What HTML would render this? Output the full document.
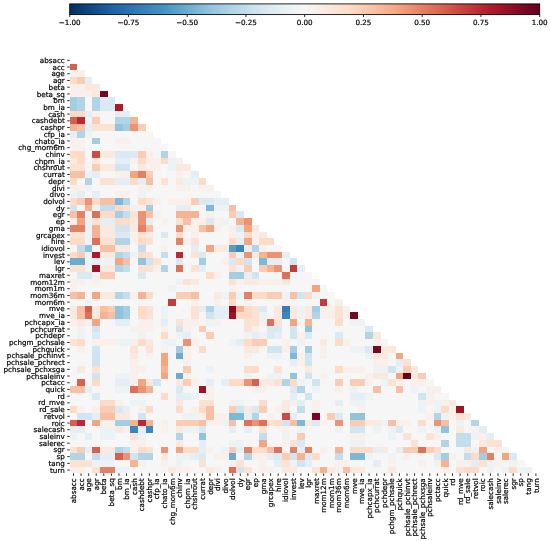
<!DOCTYPE html>
<html><head><meta charset="utf-8"><style>
html,body{margin:0;padding:0;background:#fff;}
body{width:550px;height:541px;overflow:hidden;}
svg{display:block;}
text{font-family:"DejaVu Sans","Liberation Sans",sans-serif;font-size:7.2px;fill:#000;stroke:#000;stroke-width:0.2px;}
</style></head><body>
<svg width="550" height="541" viewBox="0 0 550 541">
<defs><linearGradient id="cb" x1="0" x2="1" y1="0" y2="0"><stop offset="0.0000" stop-color="#053061"/><stop offset="0.0156" stop-color="#09386d"/><stop offset="0.0312" stop-color="#0e4179"/><stop offset="0.0469" stop-color="#124984"/><stop offset="0.0625" stop-color="#175290"/><stop offset="0.0781" stop-color="#1b5a9c"/><stop offset="0.0938" stop-color="#1f63a8"/><stop offset="0.1094" stop-color="#246aae"/><stop offset="0.1250" stop-color="#2a71b2"/><stop offset="0.1406" stop-color="#2f79b5"/><stop offset="0.1562" stop-color="#3480b9"/><stop offset="0.1719" stop-color="#3a87bd"/><stop offset="0.1875" stop-color="#3f8ec0"/><stop offset="0.2031" stop-color="#4695c4"/><stop offset="0.2188" stop-color="#529dc8"/><stop offset="0.2344" stop-color="#5fa5cd"/><stop offset="0.2500" stop-color="#6bacd1"/><stop offset="0.2656" stop-color="#78b4d5"/><stop offset="0.2812" stop-color="#84bcd9"/><stop offset="0.2969" stop-color="#90c4dd"/><stop offset="0.3125" stop-color="#9bc9e0"/><stop offset="0.3281" stop-color="#a5cee3"/><stop offset="0.3438" stop-color="#aed3e6"/><stop offset="0.3594" stop-color="#b8d8e9"/><stop offset="0.3750" stop-color="#c2ddec"/><stop offset="0.3906" stop-color="#cce2ef"/><stop offset="0.4062" stop-color="#d4e6f1"/><stop offset="0.4219" stop-color="#dae9f2"/><stop offset="0.4375" stop-color="#e0ecf3"/><stop offset="0.4531" stop-color="#e6eff4"/><stop offset="0.4688" stop-color="#ecf2f5"/><stop offset="0.4844" stop-color="#f2f5f6"/><stop offset="0.5000" stop-color="#f7f6f6"/><stop offset="0.5156" stop-color="#f8f2ef"/><stop offset="0.5312" stop-color="#f9eee7"/><stop offset="0.5469" stop-color="#fae9df"/><stop offset="0.5625" stop-color="#fbe5d8"/><stop offset="0.5781" stop-color="#fce0d0"/><stop offset="0.5938" stop-color="#fddcc9"/><stop offset="0.6094" stop-color="#fcd5bf"/><stop offset="0.6250" stop-color="#fbccb4"/><stop offset="0.6406" stop-color="#f9c4a9"/><stop offset="0.6562" stop-color="#f8bb9e"/><stop offset="0.6719" stop-color="#f6b394"/><stop offset="0.6875" stop-color="#f5aa89"/><stop offset="0.7031" stop-color="#f2a17f"/><stop offset="0.7188" stop-color="#ee9677"/><stop offset="0.7344" stop-color="#e98b6e"/><stop offset="0.7500" stop-color="#e48066"/><stop offset="0.7656" stop-color="#df765e"/><stop offset="0.7812" stop-color="#db6b55"/><stop offset="0.7969" stop-color="#d6604d"/><stop offset="0.8125" stop-color="#d05548"/><stop offset="0.8281" stop-color="#cb4942"/><stop offset="0.8438" stop-color="#c53e3d"/><stop offset="0.8594" stop-color="#bf3338"/><stop offset="0.8750" stop-color="#ba2832"/><stop offset="0.8906" stop-color="#b41c2d"/><stop offset="0.9062" stop-color="#ab162a"/><stop offset="0.9219" stop-color="#9f1228"/><stop offset="0.9375" stop-color="#930e26"/><stop offset="0.9531" stop-color="#870a24"/><stop offset="0.9688" stop-color="#7c0722"/><stop offset="0.9844" stop-color="#700320"/><stop offset="1.0000" stop-color="#67001f"/></linearGradient></defs>
<g>
<rect x="69.7" y="3.9" width="470.00" height="10.70" fill="url(#cb)"/>
<rect x="69.7" y="3.9" width="470.00" height="10.70" fill="none" stroke="#000" stroke-width="0.85"/>
<line x1="69.70" x2="69.70" y1="14.6" y2="17.05" stroke="#000" stroke-width="0.85"/>
<text x="69.70" y="24.97" text-anchor="middle">−1.00</text>
<line x1="128.45" x2="128.45" y1="14.6" y2="17.05" stroke="#000" stroke-width="0.85"/>
<text x="128.45" y="24.97" text-anchor="middle">−0.75</text>
<line x1="187.20" x2="187.20" y1="14.6" y2="17.05" stroke="#000" stroke-width="0.85"/>
<text x="187.20" y="24.97" text-anchor="middle">−0.50</text>
<line x1="245.95" x2="245.95" y1="14.6" y2="17.05" stroke="#000" stroke-width="0.85"/>
<text x="245.95" y="24.97" text-anchor="middle">−0.25</text>
<line x1="304.70" x2="304.70" y1="14.6" y2="17.05" stroke="#000" stroke-width="0.85"/>
<text x="304.70" y="24.97" text-anchor="middle">0.00</text>
<line x1="363.45" x2="363.45" y1="14.6" y2="17.05" stroke="#000" stroke-width="0.85"/>
<text x="363.45" y="24.97" text-anchor="middle">0.25</text>
<line x1="422.20" x2="422.20" y1="14.6" y2="17.05" stroke="#000" stroke-width="0.85"/>
<text x="422.20" y="24.97" text-anchor="middle">0.50</text>
<line x1="480.95" x2="480.95" y1="14.6" y2="17.05" stroke="#000" stroke-width="0.85"/>
<text x="480.95" y="24.97" text-anchor="middle">0.75</text>
<line x1="539.70" x2="539.70" y1="14.6" y2="17.05" stroke="#000" stroke-width="0.85"/>
<text x="539.70" y="24.97" text-anchor="middle">1.00</text>
<g shape-rendering="crispEdges"><rect x="69.70" y="63.72" width="7.58" height="6.72" fill="#d6604d"/><rect x="69.70" y="70.43" width="7.58" height="6.72" fill="#edf2f5"/><rect x="77.28" y="70.43" width="7.58" height="6.72" fill="#f9f0eb"/><rect x="69.70" y="77.15" width="7.58" height="6.72" fill="#fddbc7"/><rect x="77.28" y="77.15" width="7.58" height="6.72" fill="#fbccb4"/><rect x="84.86" y="77.15" width="7.58" height="6.72" fill="#e4eef4"/><rect x="69.70" y="83.86" width="7.58" height="6.72" fill="#f9f0eb"/><rect x="77.28" y="83.86" width="7.58" height="6.72" fill="#f9f0eb"/><rect x="84.86" y="83.86" width="7.58" height="6.72" fill="#fae9df"/><rect x="92.44" y="83.86" width="7.58" height="6.72" fill="#fae9df"/><rect x="69.70" y="90.58" width="7.58" height="6.72" fill="#f9f0eb"/><rect x="77.28" y="90.58" width="7.58" height="6.72" fill="#f9f0eb"/><rect x="84.86" y="90.58" width="7.58" height="6.72" fill="#f9f0eb"/><rect x="92.44" y="90.58" width="7.58" height="6.72" fill="#fae9df"/><rect x="100.02" y="90.58" width="7.58" height="6.72" fill="#790622"/><rect x="69.70" y="97.30" width="7.58" height="6.72" fill="#a2cde3"/><rect x="77.28" y="97.30" width="7.58" height="6.72" fill="#b1d5e7"/><rect x="84.86" y="97.30" width="7.58" height="6.72" fill="#f7f6f6"/><rect x="92.44" y="97.30" width="7.58" height="6.72" fill="#b1d5e7"/><rect x="100.02" y="97.30" width="7.58" height="6.72" fill="#dae9f2"/><rect x="107.60" y="97.30" width="7.58" height="6.72" fill="#dae9f2"/><rect x="69.70" y="104.01" width="7.58" height="6.72" fill="#a2cde3"/><rect x="77.28" y="104.01" width="7.58" height="6.72" fill="#b1d5e7"/><rect x="84.86" y="104.01" width="7.58" height="6.72" fill="#f7f6f6"/><rect x="92.44" y="104.01" width="7.58" height="6.72" fill="#b1d5e7"/><rect x="100.02" y="104.01" width="7.58" height="6.72" fill="#dae9f2"/><rect x="107.60" y="104.01" width="7.58" height="6.72" fill="#dae9f2"/><rect x="115.18" y="104.01" width="7.58" height="6.72" fill="#b1182b"/><rect x="69.70" y="110.73" width="7.58" height="6.72" fill="#fddbc7"/><rect x="77.28" y="110.73" width="7.58" height="6.72" fill="#fddbc7"/><rect x="84.86" y="110.73" width="7.58" height="6.72" fill="#e4eef4"/><rect x="92.44" y="110.73" width="7.58" height="6.72" fill="#f9f0eb"/><rect x="100.02" y="110.73" width="7.58" height="6.72" fill="#f7f6f6"/><rect x="107.60" y="110.73" width="7.58" height="6.72" fill="#f7f6f6"/><rect x="115.18" y="110.73" width="7.58" height="6.72" fill="#e4eef4"/><rect x="122.76" y="110.73" width="7.58" height="6.72" fill="#e4eef4"/><rect x="69.70" y="117.45" width="7.58" height="6.72" fill="#d6604d"/><rect x="77.28" y="117.45" width="7.58" height="6.72" fill="#ba2832"/><rect x="84.86" y="117.45" width="7.58" height="6.72" fill="#edf2f5"/><rect x="92.44" y="117.45" width="7.58" height="6.72" fill="#fbccb4"/><rect x="100.02" y="117.45" width="7.58" height="6.72" fill="#f7f6f6"/><rect x="107.60" y="117.45" width="7.58" height="6.72" fill="#f7f6f6"/><rect x="115.18" y="117.45" width="7.58" height="6.72" fill="#b1d5e7"/><rect x="122.76" y="117.45" width="7.58" height="6.72" fill="#b1d5e7"/><rect x="130.35" y="117.45" width="7.58" height="6.72" fill="#f6b394"/><rect x="69.70" y="124.16" width="7.58" height="6.72" fill="#f6b394"/><rect x="77.28" y="124.16" width="7.58" height="6.72" fill="#f8bfa4"/><rect x="84.86" y="124.16" width="7.58" height="6.72" fill="#e4eef4"/><rect x="92.44" y="124.16" width="7.58" height="6.72" fill="#fce2d2"/><rect x="100.02" y="124.16" width="7.58" height="6.72" fill="#fce2d2"/><rect x="107.60" y="124.16" width="7.58" height="6.72" fill="#fce2d2"/><rect x="115.18" y="124.16" width="7.58" height="6.72" fill="#90c4dd"/><rect x="122.76" y="124.16" width="7.58" height="6.72" fill="#a2cde3"/><rect x="130.35" y="124.16" width="7.58" height="6.72" fill="#ec9374"/><rect x="137.93" y="124.16" width="7.58" height="6.72" fill="#fbccb4"/><rect x="69.70" y="130.88" width="7.58" height="6.72" fill="#e4eef4"/><rect x="77.28" y="130.88" width="7.58" height="6.72" fill="#b1d5e7"/><rect x="84.86" y="130.88" width="7.58" height="6.72" fill="#edf2f5"/><rect x="92.44" y="130.88" width="7.58" height="6.72" fill="#f7f6f6"/><rect x="100.02" y="130.88" width="7.58" height="6.72" fill="#f7f6f6"/><rect x="107.60" y="130.88" width="7.58" height="6.72" fill="#f7f6f6"/><rect x="115.18" y="130.88" width="7.58" height="6.72" fill="#f7f6f6"/><rect x="122.76" y="130.88" width="7.58" height="6.72" fill="#f7f6f6"/><rect x="130.35" y="130.88" width="7.58" height="6.72" fill="#f7f6f6"/><rect x="137.93" y="130.88" width="7.58" height="6.72" fill="#f7f6f6"/><rect x="145.51" y="130.88" width="7.58" height="6.72" fill="#f7f6f6"/><rect x="69.70" y="137.59" width="7.58" height="6.72" fill="#f9f0eb"/><rect x="77.28" y="137.59" width="7.58" height="6.72" fill="#f9f0eb"/><rect x="84.86" y="137.59" width="7.58" height="6.72" fill="#f7f6f6"/><rect x="92.44" y="137.59" width="7.58" height="6.72" fill="#a2cde3"/><rect x="100.02" y="137.59" width="7.58" height="6.72" fill="#f7f6f6"/><rect x="107.60" y="137.59" width="7.58" height="6.72" fill="#f7f6f6"/><rect x="115.18" y="137.59" width="7.58" height="6.72" fill="#f9f0eb"/><rect x="122.76" y="137.59" width="7.58" height="6.72" fill="#f9f0eb"/><rect x="130.35" y="137.59" width="7.58" height="6.72" fill="#f7f6f6"/><rect x="137.93" y="137.59" width="7.58" height="6.72" fill="#f7f6f6"/><rect x="145.51" y="137.59" width="7.58" height="6.72" fill="#f7f6f6"/><rect x="153.09" y="137.59" width="7.58" height="6.72" fill="#f7f6f6"/><rect x="69.70" y="144.31" width="7.58" height="6.72" fill="#f9f0eb"/><rect x="77.28" y="144.31" width="7.58" height="6.72" fill="#f9f0eb"/><rect x="84.86" y="144.31" width="7.58" height="6.72" fill="#f7f6f6"/><rect x="92.44" y="144.31" width="7.58" height="6.72" fill="#f7f6f6"/><rect x="100.02" y="144.31" width="7.58" height="6.72" fill="#f7f6f6"/><rect x="107.60" y="144.31" width="7.58" height="6.72" fill="#f7f6f6"/><rect x="115.18" y="144.31" width="7.58" height="6.72" fill="#f7f6f6"/><rect x="122.76" y="144.31" width="7.58" height="6.72" fill="#f7f6f6"/><rect x="130.35" y="144.31" width="7.58" height="6.72" fill="#f7f6f6"/><rect x="137.93" y="144.31" width="7.58" height="6.72" fill="#f7f6f6"/><rect x="145.51" y="144.31" width="7.58" height="6.72" fill="#f7f6f6"/><rect x="153.09" y="144.31" width="7.58" height="6.72" fill="#f7f6f6"/><rect x="160.67" y="144.31" width="7.58" height="6.72" fill="#f7f6f6"/><rect x="69.70" y="151.03" width="7.58" height="6.72" fill="#fddbc7"/><rect x="77.28" y="151.03" width="7.58" height="6.72" fill="#fddbc7"/><rect x="84.86" y="151.03" width="7.58" height="6.72" fill="#f7f6f6"/><rect x="92.44" y="151.03" width="7.58" height="6.72" fill="#cc4c44"/><rect x="100.02" y="151.03" width="7.58" height="6.72" fill="#fae9df"/><rect x="107.60" y="151.03" width="7.58" height="6.72" fill="#fae9df"/><rect x="115.18" y="151.03" width="7.58" height="6.72" fill="#dae9f2"/><rect x="122.76" y="151.03" width="7.58" height="6.72" fill="#dae9f2"/><rect x="130.35" y="151.03" width="7.58" height="6.72" fill="#dae9f2"/><rect x="137.93" y="151.03" width="7.58" height="6.72" fill="#fbccb4"/><rect x="145.51" y="151.03" width="7.58" height="6.72" fill="#f9f0eb"/><rect x="153.09" y="151.03" width="7.58" height="6.72" fill="#f7f6f6"/><rect x="160.67" y="151.03" width="7.58" height="6.72" fill="#b1d5e7"/><rect x="168.25" y="151.03" width="7.58" height="6.72" fill="#f7f6f6"/><rect x="69.70" y="157.74" width="7.58" height="6.72" fill="#fae9df"/><rect x="77.28" y="157.74" width="7.58" height="6.72" fill="#fddbc7"/><rect x="84.86" y="157.74" width="7.58" height="6.72" fill="#f7f6f6"/><rect x="92.44" y="157.74" width="7.58" height="6.72" fill="#fae9df"/><rect x="100.02" y="157.74" width="7.58" height="6.72" fill="#f7f6f6"/><rect x="107.60" y="157.74" width="7.58" height="6.72" fill="#f7f6f6"/><rect x="115.18" y="157.74" width="7.58" height="6.72" fill="#e4eef4"/><rect x="122.76" y="157.74" width="7.58" height="6.72" fill="#e4eef4"/><rect x="130.35" y="157.74" width="7.58" height="6.72" fill="#f9f0eb"/><rect x="137.93" y="157.74" width="7.58" height="6.72" fill="#fddbc7"/><rect x="145.51" y="157.74" width="7.58" height="6.72" fill="#f9f0eb"/><rect x="153.09" y="157.74" width="7.58" height="6.72" fill="#f9f0eb"/><rect x="160.67" y="157.74" width="7.58" height="6.72" fill="#fddbc7"/><rect x="168.25" y="157.74" width="7.58" height="6.72" fill="#edf2f5"/><rect x="175.83" y="157.74" width="7.58" height="6.72" fill="#f9f0eb"/><rect x="69.70" y="164.46" width="7.58" height="6.72" fill="#fce2d2"/><rect x="77.28" y="164.46" width="7.58" height="6.72" fill="#fce2d2"/><rect x="84.86" y="164.46" width="7.58" height="6.72" fill="#f7f6f6"/><rect x="92.44" y="164.46" width="7.58" height="6.72" fill="#fbccb4"/><rect x="100.02" y="164.46" width="7.58" height="6.72" fill="#fae9df"/><rect x="107.60" y="164.46" width="7.58" height="6.72" fill="#fae9df"/><rect x="115.18" y="164.46" width="7.58" height="6.72" fill="#d1e5f0"/><rect x="122.76" y="164.46" width="7.58" height="6.72" fill="#d1e5f0"/><rect x="130.35" y="164.46" width="7.58" height="6.72" fill="#f7f6f6"/><rect x="137.93" y="164.46" width="7.58" height="6.72" fill="#fae9df"/><rect x="145.51" y="164.46" width="7.58" height="6.72" fill="#f9f0eb"/><rect x="153.09" y="164.46" width="7.58" height="6.72" fill="#f9f0eb"/><rect x="160.67" y="164.46" width="7.58" height="6.72" fill="#f7f6f6"/><rect x="168.25" y="164.46" width="7.58" height="6.72" fill="#edf2f5"/><rect x="175.83" y="164.46" width="7.58" height="6.72" fill="#fae9df"/><rect x="183.41" y="164.46" width="7.58" height="6.72" fill="#fae9df"/><rect x="69.70" y="171.17" width="7.58" height="6.72" fill="#f8bfa4"/><rect x="77.28" y="171.17" width="7.58" height="6.72" fill="#f8bfa4"/><rect x="84.86" y="171.17" width="7.58" height="6.72" fill="#edf2f5"/><rect x="92.44" y="171.17" width="7.58" height="6.72" fill="#e4eef4"/><rect x="100.02" y="171.17" width="7.58" height="6.72" fill="#f7f6f6"/><rect x="107.60" y="171.17" width="7.58" height="6.72" fill="#f7f6f6"/><rect x="115.18" y="171.17" width="7.58" height="6.72" fill="#f9f0eb"/><rect x="122.76" y="171.17" width="7.58" height="6.72" fill="#f9f0eb"/><rect x="130.35" y="171.17" width="7.58" height="6.72" fill="#f3a481"/><rect x="137.93" y="171.17" width="7.58" height="6.72" fill="#e48066"/><rect x="145.51" y="171.17" width="7.58" height="6.72" fill="#fbccb4"/><rect x="153.09" y="171.17" width="7.58" height="6.72" fill="#f7f6f6"/><rect x="160.67" y="171.17" width="7.58" height="6.72" fill="#f7f6f6"/><rect x="168.25" y="171.17" width="7.58" height="6.72" fill="#f7f6f6"/><rect x="175.83" y="171.17" width="7.58" height="6.72" fill="#f9f0eb"/><rect x="183.41" y="171.17" width="7.58" height="6.72" fill="#f7f6f6"/><rect x="190.99" y="171.17" width="7.58" height="6.72" fill="#e4eef4"/><rect x="69.70" y="177.89" width="7.58" height="6.72" fill="#fddbc7"/><rect x="77.28" y="177.89" width="7.58" height="6.72" fill="#f7f6f6"/><rect x="84.86" y="177.89" width="7.58" height="6.72" fill="#b1d5e7"/><rect x="92.44" y="177.89" width="7.58" height="6.72" fill="#f7f6f6"/><rect x="100.02" y="177.89" width="7.58" height="6.72" fill="#fce2d2"/><rect x="107.60" y="177.89" width="7.58" height="6.72" fill="#fce2d2"/><rect x="115.18" y="177.89" width="7.58" height="6.72" fill="#e4eef4"/><rect x="122.76" y="177.89" width="7.58" height="6.72" fill="#e4eef4"/><rect x="130.35" y="177.89" width="7.58" height="6.72" fill="#fddbc7"/><rect x="137.93" y="177.89" width="7.58" height="6.72" fill="#e4eef4"/><rect x="145.51" y="177.89" width="7.58" height="6.72" fill="#f8bfa4"/><rect x="153.09" y="177.89" width="7.58" height="6.72" fill="#f7f6f6"/><rect x="160.67" y="177.89" width="7.58" height="6.72" fill="#fce2d2"/><rect x="168.25" y="177.89" width="7.58" height="6.72" fill="#f7f6f6"/><rect x="175.83" y="177.89" width="7.58" height="6.72" fill="#fae9df"/><rect x="183.41" y="177.89" width="7.58" height="6.72" fill="#edf2f5"/><rect x="190.99" y="177.89" width="7.58" height="6.72" fill="#edf2f5"/><rect x="198.57" y="177.89" width="7.58" height="6.72" fill="#fddbc7"/><rect x="69.70" y="184.61" width="7.58" height="6.72" fill="#f9f0eb"/><rect x="77.28" y="184.61" width="7.58" height="6.72" fill="#f9f0eb"/><rect x="84.86" y="184.61" width="7.58" height="6.72" fill="#edf2f5"/><rect x="92.44" y="184.61" width="7.58" height="6.72" fill="#f7f6f6"/><rect x="100.02" y="184.61" width="7.58" height="6.72" fill="#f7f6f6"/><rect x="107.60" y="184.61" width="7.58" height="6.72" fill="#f7f6f6"/><rect x="115.18" y="184.61" width="7.58" height="6.72" fill="#f7f6f6"/><rect x="122.76" y="184.61" width="7.58" height="6.72" fill="#f7f6f6"/><rect x="130.35" y="184.61" width="7.58" height="6.72" fill="#f7f6f6"/><rect x="137.93" y="184.61" width="7.58" height="6.72" fill="#f9f0eb"/><rect x="145.51" y="184.61" width="7.58" height="6.72" fill="#f9f0eb"/><rect x="153.09" y="184.61" width="7.58" height="6.72" fill="#f7f6f6"/><rect x="160.67" y="184.61" width="7.58" height="6.72" fill="#f7f6f6"/><rect x="168.25" y="184.61" width="7.58" height="6.72" fill="#f7f6f6"/><rect x="175.83" y="184.61" width="7.58" height="6.72" fill="#f9f0eb"/><rect x="183.41" y="184.61" width="7.58" height="6.72" fill="#f9f0eb"/><rect x="190.99" y="184.61" width="7.58" height="6.72" fill="#f7f6f6"/><rect x="198.57" y="184.61" width="7.58" height="6.72" fill="#f9f0eb"/><rect x="206.15" y="184.61" width="7.58" height="6.72" fill="#f9f0eb"/><rect x="69.70" y="191.32" width="7.58" height="6.72" fill="#edf2f5"/><rect x="77.28" y="191.32" width="7.58" height="6.72" fill="#e4eef4"/><rect x="84.86" y="191.32" width="7.58" height="6.72" fill="#f7f6f6"/><rect x="92.44" y="191.32" width="7.58" height="6.72" fill="#e4eef4"/><rect x="100.02" y="191.32" width="7.58" height="6.72" fill="#f7f6f6"/><rect x="107.60" y="191.32" width="7.58" height="6.72" fill="#f7f6f6"/><rect x="115.18" y="191.32" width="7.58" height="6.72" fill="#f9f0eb"/><rect x="122.76" y="191.32" width="7.58" height="6.72" fill="#f9f0eb"/><rect x="130.35" y="191.32" width="7.58" height="6.72" fill="#f7f6f6"/><rect x="137.93" y="191.32" width="7.58" height="6.72" fill="#edf2f5"/><rect x="145.51" y="191.32" width="7.58" height="6.72" fill="#f7f6f6"/><rect x="153.09" y="191.32" width="7.58" height="6.72" fill="#f7f6f6"/><rect x="160.67" y="191.32" width="7.58" height="6.72" fill="#f7f6f6"/><rect x="168.25" y="191.32" width="7.58" height="6.72" fill="#f7f6f6"/><rect x="175.83" y="191.32" width="7.58" height="6.72" fill="#f7f6f6"/><rect x="183.41" y="191.32" width="7.58" height="6.72" fill="#f7f6f6"/><rect x="190.99" y="191.32" width="7.58" height="6.72" fill="#f7f6f6"/><rect x="198.57" y="191.32" width="7.58" height="6.72" fill="#f7f6f6"/><rect x="206.15" y="191.32" width="7.58" height="6.72" fill="#f7f6f6"/><rect x="213.73" y="191.32" width="7.58" height="6.72" fill="#f7f6f6"/><rect x="69.70" y="198.04" width="7.58" height="6.72" fill="#fddbc7"/><rect x="77.28" y="198.04" width="7.58" height="6.72" fill="#fbccb4"/><rect x="84.86" y="198.04" width="7.58" height="6.72" fill="#ec9374"/><rect x="92.44" y="198.04" width="7.58" height="6.72" fill="#fddbc7"/><rect x="100.02" y="198.04" width="7.58" height="6.72" fill="#f8bfa4"/><rect x="107.60" y="198.04" width="7.58" height="6.72" fill="#f8bfa4"/><rect x="115.18" y="198.04" width="7.58" height="6.72" fill="#7eb8d7"/><rect x="122.76" y="198.04" width="7.58" height="6.72" fill="#b1d5e7"/><rect x="130.35" y="198.04" width="7.58" height="6.72" fill="#f7f6f6"/><rect x="137.93" y="198.04" width="7.58" height="6.72" fill="#fddbc7"/><rect x="145.51" y="198.04" width="7.58" height="6.72" fill="#fce2d2"/><rect x="153.09" y="198.04" width="7.58" height="6.72" fill="#f9f0eb"/><rect x="160.67" y="198.04" width="7.58" height="6.72" fill="#f7f6f6"/><rect x="168.25" y="198.04" width="7.58" height="6.72" fill="#f9f0eb"/><rect x="175.83" y="198.04" width="7.58" height="6.72" fill="#f9f0eb"/><rect x="183.41" y="198.04" width="7.58" height="6.72" fill="#f9f0eb"/><rect x="190.99" y="198.04" width="7.58" height="6.72" fill="#fbccb4"/><rect x="198.57" y="198.04" width="7.58" height="6.72" fill="#dae9f2"/><rect x="206.15" y="198.04" width="7.58" height="6.72" fill="#dae9f2"/><rect x="213.73" y="198.04" width="7.58" height="6.72" fill="#e4eef4"/><rect x="221.31" y="198.04" width="7.58" height="6.72" fill="#e4eef4"/><rect x="69.70" y="204.75" width="7.58" height="6.72" fill="#d1e5f0"/><rect x="77.28" y="204.75" width="7.58" height="6.72" fill="#f7f6f6"/><rect x="84.86" y="204.75" width="7.58" height="6.72" fill="#f6b394"/><rect x="92.44" y="204.75" width="7.58" height="6.72" fill="#edf2f5"/><rect x="100.02" y="204.75" width="7.58" height="6.72" fill="#c2ddec"/><rect x="107.60" y="204.75" width="7.58" height="6.72" fill="#c2ddec"/><rect x="115.18" y="204.75" width="7.58" height="6.72" fill="#fddbc7"/><rect x="122.76" y="204.75" width="7.58" height="6.72" fill="#fce2d2"/><rect x="130.35" y="204.75" width="7.58" height="6.72" fill="#edf2f5"/><rect x="137.93" y="204.75" width="7.58" height="6.72" fill="#f9f0eb"/><rect x="145.51" y="204.75" width="7.58" height="6.72" fill="#a2cde3"/><rect x="153.09" y="204.75" width="7.58" height="6.72" fill="#f7f6f6"/><rect x="160.67" y="204.75" width="7.58" height="6.72" fill="#f7f6f6"/><rect x="168.25" y="204.75" width="7.58" height="6.72" fill="#f7f6f6"/><rect x="175.83" y="204.75" width="7.58" height="6.72" fill="#e4eef4"/><rect x="183.41" y="204.75" width="7.58" height="6.72" fill="#e4eef4"/><rect x="190.99" y="204.75" width="7.58" height="6.72" fill="#f7f6f6"/><rect x="198.57" y="204.75" width="7.58" height="6.72" fill="#f7f6f6"/><rect x="206.15" y="204.75" width="7.58" height="6.72" fill="#7eb8d7"/><rect x="213.73" y="204.75" width="7.58" height="6.72" fill="#edf2f5"/><rect x="221.31" y="204.75" width="7.58" height="6.72" fill="#edf2f5"/><rect x="228.89" y="204.75" width="7.58" height="6.72" fill="#f8bfa4"/><rect x="69.70" y="211.47" width="7.58" height="6.72" fill="#f8bfa4"/><rect x="77.28" y="211.47" width="7.58" height="6.72" fill="#e48066"/><rect x="84.86" y="211.47" width="7.58" height="6.72" fill="#edf2f5"/><rect x="92.44" y="211.47" width="7.58" height="6.72" fill="#dd7059"/><rect x="100.02" y="211.47" width="7.58" height="6.72" fill="#fddbc7"/><rect x="107.60" y="211.47" width="7.58" height="6.72" fill="#fddbc7"/><rect x="115.18" y="211.47" width="7.58" height="6.72" fill="#a2cde3"/><rect x="122.76" y="211.47" width="7.58" height="6.72" fill="#c2ddec"/><rect x="130.35" y="211.47" width="7.58" height="6.72" fill="#fce2d2"/><rect x="137.93" y="211.47" width="7.58" height="6.72" fill="#ec9374"/><rect x="145.51" y="211.47" width="7.58" height="6.72" fill="#f8bfa4"/><rect x="153.09" y="211.47" width="7.58" height="6.72" fill="#f9f0eb"/><rect x="160.67" y="211.47" width="7.58" height="6.72" fill="#f7f6f6"/><rect x="168.25" y="211.47" width="7.58" height="6.72" fill="#f7f6f6"/><rect x="175.83" y="211.47" width="7.58" height="6.72" fill="#f6b394"/><rect x="183.41" y="211.47" width="7.58" height="6.72" fill="#f6b394"/><rect x="190.99" y="211.47" width="7.58" height="6.72" fill="#f6b394"/><rect x="198.57" y="211.47" width="7.58" height="6.72" fill="#f7f6f6"/><rect x="206.15" y="211.47" width="7.58" height="6.72" fill="#f9f0eb"/><rect x="213.73" y="211.47" width="7.58" height="6.72" fill="#f7f6f6"/><rect x="221.31" y="211.47" width="7.58" height="6.72" fill="#f7f6f6"/><rect x="228.89" y="211.47" width="7.58" height="6.72" fill="#fbccb4"/><rect x="236.47" y="211.47" width="7.58" height="6.72" fill="#dae9f2"/><rect x="69.70" y="218.19" width="7.58" height="6.72" fill="#f9f0eb"/><rect x="77.28" y="218.19" width="7.58" height="6.72" fill="#f3a481"/><rect x="84.86" y="218.19" width="7.58" height="6.72" fill="#edf2f5"/><rect x="92.44" y="218.19" width="7.58" height="6.72" fill="#fce2d2"/><rect x="100.02" y="218.19" width="7.58" height="6.72" fill="#e4eef4"/><rect x="107.60" y="218.19" width="7.58" height="6.72" fill="#e4eef4"/><rect x="115.18" y="218.19" width="7.58" height="6.72" fill="#fddbc7"/><rect x="122.76" y="218.19" width="7.58" height="6.72" fill="#fddbc7"/><rect x="130.35" y="218.19" width="7.58" height="6.72" fill="#fae9df"/><rect x="137.93" y="218.19" width="7.58" height="6.72" fill="#ec9374"/><rect x="145.51" y="218.19" width="7.58" height="6.72" fill="#e4eef4"/><rect x="153.09" y="218.19" width="7.58" height="6.72" fill="#f7f6f6"/><rect x="160.67" y="218.19" width="7.58" height="6.72" fill="#f9f0eb"/><rect x="168.25" y="218.19" width="7.58" height="6.72" fill="#f7f6f6"/><rect x="175.83" y="218.19" width="7.58" height="6.72" fill="#fce2d2"/><rect x="183.41" y="218.19" width="7.58" height="6.72" fill="#f8bfa4"/><rect x="190.99" y="218.19" width="7.58" height="6.72" fill="#f9f0eb"/><rect x="198.57" y="218.19" width="7.58" height="6.72" fill="#f9f0eb"/><rect x="206.15" y="218.19" width="7.58" height="6.72" fill="#dae9f2"/><rect x="213.73" y="218.19" width="7.58" height="6.72" fill="#f9f0eb"/><rect x="221.31" y="218.19" width="7.58" height="6.72" fill="#edf2f5"/><rect x="228.89" y="218.19" width="7.58" height="6.72" fill="#f7f6f6"/><rect x="236.47" y="218.19" width="7.58" height="6.72" fill="#f6b394"/><rect x="244.05" y="218.19" width="7.58" height="6.72" fill="#ec9374"/><rect x="69.70" y="224.90" width="7.58" height="6.72" fill="#e48066"/><rect x="77.28" y="224.90" width="7.58" height="6.72" fill="#e48066"/><rect x="84.86" y="224.90" width="7.58" height="6.72" fill="#edf2f5"/><rect x="92.44" y="224.90" width="7.58" height="6.72" fill="#f6b394"/><rect x="100.02" y="224.90" width="7.58" height="6.72" fill="#fae9df"/><rect x="107.60" y="224.90" width="7.58" height="6.72" fill="#fae9df"/><rect x="115.18" y="224.90" width="7.58" height="6.72" fill="#d1e5f0"/><rect x="122.76" y="224.90" width="7.58" height="6.72" fill="#d1e5f0"/><rect x="130.35" y="224.90" width="7.58" height="6.72" fill="#fae9df"/><rect x="137.93" y="224.90" width="7.58" height="6.72" fill="#e48066"/><rect x="145.51" y="224.90" width="7.58" height="6.72" fill="#f8bfa4"/><rect x="153.09" y="224.90" width="7.58" height="6.72" fill="#f7f6f6"/><rect x="160.67" y="224.90" width="7.58" height="6.72" fill="#f7f6f6"/><rect x="168.25" y="224.90" width="7.58" height="6.72" fill="#f7f6f6"/><rect x="175.83" y="224.90" width="7.58" height="6.72" fill="#ec9374"/><rect x="183.41" y="224.90" width="7.58" height="6.72" fill="#f9f0eb"/><rect x="190.99" y="224.90" width="7.58" height="6.72" fill="#f9f0eb"/><rect x="198.57" y="224.90" width="7.58" height="6.72" fill="#f8bfa4"/><rect x="206.15" y="224.90" width="7.58" height="6.72" fill="#f3a481"/><rect x="213.73" y="224.90" width="7.58" height="6.72" fill="#f9f0eb"/><rect x="221.31" y="224.90" width="7.58" height="6.72" fill="#f7f6f6"/><rect x="228.89" y="224.90" width="7.58" height="6.72" fill="#f9f0eb"/><rect x="236.47" y="224.90" width="7.58" height="6.72" fill="#dae9f2"/><rect x="244.05" y="224.90" width="7.58" height="6.72" fill="#f3a481"/><rect x="251.64" y="224.90" width="7.58" height="6.72" fill="#fae9df"/><rect x="69.70" y="231.62" width="7.58" height="6.72" fill="#fce2d2"/><rect x="77.28" y="231.62" width="7.58" height="6.72" fill="#fce2d2"/><rect x="84.86" y="231.62" width="7.58" height="6.72" fill="#edf2f5"/><rect x="92.44" y="231.62" width="7.58" height="6.72" fill="#f6b394"/><rect x="100.02" y="231.62" width="7.58" height="6.72" fill="#fae9df"/><rect x="107.60" y="231.62" width="7.58" height="6.72" fill="#fae9df"/><rect x="115.18" y="231.62" width="7.58" height="6.72" fill="#dae9f2"/><rect x="122.76" y="231.62" width="7.58" height="6.72" fill="#dae9f2"/><rect x="130.35" y="231.62" width="7.58" height="6.72" fill="#f9f0eb"/><rect x="137.93" y="231.62" width="7.58" height="6.72" fill="#fce2d2"/><rect x="145.51" y="231.62" width="7.58" height="6.72" fill="#fae9df"/><rect x="153.09" y="231.62" width="7.58" height="6.72" fill="#f7f6f6"/><rect x="160.67" y="231.62" width="7.58" height="6.72" fill="#dae9f2"/><rect x="168.25" y="231.62" width="7.58" height="6.72" fill="#f7f6f6"/><rect x="175.83" y="231.62" width="7.58" height="6.72" fill="#fddbc7"/><rect x="183.41" y="231.62" width="7.58" height="6.72" fill="#f7f6f6"/><rect x="190.99" y="231.62" width="7.58" height="6.72" fill="#f9f0eb"/><rect x="198.57" y="231.62" width="7.58" height="6.72" fill="#f7f6f6"/><rect x="206.15" y="231.62" width="7.58" height="6.72" fill="#f7f6f6"/><rect x="213.73" y="231.62" width="7.58" height="6.72" fill="#f7f6f6"/><rect x="221.31" y="231.62" width="7.58" height="6.72" fill="#f7f6f6"/><rect x="228.89" y="231.62" width="7.58" height="6.72" fill="#f9f0eb"/><rect x="236.47" y="231.62" width="7.58" height="6.72" fill="#edf2f5"/><rect x="244.05" y="231.62" width="7.58" height="6.72" fill="#fddbc7"/><rect x="251.64" y="231.62" width="7.58" height="6.72" fill="#f9f0eb"/><rect x="259.22" y="231.62" width="7.58" height="6.72" fill="#fae9df"/><rect x="69.70" y="238.34" width="7.58" height="6.72" fill="#fddbc7"/><rect x="77.28" y="238.34" width="7.58" height="6.72" fill="#fddbc7"/><rect x="84.86" y="238.34" width="7.58" height="6.72" fill="#edf2f5"/><rect x="92.44" y="238.34" width="7.58" height="6.72" fill="#dd7059"/><rect x="100.02" y="238.34" width="7.58" height="6.72" fill="#fce2d2"/><rect x="107.60" y="238.34" width="7.58" height="6.72" fill="#fce2d2"/><rect x="115.18" y="238.34" width="7.58" height="6.72" fill="#b1d5e7"/><rect x="122.76" y="238.34" width="7.58" height="6.72" fill="#b1d5e7"/><rect x="130.35" y="238.34" width="7.58" height="6.72" fill="#f9f0eb"/><rect x="137.93" y="238.34" width="7.58" height="6.72" fill="#fddbc7"/><rect x="145.51" y="238.34" width="7.58" height="6.72" fill="#fce2d2"/><rect x="153.09" y="238.34" width="7.58" height="6.72" fill="#f7f6f6"/><rect x="160.67" y="238.34" width="7.58" height="6.72" fill="#f7f6f6"/><rect x="168.25" y="238.34" width="7.58" height="6.72" fill="#f7f6f6"/><rect x="175.83" y="238.34" width="7.58" height="6.72" fill="#e48066"/><rect x="183.41" y="238.34" width="7.58" height="6.72" fill="#f9f0eb"/><rect x="190.99" y="238.34" width="7.58" height="6.72" fill="#fce2d2"/><rect x="198.57" y="238.34" width="7.58" height="6.72" fill="#f7f6f6"/><rect x="206.15" y="238.34" width="7.58" height="6.72" fill="#f7f6f6"/><rect x="213.73" y="238.34" width="7.58" height="6.72" fill="#f7f6f6"/><rect x="221.31" y="238.34" width="7.58" height="6.72" fill="#f7f6f6"/><rect x="228.89" y="238.34" width="7.58" height="6.72" fill="#fddbc7"/><rect x="236.47" y="238.34" width="7.58" height="6.72" fill="#e4eef4"/><rect x="244.05" y="238.34" width="7.58" height="6.72" fill="#f3a481"/><rect x="251.64" y="238.34" width="7.58" height="6.72" fill="#f9f0eb"/><rect x="259.22" y="238.34" width="7.58" height="6.72" fill="#fddbc7"/><rect x="266.80" y="238.34" width="7.58" height="6.72" fill="#fddbc7"/><rect x="69.70" y="245.05" width="7.58" height="6.72" fill="#f7f6f6"/><rect x="77.28" y="245.05" width="7.58" height="6.72" fill="#c2ddec"/><rect x="84.86" y="245.05" width="7.58" height="6.72" fill="#90c4dd"/><rect x="92.44" y="245.05" width="7.58" height="6.72" fill="#f7f6f6"/><rect x="100.02" y="245.05" width="7.58" height="6.72" fill="#f8bfa4"/><rect x="107.60" y="245.05" width="7.58" height="6.72" fill="#f8bfa4"/><rect x="115.18" y="245.05" width="7.58" height="6.72" fill="#fae9df"/><rect x="122.76" y="245.05" width="7.58" height="6.72" fill="#fae9df"/><rect x="130.35" y="245.05" width="7.58" height="6.72" fill="#f7f6f6"/><rect x="137.93" y="245.05" width="7.58" height="6.72" fill="#c2ddec"/><rect x="145.51" y="245.05" width="7.58" height="6.72" fill="#f7f6f6"/><rect x="153.09" y="245.05" width="7.58" height="6.72" fill="#f7f6f6"/><rect x="160.67" y="245.05" width="7.58" height="6.72" fill="#f9f0eb"/><rect x="168.25" y="245.05" width="7.58" height="6.72" fill="#f7f6f6"/><rect x="175.83" y="245.05" width="7.58" height="6.72" fill="#f7f6f6"/><rect x="183.41" y="245.05" width="7.58" height="6.72" fill="#f7f6f6"/><rect x="190.99" y="245.05" width="7.58" height="6.72" fill="#e4eef4"/><rect x="198.57" y="245.05" width="7.58" height="6.72" fill="#f7f6f6"/><rect x="206.15" y="245.05" width="7.58" height="6.72" fill="#f3a481"/><rect x="213.73" y="245.05" width="7.58" height="6.72" fill="#fae9df"/><rect x="221.31" y="245.05" width="7.58" height="6.72" fill="#fae9df"/><rect x="228.89" y="245.05" width="7.58" height="6.72" fill="#569fc9"/><rect x="236.47" y="245.05" width="7.58" height="6.72" fill="#3a87bd"/><rect x="244.05" y="245.05" width="7.58" height="6.72" fill="#e4eef4"/><rect x="251.64" y="245.05" width="7.58" height="6.72" fill="#b1d5e7"/><rect x="259.22" y="245.05" width="7.58" height="6.72" fill="#f9f0eb"/><rect x="266.80" y="245.05" width="7.58" height="6.72" fill="#f7f6f6"/><rect x="274.38" y="245.05" width="7.58" height="6.72" fill="#f7f6f6"/><rect x="69.70" y="251.77" width="7.58" height="6.72" fill="#fddbc7"/><rect x="77.28" y="251.77" width="7.58" height="6.72" fill="#fbccb4"/><rect x="84.86" y="251.77" width="7.58" height="6.72" fill="#edf2f5"/><rect x="92.44" y="251.77" width="7.58" height="6.72" fill="#b1182b"/><rect x="100.02" y="251.77" width="7.58" height="6.72" fill="#fae9df"/><rect x="107.60" y="251.77" width="7.58" height="6.72" fill="#fae9df"/><rect x="115.18" y="251.77" width="7.58" height="6.72" fill="#b1d5e7"/><rect x="122.76" y="251.77" width="7.58" height="6.72" fill="#c2ddec"/><rect x="130.35" y="251.77" width="7.58" height="6.72" fill="#edf2f5"/><rect x="137.93" y="251.77" width="7.58" height="6.72" fill="#fddbc7"/><rect x="145.51" y="251.77" width="7.58" height="6.72" fill="#fce2d2"/><rect x="153.09" y="251.77" width="7.58" height="6.72" fill="#f7f6f6"/><rect x="160.67" y="251.77" width="7.58" height="6.72" fill="#c2ddec"/><rect x="168.25" y="251.77" width="7.58" height="6.72" fill="#f7f6f6"/><rect x="175.83" y="251.77" width="7.58" height="6.72" fill="#ba2832"/><rect x="183.41" y="251.77" width="7.58" height="6.72" fill="#f7f6f6"/><rect x="190.99" y="251.77" width="7.58" height="6.72" fill="#fce2d2"/><rect x="198.57" y="251.77" width="7.58" height="6.72" fill="#dae9f2"/><rect x="206.15" y="251.77" width="7.58" height="6.72" fill="#f7f6f6"/><rect x="213.73" y="251.77" width="7.58" height="6.72" fill="#f7f6f6"/><rect x="221.31" y="251.77" width="7.58" height="6.72" fill="#f7f6f6"/><rect x="228.89" y="251.77" width="7.58" height="6.72" fill="#fbccb4"/><rect x="236.47" y="251.77" width="7.58" height="6.72" fill="#edf2f5"/><rect x="244.05" y="251.77" width="7.58" height="6.72" fill="#ec9374"/><rect x="251.64" y="251.77" width="7.58" height="6.72" fill="#fae9df"/><rect x="259.22" y="251.77" width="7.58" height="6.72" fill="#f6b394"/><rect x="266.80" y="251.77" width="7.58" height="6.72" fill="#ec9374"/><rect x="274.38" y="251.77" width="7.58" height="6.72" fill="#ec9374"/><rect x="281.96" y="251.77" width="7.58" height="6.72" fill="#e4eef4"/><rect x="69.70" y="258.48" width="7.58" height="6.72" fill="#6bacd1"/><rect x="77.28" y="258.48" width="7.58" height="6.72" fill="#6bacd1"/><rect x="84.86" y="258.48" width="7.58" height="6.72" fill="#edf2f5"/><rect x="92.44" y="258.48" width="7.58" height="6.72" fill="#e4eef4"/><rect x="100.02" y="258.48" width="7.58" height="6.72" fill="#edf2f5"/><rect x="107.60" y="258.48" width="7.58" height="6.72" fill="#edf2f5"/><rect x="115.18" y="258.48" width="7.58" height="6.72" fill="#f3a481"/><rect x="122.76" y="258.48" width="7.58" height="6.72" fill="#f8bfa4"/><rect x="130.35" y="258.48" width="7.58" height="6.72" fill="#f7f6f6"/><rect x="137.93" y="258.48" width="7.58" height="6.72" fill="#90c4dd"/><rect x="145.51" y="258.48" width="7.58" height="6.72" fill="#d1e5f0"/><rect x="153.09" y="258.48" width="7.58" height="6.72" fill="#fce2d2"/><rect x="160.67" y="258.48" width="7.58" height="6.72" fill="#f7f6f6"/><rect x="168.25" y="258.48" width="7.58" height="6.72" fill="#f7f6f6"/><rect x="175.83" y="258.48" width="7.58" height="6.72" fill="#dae9f2"/><rect x="183.41" y="258.48" width="7.58" height="6.72" fill="#f7f6f6"/><rect x="190.99" y="258.48" width="7.58" height="6.72" fill="#f7f6f6"/><rect x="198.57" y="258.48" width="7.58" height="6.72" fill="#a2cde3"/><rect x="206.15" y="258.48" width="7.58" height="6.72" fill="#f7f6f6"/><rect x="213.73" y="258.48" width="7.58" height="6.72" fill="#f7f6f6"/><rect x="221.31" y="258.48" width="7.58" height="6.72" fill="#f9f0eb"/><rect x="228.89" y="258.48" width="7.58" height="6.72" fill="#dae9f2"/><rect x="236.47" y="258.48" width="7.58" height="6.72" fill="#fddbc7"/><rect x="244.05" y="258.48" width="7.58" height="6.72" fill="#d1e5f0"/><rect x="251.64" y="258.48" width="7.58" height="6.72" fill="#f7f6f6"/><rect x="259.22" y="258.48" width="7.58" height="6.72" fill="#7eb8d7"/><rect x="266.80" y="258.48" width="7.58" height="6.72" fill="#e4eef4"/><rect x="274.38" y="258.48" width="7.58" height="6.72" fill="#e4eef4"/><rect x="281.96" y="258.48" width="7.58" height="6.72" fill="#f7f6f6"/><rect x="289.54" y="258.48" width="7.58" height="6.72" fill="#d1e5f0"/><rect x="69.70" y="265.20" width="7.58" height="6.72" fill="#fce2d2"/><rect x="77.28" y="265.20" width="7.58" height="6.72" fill="#fce2d2"/><rect x="84.86" y="265.20" width="7.58" height="6.72" fill="#edf2f5"/><rect x="92.44" y="265.20" width="7.58" height="6.72" fill="#9f1228"/><rect x="100.02" y="265.20" width="7.58" height="6.72" fill="#fae9df"/><rect x="107.60" y="265.20" width="7.58" height="6.72" fill="#fae9df"/><rect x="115.18" y="265.20" width="7.58" height="6.72" fill="#b1d5e7"/><rect x="122.76" y="265.20" width="7.58" height="6.72" fill="#c2ddec"/><rect x="130.35" y="265.20" width="7.58" height="6.72" fill="#f7f6f6"/><rect x="137.93" y="265.20" width="7.58" height="6.72" fill="#fce2d2"/><rect x="145.51" y="265.20" width="7.58" height="6.72" fill="#fce2d2"/><rect x="153.09" y="265.20" width="7.58" height="6.72" fill="#f9f0eb"/><rect x="160.67" y="265.20" width="7.58" height="6.72" fill="#b1d5e7"/><rect x="168.25" y="265.20" width="7.58" height="6.72" fill="#f7f6f6"/><rect x="175.83" y="265.20" width="7.58" height="6.72" fill="#dd7059"/><rect x="183.41" y="265.20" width="7.58" height="6.72" fill="#f7f6f6"/><rect x="190.99" y="265.20" width="7.58" height="6.72" fill="#fce2d2"/><rect x="198.57" y="265.20" width="7.58" height="6.72" fill="#e4eef4"/><rect x="206.15" y="265.20" width="7.58" height="6.72" fill="#f7f6f6"/><rect x="213.73" y="265.20" width="7.58" height="6.72" fill="#f7f6f6"/><rect x="221.31" y="265.20" width="7.58" height="6.72" fill="#f7f6f6"/><rect x="228.89" y="265.20" width="7.58" height="6.72" fill="#fce2d2"/><rect x="236.47" y="265.20" width="7.58" height="6.72" fill="#edf2f5"/><rect x="244.05" y="265.20" width="7.58" height="6.72" fill="#fbccb4"/><rect x="251.64" y="265.20" width="7.58" height="6.72" fill="#f7f6f6"/><rect x="259.22" y="265.20" width="7.58" height="6.72" fill="#fbccb4"/><rect x="266.80" y="265.20" width="7.58" height="6.72" fill="#f6b394"/><rect x="274.38" y="265.20" width="7.58" height="6.72" fill="#ec9374"/><rect x="281.96" y="265.20" width="7.58" height="6.72" fill="#f7f6f6"/><rect x="289.54" y="265.20" width="7.58" height="6.72" fill="#c43b3c"/><rect x="297.12" y="265.20" width="7.58" height="6.72" fill="#e4eef4"/><rect x="69.70" y="271.92" width="7.58" height="6.72" fill="#f7f6f6"/><rect x="77.28" y="271.92" width="7.58" height="6.72" fill="#dae9f2"/><rect x="84.86" y="271.92" width="7.58" height="6.72" fill="#dae9f2"/><rect x="92.44" y="271.92" width="7.58" height="6.72" fill="#edf2f5"/><rect x="100.02" y="271.92" width="7.58" height="6.72" fill="#fbccb4"/><rect x="107.60" y="271.92" width="7.58" height="6.72" fill="#fbccb4"/><rect x="115.18" y="271.92" width="7.58" height="6.72" fill="#f7f6f6"/><rect x="122.76" y="271.92" width="7.58" height="6.72" fill="#f7f6f6"/><rect x="130.35" y="271.92" width="7.58" height="6.72" fill="#f7f6f6"/><rect x="137.93" y="271.92" width="7.58" height="6.72" fill="#dae9f2"/><rect x="145.51" y="271.92" width="7.58" height="6.72" fill="#f7f6f6"/><rect x="153.09" y="271.92" width="7.58" height="6.72" fill="#f7f6f6"/><rect x="160.67" y="271.92" width="7.58" height="6.72" fill="#f7f6f6"/><rect x="168.25" y="271.92" width="7.58" height="6.72" fill="#f7f6f6"/><rect x="175.83" y="271.92" width="7.58" height="6.72" fill="#f7f6f6"/><rect x="183.41" y="271.92" width="7.58" height="6.72" fill="#f7f6f6"/><rect x="190.99" y="271.92" width="7.58" height="6.72" fill="#f7f6f6"/><rect x="198.57" y="271.92" width="7.58" height="6.72" fill="#f7f6f6"/><rect x="206.15" y="271.92" width="7.58" height="6.72" fill="#fddbc7"/><rect x="213.73" y="271.92" width="7.58" height="6.72" fill="#f9f0eb"/><rect x="221.31" y="271.92" width="7.58" height="6.72" fill="#f7f6f6"/><rect x="228.89" y="271.92" width="7.58" height="6.72" fill="#a2cde3"/><rect x="236.47" y="271.92" width="7.58" height="6.72" fill="#a2cde3"/><rect x="244.05" y="271.92" width="7.58" height="6.72" fill="#e4eef4"/><rect x="251.64" y="271.92" width="7.58" height="6.72" fill="#d1e5f0"/><rect x="259.22" y="271.92" width="7.58" height="6.72" fill="#f7f6f6"/><rect x="266.80" y="271.92" width="7.58" height="6.72" fill="#f7f6f6"/><rect x="274.38" y="271.92" width="7.58" height="6.72" fill="#f7f6f6"/><rect x="281.96" y="271.92" width="7.58" height="6.72" fill="#dd7059"/><rect x="289.54" y="271.92" width="7.58" height="6.72" fill="#edf2f5"/><rect x="297.12" y="271.92" width="7.58" height="6.72" fill="#f7f6f6"/><rect x="304.70" y="271.92" width="7.58" height="6.72" fill="#f7f6f6"/><rect x="69.70" y="278.63" width="7.58" height="6.72" fill="#f9f0eb"/><rect x="77.28" y="278.63" width="7.58" height="6.72" fill="#f9f0eb"/><rect x="84.86" y="278.63" width="7.58" height="6.72" fill="#f7f6f6"/><rect x="92.44" y="278.63" width="7.58" height="6.72" fill="#f9f0eb"/><rect x="100.02" y="278.63" width="7.58" height="6.72" fill="#f7f6f6"/><rect x="107.60" y="278.63" width="7.58" height="6.72" fill="#f7f6f6"/><rect x="115.18" y="278.63" width="7.58" height="6.72" fill="#f7f6f6"/><rect x="122.76" y="278.63" width="7.58" height="6.72" fill="#f7f6f6"/><rect x="130.35" y="278.63" width="7.58" height="6.72" fill="#f7f6f6"/><rect x="137.93" y="278.63" width="7.58" height="6.72" fill="#f7f6f6"/><rect x="145.51" y="278.63" width="7.58" height="6.72" fill="#f7f6f6"/><rect x="153.09" y="278.63" width="7.58" height="6.72" fill="#f7f6f6"/><rect x="160.67" y="278.63" width="7.58" height="6.72" fill="#f7f6f6"/><rect x="168.25" y="278.63" width="7.58" height="6.72" fill="#f7f6f6"/><rect x="175.83" y="278.63" width="7.58" height="6.72" fill="#edf2f5"/><rect x="183.41" y="278.63" width="7.58" height="6.72" fill="#fce2d2"/><rect x="190.99" y="278.63" width="7.58" height="6.72" fill="#fae9df"/><rect x="198.57" y="278.63" width="7.58" height="6.72" fill="#f7f6f6"/><rect x="206.15" y="278.63" width="7.58" height="6.72" fill="#f7f6f6"/><rect x="213.73" y="278.63" width="7.58" height="6.72" fill="#f7f6f6"/><rect x="221.31" y="278.63" width="7.58" height="6.72" fill="#f7f6f6"/><rect x="228.89" y="278.63" width="7.58" height="6.72" fill="#fce2d2"/><rect x="236.47" y="278.63" width="7.58" height="6.72" fill="#f9f0eb"/><rect x="244.05" y="278.63" width="7.58" height="6.72" fill="#fae9df"/><rect x="251.64" y="278.63" width="7.58" height="6.72" fill="#fae9df"/><rect x="259.22" y="278.63" width="7.58" height="6.72" fill="#f9f0eb"/><rect x="266.80" y="278.63" width="7.58" height="6.72" fill="#f9f0eb"/><rect x="274.38" y="278.63" width="7.58" height="6.72" fill="#f9f0eb"/><rect x="281.96" y="278.63" width="7.58" height="6.72" fill="#fae9df"/><rect x="289.54" y="278.63" width="7.58" height="6.72" fill="#f7f6f6"/><rect x="297.12" y="278.63" width="7.58" height="6.72" fill="#f7f6f6"/><rect x="304.70" y="278.63" width="7.58" height="6.72" fill="#f7f6f6"/><rect x="312.28" y="278.63" width="7.58" height="6.72" fill="#f7f6f6"/><rect x="69.70" y="285.35" width="7.58" height="6.72" fill="#f9f0eb"/><rect x="77.28" y="285.35" width="7.58" height="6.72" fill="#f7f6f6"/><rect x="84.86" y="285.35" width="7.58" height="6.72" fill="#f7f6f6"/><rect x="92.44" y="285.35" width="7.58" height="6.72" fill="#f7f6f6"/><rect x="100.02" y="285.35" width="7.58" height="6.72" fill="#f7f6f6"/><rect x="107.60" y="285.35" width="7.58" height="6.72" fill="#f7f6f6"/><rect x="115.18" y="285.35" width="7.58" height="6.72" fill="#f7f6f6"/><rect x="122.76" y="285.35" width="7.58" height="6.72" fill="#f7f6f6"/><rect x="130.35" y="285.35" width="7.58" height="6.72" fill="#f7f6f6"/><rect x="137.93" y="285.35" width="7.58" height="6.72" fill="#f7f6f6"/><rect x="145.51" y="285.35" width="7.58" height="6.72" fill="#f7f6f6"/><rect x="153.09" y="285.35" width="7.58" height="6.72" fill="#f7f6f6"/><rect x="160.67" y="285.35" width="7.58" height="6.72" fill="#f7f6f6"/><rect x="168.25" y="285.35" width="7.58" height="6.72" fill="#edf2f5"/><rect x="175.83" y="285.35" width="7.58" height="6.72" fill="#f7f6f6"/><rect x="183.41" y="285.35" width="7.58" height="6.72" fill="#f7f6f6"/><rect x="190.99" y="285.35" width="7.58" height="6.72" fill="#f7f6f6"/><rect x="198.57" y="285.35" width="7.58" height="6.72" fill="#f7f6f6"/><rect x="206.15" y="285.35" width="7.58" height="6.72" fill="#f7f6f6"/><rect x="213.73" y="285.35" width="7.58" height="6.72" fill="#f7f6f6"/><rect x="221.31" y="285.35" width="7.58" height="6.72" fill="#f7f6f6"/><rect x="228.89" y="285.35" width="7.58" height="6.72" fill="#f9f0eb"/><rect x="236.47" y="285.35" width="7.58" height="6.72" fill="#f7f6f6"/><rect x="244.05" y="285.35" width="7.58" height="6.72" fill="#f7f6f6"/><rect x="251.64" y="285.35" width="7.58" height="6.72" fill="#f7f6f6"/><rect x="259.22" y="285.35" width="7.58" height="6.72" fill="#f7f6f6"/><rect x="266.80" y="285.35" width="7.58" height="6.72" fill="#f7f6f6"/><rect x="274.38" y="285.35" width="7.58" height="6.72" fill="#f7f6f6"/><rect x="281.96" y="285.35" width="7.58" height="6.72" fill="#f7f6f6"/><rect x="289.54" y="285.35" width="7.58" height="6.72" fill="#f7f6f6"/><rect x="297.12" y="285.35" width="7.58" height="6.72" fill="#f7f6f6"/><rect x="304.70" y="285.35" width="7.58" height="6.72" fill="#f7f6f6"/><rect x="312.28" y="285.35" width="7.58" height="6.72" fill="#f3a481"/><rect x="319.86" y="285.35" width="7.58" height="6.72" fill="#f7f6f6"/><rect x="69.70" y="292.06" width="7.58" height="6.72" fill="#f8bfa4"/><rect x="77.28" y="292.06" width="7.58" height="6.72" fill="#f6b394"/><rect x="84.86" y="292.06" width="7.58" height="6.72" fill="#f7f6f6"/><rect x="92.44" y="292.06" width="7.58" height="6.72" fill="#f3a481"/><rect x="100.02" y="292.06" width="7.58" height="6.72" fill="#fae9df"/><rect x="107.60" y="292.06" width="7.58" height="6.72" fill="#fae9df"/><rect x="115.18" y="292.06" width="7.58" height="6.72" fill="#b1d5e7"/><rect x="122.76" y="292.06" width="7.58" height="6.72" fill="#c2ddec"/><rect x="130.35" y="292.06" width="7.58" height="6.72" fill="#f9f0eb"/><rect x="137.93" y="292.06" width="7.58" height="6.72" fill="#f6b394"/><rect x="145.51" y="292.06" width="7.58" height="6.72" fill="#fddbc7"/><rect x="153.09" y="292.06" width="7.58" height="6.72" fill="#f7f6f6"/><rect x="160.67" y="292.06" width="7.58" height="6.72" fill="#f7f6f6"/><rect x="168.25" y="292.06" width="7.58" height="6.72" fill="#f7f6f6"/><rect x="175.83" y="292.06" width="7.58" height="6.72" fill="#fbccb4"/><rect x="183.41" y="292.06" width="7.58" height="6.72" fill="#fbccb4"/><rect x="190.99" y="292.06" width="7.58" height="6.72" fill="#f8bfa4"/><rect x="198.57" y="292.06" width="7.58" height="6.72" fill="#f7f6f6"/><rect x="206.15" y="292.06" width="7.58" height="6.72" fill="#f7f6f6"/><rect x="213.73" y="292.06" width="7.58" height="6.72" fill="#fae9df"/><rect x="221.31" y="292.06" width="7.58" height="6.72" fill="#edf2f5"/><rect x="228.89" y="292.06" width="7.58" height="6.72" fill="#fbccb4"/><rect x="236.47" y="292.06" width="7.58" height="6.72" fill="#edf2f5"/><rect x="244.05" y="292.06" width="7.58" height="6.72" fill="#e48066"/><rect x="251.64" y="292.06" width="7.58" height="6.72" fill="#fddbc7"/><rect x="259.22" y="292.06" width="7.58" height="6.72" fill="#fddbc7"/><rect x="266.80" y="292.06" width="7.58" height="6.72" fill="#fbccb4"/><rect x="274.38" y="292.06" width="7.58" height="6.72" fill="#fbccb4"/><rect x="281.96" y="292.06" width="7.58" height="6.72" fill="#edf2f5"/><rect x="289.54" y="292.06" width="7.58" height="6.72" fill="#f8bfa4"/><rect x="297.12" y="292.06" width="7.58" height="6.72" fill="#d1e5f0"/><rect x="304.70" y="292.06" width="7.58" height="6.72" fill="#fddbc7"/><rect x="312.28" y="292.06" width="7.58" height="6.72" fill="#edf2f5"/><rect x="319.86" y="292.06" width="7.58" height="6.72" fill="#f7f6f6"/><rect x="327.44" y="292.06" width="7.58" height="6.72" fill="#f7f6f6"/><rect x="69.70" y="298.78" width="7.58" height="6.72" fill="#f7f6f6"/><rect x="77.28" y="298.78" width="7.58" height="6.72" fill="#f7f6f6"/><rect x="84.86" y="298.78" width="7.58" height="6.72" fill="#edf2f5"/><rect x="92.44" y="298.78" width="7.58" height="6.72" fill="#f7f6f6"/><rect x="100.02" y="298.78" width="7.58" height="6.72" fill="#f7f6f6"/><rect x="107.60" y="298.78" width="7.58" height="6.72" fill="#f7f6f6"/><rect x="115.18" y="298.78" width="7.58" height="6.72" fill="#f7f6f6"/><rect x="122.76" y="298.78" width="7.58" height="6.72" fill="#f7f6f6"/><rect x="130.35" y="298.78" width="7.58" height="6.72" fill="#f7f6f6"/><rect x="137.93" y="298.78" width="7.58" height="6.72" fill="#f7f6f6"/><rect x="145.51" y="298.78" width="7.58" height="6.72" fill="#f7f6f6"/><rect x="153.09" y="298.78" width="7.58" height="6.72" fill="#f7f6f6"/><rect x="160.67" y="298.78" width="7.58" height="6.72" fill="#f7f6f6"/><rect x="168.25" y="298.78" width="7.58" height="6.72" fill="#c43b3c"/><rect x="175.83" y="298.78" width="7.58" height="6.72" fill="#f7f6f6"/><rect x="183.41" y="298.78" width="7.58" height="6.72" fill="#f7f6f6"/><rect x="190.99" y="298.78" width="7.58" height="6.72" fill="#f9f0eb"/><rect x="198.57" y="298.78" width="7.58" height="6.72" fill="#f7f6f6"/><rect x="206.15" y="298.78" width="7.58" height="6.72" fill="#f7f6f6"/><rect x="213.73" y="298.78" width="7.58" height="6.72" fill="#f9f0eb"/><rect x="221.31" y="298.78" width="7.58" height="6.72" fill="#f7f6f6"/><rect x="228.89" y="298.78" width="7.58" height="6.72" fill="#fddbc7"/><rect x="236.47" y="298.78" width="7.58" height="6.72" fill="#f7f6f6"/><rect x="244.05" y="298.78" width="7.58" height="6.72" fill="#f9f0eb"/><rect x="251.64" y="298.78" width="7.58" height="6.72" fill="#f7f6f6"/><rect x="259.22" y="298.78" width="7.58" height="6.72" fill="#f7f6f6"/><rect x="266.80" y="298.78" width="7.58" height="6.72" fill="#f7f6f6"/><rect x="274.38" y="298.78" width="7.58" height="6.72" fill="#f7f6f6"/><rect x="281.96" y="298.78" width="7.58" height="6.72" fill="#f9f0eb"/><rect x="289.54" y="298.78" width="7.58" height="6.72" fill="#f7f6f6"/><rect x="297.12" y="298.78" width="7.58" height="6.72" fill="#f7f6f6"/><rect x="304.70" y="298.78" width="7.58" height="6.72" fill="#f7f6f6"/><rect x="312.28" y="298.78" width="7.58" height="6.72" fill="#f7f6f6"/><rect x="319.86" y="298.78" width="7.58" height="6.72" fill="#c43b3c"/><rect x="327.44" y="298.78" width="7.58" height="6.72" fill="#f7f6f6"/><rect x="335.02" y="298.78" width="7.58" height="6.72" fill="#f9f0eb"/><rect x="69.70" y="305.50" width="7.58" height="6.72" fill="#fae9df"/><rect x="77.28" y="305.50" width="7.58" height="6.72" fill="#f8bfa4"/><rect x="84.86" y="305.50" width="7.58" height="6.72" fill="#d6604d"/><rect x="92.44" y="305.50" width="7.58" height="6.72" fill="#fae9df"/><rect x="100.02" y="305.50" width="7.58" height="6.72" fill="#f8bfa4"/><rect x="107.60" y="305.50" width="7.58" height="6.72" fill="#fbccb4"/><rect x="115.18" y="305.50" width="7.58" height="6.72" fill="#90c4dd"/><rect x="122.76" y="305.50" width="7.58" height="6.72" fill="#a2cde3"/><rect x="130.35" y="305.50" width="7.58" height="6.72" fill="#f7f6f6"/><rect x="137.93" y="305.50" width="7.58" height="6.72" fill="#fddbc7"/><rect x="145.51" y="305.50" width="7.58" height="6.72" fill="#fce2d2"/><rect x="153.09" y="305.50" width="7.58" height="6.72" fill="#f7f6f6"/><rect x="160.67" y="305.50" width="7.58" height="6.72" fill="#edf2f5"/><rect x="168.25" y="305.50" width="7.58" height="6.72" fill="#f7f6f6"/><rect x="175.83" y="305.50" width="7.58" height="6.72" fill="#f7f6f6"/><rect x="183.41" y="305.50" width="7.58" height="6.72" fill="#f7f6f6"/><rect x="190.99" y="305.50" width="7.58" height="6.72" fill="#fce2d2"/><rect x="198.57" y="305.50" width="7.58" height="6.72" fill="#e4eef4"/><rect x="206.15" y="305.50" width="7.58" height="6.72" fill="#b1d5e7"/><rect x="213.73" y="305.50" width="7.58" height="6.72" fill="#e4eef4"/><rect x="221.31" y="305.50" width="7.58" height="6.72" fill="#e4eef4"/><rect x="228.89" y="305.50" width="7.58" height="6.72" fill="#8a0b25"/><rect x="236.47" y="305.50" width="7.58" height="6.72" fill="#f6b394"/><rect x="244.05" y="305.50" width="7.58" height="6.72" fill="#fddbc7"/><rect x="251.64" y="305.50" width="7.58" height="6.72" fill="#fce2d2"/><rect x="259.22" y="305.50" width="7.58" height="6.72" fill="#dae9f2"/><rect x="266.80" y="305.50" width="7.58" height="6.72" fill="#f7f6f6"/><rect x="274.38" y="305.50" width="7.58" height="6.72" fill="#fae9df"/><rect x="281.96" y="305.50" width="7.58" height="6.72" fill="#327cb7"/><rect x="289.54" y="305.50" width="7.58" height="6.72" fill="#fae9df"/><rect x="297.12" y="305.50" width="7.58" height="6.72" fill="#edf2f5"/><rect x="304.70" y="305.50" width="7.58" height="6.72" fill="#fae9df"/><rect x="312.28" y="305.50" width="7.58" height="6.72" fill="#a2cde3"/><rect x="319.86" y="305.50" width="7.58" height="6.72" fill="#f9f0eb"/><rect x="327.44" y="305.50" width="7.58" height="6.72" fill="#f9f0eb"/><rect x="335.02" y="305.50" width="7.58" height="6.72" fill="#fce2d2"/><rect x="342.60" y="305.50" width="7.58" height="6.72" fill="#f9f0eb"/><rect x="69.70" y="312.21" width="7.58" height="6.72" fill="#fae9df"/><rect x="77.28" y="312.21" width="7.58" height="6.72" fill="#f8bfa4"/><rect x="84.86" y="312.21" width="7.58" height="6.72" fill="#dd7059"/><rect x="92.44" y="312.21" width="7.58" height="6.72" fill="#fae9df"/><rect x="100.02" y="312.21" width="7.58" height="6.72" fill="#f6b394"/><rect x="107.60" y="312.21" width="7.58" height="6.72" fill="#f8bfa4"/><rect x="115.18" y="312.21" width="7.58" height="6.72" fill="#90c4dd"/><rect x="122.76" y="312.21" width="7.58" height="6.72" fill="#a2cde3"/><rect x="130.35" y="312.21" width="7.58" height="6.72" fill="#f7f6f6"/><rect x="137.93" y="312.21" width="7.58" height="6.72" fill="#fddbc7"/><rect x="145.51" y="312.21" width="7.58" height="6.72" fill="#fce2d2"/><rect x="153.09" y="312.21" width="7.58" height="6.72" fill="#f7f6f6"/><rect x="160.67" y="312.21" width="7.58" height="6.72" fill="#edf2f5"/><rect x="168.25" y="312.21" width="7.58" height="6.72" fill="#f7f6f6"/><rect x="175.83" y="312.21" width="7.58" height="6.72" fill="#f7f6f6"/><rect x="183.41" y="312.21" width="7.58" height="6.72" fill="#f7f6f6"/><rect x="190.99" y="312.21" width="7.58" height="6.72" fill="#fce2d2"/><rect x="198.57" y="312.21" width="7.58" height="6.72" fill="#f7f6f6"/><rect x="206.15" y="312.21" width="7.58" height="6.72" fill="#d1e5f0"/><rect x="213.73" y="312.21" width="7.58" height="6.72" fill="#e4eef4"/><rect x="221.31" y="312.21" width="7.58" height="6.72" fill="#e4eef4"/><rect x="228.89" y="312.21" width="7.58" height="6.72" fill="#9f1228"/><rect x="236.47" y="312.21" width="7.58" height="6.72" fill="#fddbc7"/><rect x="244.05" y="312.21" width="7.58" height="6.72" fill="#fddbc7"/><rect x="251.64" y="312.21" width="7.58" height="6.72" fill="#fce2d2"/><rect x="259.22" y="312.21" width="7.58" height="6.72" fill="#edf2f5"/><rect x="266.80" y="312.21" width="7.58" height="6.72" fill="#f7f6f6"/><rect x="274.38" y="312.21" width="7.58" height="6.72" fill="#fae9df"/><rect x="281.96" y="312.21" width="7.58" height="6.72" fill="#3a87bd"/><rect x="289.54" y="312.21" width="7.58" height="6.72" fill="#fae9df"/><rect x="297.12" y="312.21" width="7.58" height="6.72" fill="#edf2f5"/><rect x="304.70" y="312.21" width="7.58" height="6.72" fill="#fae9df"/><rect x="312.28" y="312.21" width="7.58" height="6.72" fill="#b1d5e7"/><rect x="319.86" y="312.21" width="7.58" height="6.72" fill="#f9f0eb"/><rect x="327.44" y="312.21" width="7.58" height="6.72" fill="#f9f0eb"/><rect x="335.02" y="312.21" width="7.58" height="6.72" fill="#fce2d2"/><rect x="342.60" y="312.21" width="7.58" height="6.72" fill="#f9f0eb"/><rect x="350.18" y="312.21" width="7.58" height="6.72" fill="#790622"/><rect x="69.70" y="318.93" width="7.58" height="6.72" fill="#f9f0eb"/><rect x="77.28" y="318.93" width="7.58" height="6.72" fill="#fae9df"/><rect x="84.86" y="318.93" width="7.58" height="6.72" fill="#edf2f5"/><rect x="92.44" y="318.93" width="7.58" height="6.72" fill="#f3a481"/><rect x="100.02" y="318.93" width="7.58" height="6.72" fill="#f7f6f6"/><rect x="107.60" y="318.93" width="7.58" height="6.72" fill="#f7f6f6"/><rect x="115.18" y="318.93" width="7.58" height="6.72" fill="#e4eef4"/><rect x="122.76" y="318.93" width="7.58" height="6.72" fill="#e4eef4"/><rect x="130.35" y="318.93" width="7.58" height="6.72" fill="#f7f6f6"/><rect x="137.93" y="318.93" width="7.58" height="6.72" fill="#f9f0eb"/><rect x="145.51" y="318.93" width="7.58" height="6.72" fill="#f9f0eb"/><rect x="153.09" y="318.93" width="7.58" height="6.72" fill="#f7f6f6"/><rect x="160.67" y="318.93" width="7.58" height="6.72" fill="#e4eef4"/><rect x="168.25" y="318.93" width="7.58" height="6.72" fill="#f7f6f6"/><rect x="175.83" y="318.93" width="7.58" height="6.72" fill="#fce2d2"/><rect x="183.41" y="318.93" width="7.58" height="6.72" fill="#f9f0eb"/><rect x="190.99" y="318.93" width="7.58" height="6.72" fill="#f9f0eb"/><rect x="198.57" y="318.93" width="7.58" height="6.72" fill="#f7f6f6"/><rect x="206.15" y="318.93" width="7.58" height="6.72" fill="#edf2f5"/><rect x="213.73" y="318.93" width="7.58" height="6.72" fill="#f9f0eb"/><rect x="221.31" y="318.93" width="7.58" height="6.72" fill="#f7f6f6"/><rect x="228.89" y="318.93" width="7.58" height="6.72" fill="#f7f6f6"/><rect x="236.47" y="318.93" width="7.58" height="6.72" fill="#f7f6f6"/><rect x="244.05" y="318.93" width="7.58" height="6.72" fill="#fce2d2"/><rect x="251.64" y="318.93" width="7.58" height="6.72" fill="#fce2d2"/><rect x="259.22" y="318.93" width="7.58" height="6.72" fill="#f9f0eb"/><rect x="266.80" y="318.93" width="7.58" height="6.72" fill="#dd7059"/><rect x="274.38" y="318.93" width="7.58" height="6.72" fill="#fce2d2"/><rect x="281.96" y="318.93" width="7.58" height="6.72" fill="#f7f6f6"/><rect x="289.54" y="318.93" width="7.58" height="6.72" fill="#f3a481"/><rect x="297.12" y="318.93" width="7.58" height="6.72" fill="#f7f6f6"/><rect x="304.70" y="318.93" width="7.58" height="6.72" fill="#f6b394"/><rect x="312.28" y="318.93" width="7.58" height="6.72" fill="#f7f6f6"/><rect x="319.86" y="318.93" width="7.58" height="6.72" fill="#f7f6f6"/><rect x="327.44" y="318.93" width="7.58" height="6.72" fill="#f7f6f6"/><rect x="335.02" y="318.93" width="7.58" height="6.72" fill="#fddbc7"/><rect x="342.60" y="318.93" width="7.58" height="6.72" fill="#f7f6f6"/><rect x="350.18" y="318.93" width="7.58" height="6.72" fill="#edf2f5"/><rect x="357.76" y="318.93" width="7.58" height="6.72" fill="#edf2f5"/><rect x="69.70" y="325.65" width="7.58" height="6.72" fill="#f7f6f6"/><rect x="77.28" y="325.65" width="7.58" height="6.72" fill="#f9f0eb"/><rect x="84.86" y="325.65" width="7.58" height="6.72" fill="#f7f6f6"/><rect x="92.44" y="325.65" width="7.58" height="6.72" fill="#d1e5f0"/><rect x="100.02" y="325.65" width="7.58" height="6.72" fill="#f7f6f6"/><rect x="107.60" y="325.65" width="7.58" height="6.72" fill="#f7f6f6"/><rect x="115.18" y="325.65" width="7.58" height="6.72" fill="#f7f6f6"/><rect x="122.76" y="325.65" width="7.58" height="6.72" fill="#f7f6f6"/><rect x="130.35" y="325.65" width="7.58" height="6.72" fill="#f9f0eb"/><rect x="137.93" y="325.65" width="7.58" height="6.72" fill="#f9f0eb"/><rect x="145.51" y="325.65" width="7.58" height="6.72" fill="#f9f0eb"/><rect x="153.09" y="325.65" width="7.58" height="6.72" fill="#f7f6f6"/><rect x="160.67" y="325.65" width="7.58" height="6.72" fill="#f9f0eb"/><rect x="168.25" y="325.65" width="7.58" height="6.72" fill="#f7f6f6"/><rect x="175.83" y="325.65" width="7.58" height="6.72" fill="#d1e5f0"/><rect x="183.41" y="325.65" width="7.58" height="6.72" fill="#f9f0eb"/><rect x="190.99" y="325.65" width="7.58" height="6.72" fill="#f7f6f6"/><rect x="198.57" y="325.65" width="7.58" height="6.72" fill="#fbccb4"/><rect x="206.15" y="325.65" width="7.58" height="6.72" fill="#f7f6f6"/><rect x="213.73" y="325.65" width="7.58" height="6.72" fill="#f7f6f6"/><rect x="221.31" y="325.65" width="7.58" height="6.72" fill="#f7f6f6"/><rect x="228.89" y="325.65" width="7.58" height="6.72" fill="#f7f6f6"/><rect x="236.47" y="325.65" width="7.58" height="6.72" fill="#f7f6f6"/><rect x="244.05" y="325.65" width="7.58" height="6.72" fill="#fce2d2"/><rect x="251.64" y="325.65" width="7.58" height="6.72" fill="#f9f0eb"/><rect x="259.22" y="325.65" width="7.58" height="6.72" fill="#f7f6f6"/><rect x="266.80" y="325.65" width="7.58" height="6.72" fill="#dae9f2"/><rect x="274.38" y="325.65" width="7.58" height="6.72" fill="#dae9f2"/><rect x="281.96" y="325.65" width="7.58" height="6.72" fill="#f7f6f6"/><rect x="289.54" y="325.65" width="7.58" height="6.72" fill="#d1e5f0"/><rect x="297.12" y="325.65" width="7.58" height="6.72" fill="#f7f6f6"/><rect x="304.70" y="325.65" width="7.58" height="6.72" fill="#90c4dd"/><rect x="312.28" y="325.65" width="7.58" height="6.72" fill="#f7f6f6"/><rect x="319.86" y="325.65" width="7.58" height="6.72" fill="#f7f6f6"/><rect x="327.44" y="325.65" width="7.58" height="6.72" fill="#f7f6f6"/><rect x="335.02" y="325.65" width="7.58" height="6.72" fill="#f7f6f6"/><rect x="342.60" y="325.65" width="7.58" height="6.72" fill="#f7f6f6"/><rect x="350.18" y="325.65" width="7.58" height="6.72" fill="#f7f6f6"/><rect x="357.76" y="325.65" width="7.58" height="6.72" fill="#f7f6f6"/><rect x="365.35" y="325.65" width="7.58" height="6.72" fill="#dae9f2"/><rect x="69.70" y="332.36" width="7.58" height="6.72" fill="#f7f6f6"/><rect x="77.28" y="332.36" width="7.58" height="6.72" fill="#edf2f5"/><rect x="84.86" y="332.36" width="7.58" height="6.72" fill="#f7f6f6"/><rect x="92.44" y="332.36" width="7.58" height="6.72" fill="#dae9f2"/><rect x="100.02" y="332.36" width="7.58" height="6.72" fill="#f7f6f6"/><rect x="107.60" y="332.36" width="7.58" height="6.72" fill="#f7f6f6"/><rect x="115.18" y="332.36" width="7.58" height="6.72" fill="#f7f6f6"/><rect x="122.76" y="332.36" width="7.58" height="6.72" fill="#f7f6f6"/><rect x="130.35" y="332.36" width="7.58" height="6.72" fill="#f7f6f6"/><rect x="137.93" y="332.36" width="7.58" height="6.72" fill="#edf2f5"/><rect x="145.51" y="332.36" width="7.58" height="6.72" fill="#f7f6f6"/><rect x="153.09" y="332.36" width="7.58" height="6.72" fill="#f7f6f6"/><rect x="160.67" y="332.36" width="7.58" height="6.72" fill="#fddbc7"/><rect x="168.25" y="332.36" width="7.58" height="6.72" fill="#f7f6f6"/><rect x="175.83" y="332.36" width="7.58" height="6.72" fill="#edf2f5"/><rect x="183.41" y="332.36" width="7.58" height="6.72" fill="#e4eef4"/><rect x="190.99" y="332.36" width="7.58" height="6.72" fill="#f7f6f6"/><rect x="198.57" y="332.36" width="7.58" height="6.72" fill="#f7f6f6"/><rect x="206.15" y="332.36" width="7.58" height="6.72" fill="#fbccb4"/><rect x="213.73" y="332.36" width="7.58" height="6.72" fill="#f7f6f6"/><rect x="221.31" y="332.36" width="7.58" height="6.72" fill="#f7f6f6"/><rect x="228.89" y="332.36" width="7.58" height="6.72" fill="#f7f6f6"/><rect x="236.47" y="332.36" width="7.58" height="6.72" fill="#f7f6f6"/><rect x="244.05" y="332.36" width="7.58" height="6.72" fill="#edf2f5"/><rect x="251.64" y="332.36" width="7.58" height="6.72" fill="#e4eef4"/><rect x="259.22" y="332.36" width="7.58" height="6.72" fill="#edf2f5"/><rect x="266.80" y="332.36" width="7.58" height="6.72" fill="#dae9f2"/><rect x="274.38" y="332.36" width="7.58" height="6.72" fill="#e4eef4"/><rect x="281.96" y="332.36" width="7.58" height="6.72" fill="#f7f6f6"/><rect x="289.54" y="332.36" width="7.58" height="6.72" fill="#d1e5f0"/><rect x="297.12" y="332.36" width="7.58" height="6.72" fill="#f9f0eb"/><rect x="304.70" y="332.36" width="7.58" height="6.72" fill="#dae9f2"/><rect x="312.28" y="332.36" width="7.58" height="6.72" fill="#f7f6f6"/><rect x="319.86" y="332.36" width="7.58" height="6.72" fill="#f7f6f6"/><rect x="327.44" y="332.36" width="7.58" height="6.72" fill="#f7f6f6"/><rect x="335.02" y="332.36" width="7.58" height="6.72" fill="#dae9f2"/><rect x="342.60" y="332.36" width="7.58" height="6.72" fill="#f7f6f6"/><rect x="350.18" y="332.36" width="7.58" height="6.72" fill="#f7f6f6"/><rect x="357.76" y="332.36" width="7.58" height="6.72" fill="#f7f6f6"/><rect x="365.35" y="332.36" width="7.58" height="6.72" fill="#b1d5e7"/><rect x="372.93" y="332.36" width="7.58" height="6.72" fill="#fae9df"/><rect x="69.70" y="339.08" width="7.58" height="6.72" fill="#fce2d2"/><rect x="77.28" y="339.08" width="7.58" height="6.72" fill="#fddbc7"/><rect x="84.86" y="339.08" width="7.58" height="6.72" fill="#f7f6f6"/><rect x="92.44" y="339.08" width="7.58" height="6.72" fill="#f9f0eb"/><rect x="100.02" y="339.08" width="7.58" height="6.72" fill="#f9f0eb"/><rect x="107.60" y="339.08" width="7.58" height="6.72" fill="#f9f0eb"/><rect x="115.18" y="339.08" width="7.58" height="6.72" fill="#edf2f5"/><rect x="122.76" y="339.08" width="7.58" height="6.72" fill="#edf2f5"/><rect x="130.35" y="339.08" width="7.58" height="6.72" fill="#f9f0eb"/><rect x="137.93" y="339.08" width="7.58" height="6.72" fill="#fddbc7"/><rect x="145.51" y="339.08" width="7.58" height="6.72" fill="#fae9df"/><rect x="153.09" y="339.08" width="7.58" height="6.72" fill="#f7f6f6"/><rect x="160.67" y="339.08" width="7.58" height="6.72" fill="#edf2f5"/><rect x="168.25" y="339.08" width="7.58" height="6.72" fill="#edf2f5"/><rect x="175.83" y="339.08" width="7.58" height="6.72" fill="#f7f6f6"/><rect x="183.41" y="339.08" width="7.58" height="6.72" fill="#ec9374"/><rect x="190.99" y="339.08" width="7.58" height="6.72" fill="#f9f0eb"/><rect x="198.57" y="339.08" width="7.58" height="6.72" fill="#f7f6f6"/><rect x="206.15" y="339.08" width="7.58" height="6.72" fill="#f7f6f6"/><rect x="213.73" y="339.08" width="7.58" height="6.72" fill="#f7f6f6"/><rect x="221.31" y="339.08" width="7.58" height="6.72" fill="#f7f6f6"/><rect x="228.89" y="339.08" width="7.58" height="6.72" fill="#edf2f5"/><rect x="236.47" y="339.08" width="7.58" height="6.72" fill="#e4eef4"/><rect x="244.05" y="339.08" width="7.58" height="6.72" fill="#fddbc7"/><rect x="251.64" y="339.08" width="7.58" height="6.72" fill="#fbccb4"/><rect x="259.22" y="339.08" width="7.58" height="6.72" fill="#fbccb4"/><rect x="266.80" y="339.08" width="7.58" height="6.72" fill="#f7f6f6"/><rect x="274.38" y="339.08" width="7.58" height="6.72" fill="#f7f6f6"/><rect x="281.96" y="339.08" width="7.58" height="6.72" fill="#f9f0eb"/><rect x="289.54" y="339.08" width="7.58" height="6.72" fill="#f7f6f6"/><rect x="297.12" y="339.08" width="7.58" height="6.72" fill="#edf2f5"/><rect x="304.70" y="339.08" width="7.58" height="6.72" fill="#f7f6f6"/><rect x="312.28" y="339.08" width="7.58" height="6.72" fill="#f7f6f6"/><rect x="319.86" y="339.08" width="7.58" height="6.72" fill="#fae9df"/><rect x="327.44" y="339.08" width="7.58" height="6.72" fill="#f7f6f6"/><rect x="335.02" y="339.08" width="7.58" height="6.72" fill="#fddbc7"/><rect x="342.60" y="339.08" width="7.58" height="6.72" fill="#f9f0eb"/><rect x="350.18" y="339.08" width="7.58" height="6.72" fill="#f7f6f6"/><rect x="357.76" y="339.08" width="7.58" height="6.72" fill="#f7f6f6"/><rect x="365.35" y="339.08" width="7.58" height="6.72" fill="#f7f6f6"/><rect x="372.93" y="339.08" width="7.58" height="6.72" fill="#f9f0eb"/><rect x="380.51" y="339.08" width="7.58" height="6.72" fill="#f7f6f6"/><rect x="69.70" y="345.79" width="7.58" height="6.72" fill="#f7f6f6"/><rect x="77.28" y="345.79" width="7.58" height="6.72" fill="#f9f0eb"/><rect x="84.86" y="345.79" width="7.58" height="6.72" fill="#f7f6f6"/><rect x="92.44" y="345.79" width="7.58" height="6.72" fill="#d1e5f0"/><rect x="100.02" y="345.79" width="7.58" height="6.72" fill="#f7f6f6"/><rect x="107.60" y="345.79" width="7.58" height="6.72" fill="#f7f6f6"/><rect x="115.18" y="345.79" width="7.58" height="6.72" fill="#f7f6f6"/><rect x="122.76" y="345.79" width="7.58" height="6.72" fill="#f7f6f6"/><rect x="130.35" y="345.79" width="7.58" height="6.72" fill="#fce2d2"/><rect x="137.93" y="345.79" width="7.58" height="6.72" fill="#f7f6f6"/><rect x="145.51" y="345.79" width="7.58" height="6.72" fill="#fce2d2"/><rect x="153.09" y="345.79" width="7.58" height="6.72" fill="#f7f6f6"/><rect x="160.67" y="345.79" width="7.58" height="6.72" fill="#f9f0eb"/><rect x="168.25" y="345.79" width="7.58" height="6.72" fill="#f7f6f6"/><rect x="175.83" y="345.79" width="7.58" height="6.72" fill="#a2cde3"/><rect x="183.41" y="345.79" width="7.58" height="6.72" fill="#f9f0eb"/><rect x="190.99" y="345.79" width="7.58" height="6.72" fill="#f7f6f6"/><rect x="198.57" y="345.79" width="7.58" height="6.72" fill="#fddbc7"/><rect x="206.15" y="345.79" width="7.58" height="6.72" fill="#f7f6f6"/><rect x="213.73" y="345.79" width="7.58" height="6.72" fill="#f7f6f6"/><rect x="221.31" y="345.79" width="7.58" height="6.72" fill="#f7f6f6"/><rect x="228.89" y="345.79" width="7.58" height="6.72" fill="#f7f6f6"/><rect x="236.47" y="345.79" width="7.58" height="6.72" fill="#f7f6f6"/><rect x="244.05" y="345.79" width="7.58" height="6.72" fill="#fae9df"/><rect x="251.64" y="345.79" width="7.58" height="6.72" fill="#fae9df"/><rect x="259.22" y="345.79" width="7.58" height="6.72" fill="#f7f6f6"/><rect x="266.80" y="345.79" width="7.58" height="6.72" fill="#d1e5f0"/><rect x="274.38" y="345.79" width="7.58" height="6.72" fill="#d1e5f0"/><rect x="281.96" y="345.79" width="7.58" height="6.72" fill="#f9f0eb"/><rect x="289.54" y="345.79" width="7.58" height="6.72" fill="#a2cde3"/><rect x="297.12" y="345.79" width="7.58" height="6.72" fill="#f7f6f6"/><rect x="304.70" y="345.79" width="7.58" height="6.72" fill="#a2cde3"/><rect x="312.28" y="345.79" width="7.58" height="6.72" fill="#f7f6f6"/><rect x="319.86" y="345.79" width="7.58" height="6.72" fill="#f9f0eb"/><rect x="327.44" y="345.79" width="7.58" height="6.72" fill="#f7f6f6"/><rect x="335.02" y="345.79" width="7.58" height="6.72" fill="#f7f6f6"/><rect x="342.60" y="345.79" width="7.58" height="6.72" fill="#f7f6f6"/><rect x="350.18" y="345.79" width="7.58" height="6.72" fill="#edf2f5"/><rect x="357.76" y="345.79" width="7.58" height="6.72" fill="#edf2f5"/><rect x="365.35" y="345.79" width="7.58" height="6.72" fill="#dae9f2"/><rect x="372.93" y="345.79" width="7.58" height="6.72" fill="#790622"/><rect x="380.51" y="345.79" width="7.58" height="6.72" fill="#fae9df"/><rect x="388.09" y="345.79" width="7.58" height="6.72" fill="#fae9df"/><rect x="69.70" y="352.51" width="7.58" height="6.72" fill="#f7f6f6"/><rect x="77.28" y="352.51" width="7.58" height="6.72" fill="#f7f6f6"/><rect x="84.86" y="352.51" width="7.58" height="6.72" fill="#f7f6f6"/><rect x="92.44" y="352.51" width="7.58" height="6.72" fill="#d1e5f0"/><rect x="100.02" y="352.51" width="7.58" height="6.72" fill="#f7f6f6"/><rect x="107.60" y="352.51" width="7.58" height="6.72" fill="#f7f6f6"/><rect x="115.18" y="352.51" width="7.58" height="6.72" fill="#f7f6f6"/><rect x="122.76" y="352.51" width="7.58" height="6.72" fill="#f7f6f6"/><rect x="130.35" y="352.51" width="7.58" height="6.72" fill="#fae9df"/><rect x="137.93" y="352.51" width="7.58" height="6.72" fill="#f7f6f6"/><rect x="145.51" y="352.51" width="7.58" height="6.72" fill="#f9f0eb"/><rect x="153.09" y="352.51" width="7.58" height="6.72" fill="#f7f6f6"/><rect x="160.67" y="352.51" width="7.58" height="6.72" fill="#f3a481"/><rect x="168.25" y="352.51" width="7.58" height="6.72" fill="#f7f6f6"/><rect x="175.83" y="352.51" width="7.58" height="6.72" fill="#6bacd1"/><rect x="183.41" y="352.51" width="7.58" height="6.72" fill="#f9f0eb"/><rect x="190.99" y="352.51" width="7.58" height="6.72" fill="#f7f6f6"/><rect x="198.57" y="352.51" width="7.58" height="6.72" fill="#f7f6f6"/><rect x="206.15" y="352.51" width="7.58" height="6.72" fill="#f7f6f6"/><rect x="213.73" y="352.51" width="7.58" height="6.72" fill="#f7f6f6"/><rect x="221.31" y="352.51" width="7.58" height="6.72" fill="#f7f6f6"/><rect x="228.89" y="352.51" width="7.58" height="6.72" fill="#f7f6f6"/><rect x="236.47" y="352.51" width="7.58" height="6.72" fill="#f7f6f6"/><rect x="244.05" y="352.51" width="7.58" height="6.72" fill="#f9f0eb"/><rect x="251.64" y="352.51" width="7.58" height="6.72" fill="#f7f6f6"/><rect x="259.22" y="352.51" width="7.58" height="6.72" fill="#f7f6f6"/><rect x="266.80" y="352.51" width="7.58" height="6.72" fill="#edf2f5"/><rect x="274.38" y="352.51" width="7.58" height="6.72" fill="#edf2f5"/><rect x="281.96" y="352.51" width="7.58" height="6.72" fill="#f7f6f6"/><rect x="289.54" y="352.51" width="7.58" height="6.72" fill="#7eb8d7"/><rect x="297.12" y="352.51" width="7.58" height="6.72" fill="#f9f0eb"/><rect x="304.70" y="352.51" width="7.58" height="6.72" fill="#d1e5f0"/><rect x="312.28" y="352.51" width="7.58" height="6.72" fill="#f7f6f6"/><rect x="319.86" y="352.51" width="7.58" height="6.72" fill="#f9f0eb"/><rect x="327.44" y="352.51" width="7.58" height="6.72" fill="#f7f6f6"/><rect x="335.02" y="352.51" width="7.58" height="6.72" fill="#f7f6f6"/><rect x="342.60" y="352.51" width="7.58" height="6.72" fill="#f7f6f6"/><rect x="350.18" y="352.51" width="7.58" height="6.72" fill="#f7f6f6"/><rect x="357.76" y="352.51" width="7.58" height="6.72" fill="#f7f6f6"/><rect x="365.35" y="352.51" width="7.58" height="6.72" fill="#edf2f5"/><rect x="372.93" y="352.51" width="7.58" height="6.72" fill="#fae9df"/><rect x="380.51" y="352.51" width="7.58" height="6.72" fill="#fae9df"/><rect x="388.09" y="352.51" width="7.58" height="6.72" fill="#f7f6f6"/><rect x="395.67" y="352.51" width="7.58" height="6.72" fill="#f3a481"/><rect x="69.70" y="359.23" width="7.58" height="6.72" fill="#f7f6f6"/><rect x="77.28" y="359.23" width="7.58" height="6.72" fill="#f7f6f6"/><rect x="84.86" y="359.23" width="7.58" height="6.72" fill="#f7f6f6"/><rect x="92.44" y="359.23" width="7.58" height="6.72" fill="#d1e5f0"/><rect x="100.02" y="359.23" width="7.58" height="6.72" fill="#f7f6f6"/><rect x="107.60" y="359.23" width="7.58" height="6.72" fill="#f7f6f6"/><rect x="115.18" y="359.23" width="7.58" height="6.72" fill="#f7f6f6"/><rect x="122.76" y="359.23" width="7.58" height="6.72" fill="#f7f6f6"/><rect x="130.35" y="359.23" width="7.58" height="6.72" fill="#f9f0eb"/><rect x="137.93" y="359.23" width="7.58" height="6.72" fill="#f7f6f6"/><rect x="145.51" y="359.23" width="7.58" height="6.72" fill="#f7f6f6"/><rect x="153.09" y="359.23" width="7.58" height="6.72" fill="#f7f6f6"/><rect x="160.67" y="359.23" width="7.58" height="6.72" fill="#f3a481"/><rect x="168.25" y="359.23" width="7.58" height="6.72" fill="#f7f6f6"/><rect x="175.83" y="359.23" width="7.58" height="6.72" fill="#f7f6f6"/><rect x="183.41" y="359.23" width="7.58" height="6.72" fill="#f9f0eb"/><rect x="190.99" y="359.23" width="7.58" height="6.72" fill="#f7f6f6"/><rect x="198.57" y="359.23" width="7.58" height="6.72" fill="#f7f6f6"/><rect x="206.15" y="359.23" width="7.58" height="6.72" fill="#f7f6f6"/><rect x="213.73" y="359.23" width="7.58" height="6.72" fill="#f7f6f6"/><rect x="221.31" y="359.23" width="7.58" height="6.72" fill="#f7f6f6"/><rect x="228.89" y="359.23" width="7.58" height="6.72" fill="#f7f6f6"/><rect x="236.47" y="359.23" width="7.58" height="6.72" fill="#f7f6f6"/><rect x="244.05" y="359.23" width="7.58" height="6.72" fill="#f7f6f6"/><rect x="251.64" y="359.23" width="7.58" height="6.72" fill="#f7f6f6"/><rect x="259.22" y="359.23" width="7.58" height="6.72" fill="#f7f6f6"/><rect x="266.80" y="359.23" width="7.58" height="6.72" fill="#f7f6f6"/><rect x="274.38" y="359.23" width="7.58" height="6.72" fill="#f7f6f6"/><rect x="281.96" y="359.23" width="7.58" height="6.72" fill="#f7f6f6"/><rect x="289.54" y="359.23" width="7.58" height="6.72" fill="#e4eef4"/><rect x="297.12" y="359.23" width="7.58" height="6.72" fill="#f9f0eb"/><rect x="304.70" y="359.23" width="7.58" height="6.72" fill="#d1e5f0"/><rect x="312.28" y="359.23" width="7.58" height="6.72" fill="#f7f6f6"/><rect x="319.86" y="359.23" width="7.58" height="6.72" fill="#f7f6f6"/><rect x="327.44" y="359.23" width="7.58" height="6.72" fill="#f7f6f6"/><rect x="335.02" y="359.23" width="7.58" height="6.72" fill="#f7f6f6"/><rect x="342.60" y="359.23" width="7.58" height="6.72" fill="#f7f6f6"/><rect x="350.18" y="359.23" width="7.58" height="6.72" fill="#f7f6f6"/><rect x="357.76" y="359.23" width="7.58" height="6.72" fill="#f7f6f6"/><rect x="365.35" y="359.23" width="7.58" height="6.72" fill="#f7f6f6"/><rect x="372.93" y="359.23" width="7.58" height="6.72" fill="#f9f0eb"/><rect x="380.51" y="359.23" width="7.58" height="6.72" fill="#f9f0eb"/><rect x="388.09" y="359.23" width="7.58" height="6.72" fill="#f7f6f6"/><rect x="395.67" y="359.23" width="7.58" height="6.72" fill="#e4eef4"/><rect x="403.25" y="359.23" width="7.58" height="6.72" fill="#fce2d2"/><rect x="69.70" y="365.94" width="7.58" height="6.72" fill="#f7f6f6"/><rect x="77.28" y="365.94" width="7.58" height="6.72" fill="#fae9df"/><rect x="84.86" y="365.94" width="7.58" height="6.72" fill="#f7f6f6"/><rect x="92.44" y="365.94" width="7.58" height="6.72" fill="#fce2d2"/><rect x="100.02" y="365.94" width="7.58" height="6.72" fill="#f7f6f6"/><rect x="107.60" y="365.94" width="7.58" height="6.72" fill="#f7f6f6"/><rect x="115.18" y="365.94" width="7.58" height="6.72" fill="#f7f6f6"/><rect x="122.76" y="365.94" width="7.58" height="6.72" fill="#f7f6f6"/><rect x="130.35" y="365.94" width="7.58" height="6.72" fill="#f9f0eb"/><rect x="137.93" y="365.94" width="7.58" height="6.72" fill="#f9f0eb"/><rect x="145.51" y="365.94" width="7.58" height="6.72" fill="#f7f6f6"/><rect x="153.09" y="365.94" width="7.58" height="6.72" fill="#f7f6f6"/><rect x="160.67" y="365.94" width="7.58" height="6.72" fill="#f6b394"/><rect x="168.25" y="365.94" width="7.58" height="6.72" fill="#f7f6f6"/><rect x="175.83" y="365.94" width="7.58" height="6.72" fill="#f7f6f6"/><rect x="183.41" y="365.94" width="7.58" height="6.72" fill="#fbccb4"/><rect x="190.99" y="365.94" width="7.58" height="6.72" fill="#f7f6f6"/><rect x="198.57" y="365.94" width="7.58" height="6.72" fill="#f7f6f6"/><rect x="206.15" y="365.94" width="7.58" height="6.72" fill="#edf2f5"/><rect x="213.73" y="365.94" width="7.58" height="6.72" fill="#f7f6f6"/><rect x="221.31" y="365.94" width="7.58" height="6.72" fill="#f7f6f6"/><rect x="228.89" y="365.94" width="7.58" height="6.72" fill="#f7f6f6"/><rect x="236.47" y="365.94" width="7.58" height="6.72" fill="#f7f6f6"/><rect x="244.05" y="365.94" width="7.58" height="6.72" fill="#fddbc7"/><rect x="251.64" y="365.94" width="7.58" height="6.72" fill="#fddbc7"/><rect x="259.22" y="365.94" width="7.58" height="6.72" fill="#f7f6f6"/><rect x="266.80" y="365.94" width="7.58" height="6.72" fill="#f7f6f6"/><rect x="274.38" y="365.94" width="7.58" height="6.72" fill="#fce2d2"/><rect x="281.96" y="365.94" width="7.58" height="6.72" fill="#f7f6f6"/><rect x="289.54" y="365.94" width="7.58" height="6.72" fill="#f7f6f6"/><rect x="297.12" y="365.94" width="7.58" height="6.72" fill="#f7f6f6"/><rect x="304.70" y="365.94" width="7.58" height="6.72" fill="#fae9df"/><rect x="312.28" y="365.94" width="7.58" height="6.72" fill="#f7f6f6"/><rect x="319.86" y="365.94" width="7.58" height="6.72" fill="#f7f6f6"/><rect x="327.44" y="365.94" width="7.58" height="6.72" fill="#f7f6f6"/><rect x="335.02" y="365.94" width="7.58" height="6.72" fill="#fddbc7"/><rect x="342.60" y="365.94" width="7.58" height="6.72" fill="#f9f0eb"/><rect x="350.18" y="365.94" width="7.58" height="6.72" fill="#f9f0eb"/><rect x="357.76" y="365.94" width="7.58" height="6.72" fill="#f9f0eb"/><rect x="365.35" y="365.94" width="7.58" height="6.72" fill="#f7f6f6"/><rect x="372.93" y="365.94" width="7.58" height="6.72" fill="#edf2f5"/><rect x="380.51" y="365.94" width="7.58" height="6.72" fill="#edf2f5"/><rect x="388.09" y="365.94" width="7.58" height="6.72" fill="#d1e5f0"/><rect x="395.67" y="365.94" width="7.58" height="6.72" fill="#edf2f5"/><rect x="403.25" y="365.94" width="7.58" height="6.72" fill="#fbccb4"/><rect x="410.83" y="365.94" width="7.58" height="6.72" fill="#fae9df"/><rect x="69.70" y="372.66" width="7.58" height="6.72" fill="#f7f6f6"/><rect x="77.28" y="372.66" width="7.58" height="6.72" fill="#f7f6f6"/><rect x="84.86" y="372.66" width="7.58" height="6.72" fill="#f7f6f6"/><rect x="92.44" y="372.66" width="7.58" height="6.72" fill="#d1e5f0"/><rect x="100.02" y="372.66" width="7.58" height="6.72" fill="#f7f6f6"/><rect x="107.60" y="372.66" width="7.58" height="6.72" fill="#f7f6f6"/><rect x="115.18" y="372.66" width="7.58" height="6.72" fill="#edf2f5"/><rect x="122.76" y="372.66" width="7.58" height="6.72" fill="#edf2f5"/><rect x="130.35" y="372.66" width="7.58" height="6.72" fill="#f9f0eb"/><rect x="137.93" y="372.66" width="7.58" height="6.72" fill="#f7f6f6"/><rect x="145.51" y="372.66" width="7.58" height="6.72" fill="#f7f6f6"/><rect x="153.09" y="372.66" width="7.58" height="6.72" fill="#f7f6f6"/><rect x="160.67" y="372.66" width="7.58" height="6.72" fill="#f3a481"/><rect x="168.25" y="372.66" width="7.58" height="6.72" fill="#f7f6f6"/><rect x="175.83" y="372.66" width="7.58" height="6.72" fill="#6bacd1"/><rect x="183.41" y="372.66" width="7.58" height="6.72" fill="#f9f0eb"/><rect x="190.99" y="372.66" width="7.58" height="6.72" fill="#f7f6f6"/><rect x="198.57" y="372.66" width="7.58" height="6.72" fill="#f7f6f6"/><rect x="206.15" y="372.66" width="7.58" height="6.72" fill="#f7f6f6"/><rect x="213.73" y="372.66" width="7.58" height="6.72" fill="#f7f6f6"/><rect x="221.31" y="372.66" width="7.58" height="6.72" fill="#f7f6f6"/><rect x="228.89" y="372.66" width="7.58" height="6.72" fill="#f7f6f6"/><rect x="236.47" y="372.66" width="7.58" height="6.72" fill="#f7f6f6"/><rect x="244.05" y="372.66" width="7.58" height="6.72" fill="#edf2f5"/><rect x="251.64" y="372.66" width="7.58" height="6.72" fill="#f7f6f6"/><rect x="259.22" y="372.66" width="7.58" height="6.72" fill="#f7f6f6"/><rect x="266.80" y="372.66" width="7.58" height="6.72" fill="#edf2f5"/><rect x="274.38" y="372.66" width="7.58" height="6.72" fill="#edf2f5"/><rect x="281.96" y="372.66" width="7.58" height="6.72" fill="#f7f6f6"/><rect x="289.54" y="372.66" width="7.58" height="6.72" fill="#90c4dd"/><rect x="297.12" y="372.66" width="7.58" height="6.72" fill="#f7f6f6"/><rect x="304.70" y="372.66" width="7.58" height="6.72" fill="#d1e5f0"/><rect x="312.28" y="372.66" width="7.58" height="6.72" fill="#f7f6f6"/><rect x="319.86" y="372.66" width="7.58" height="6.72" fill="#f9f0eb"/><rect x="327.44" y="372.66" width="7.58" height="6.72" fill="#f7f6f6"/><rect x="335.02" y="372.66" width="7.58" height="6.72" fill="#f7f6f6"/><rect x="342.60" y="372.66" width="7.58" height="6.72" fill="#f7f6f6"/><rect x="350.18" y="372.66" width="7.58" height="6.72" fill="#f7f6f6"/><rect x="357.76" y="372.66" width="7.58" height="6.72" fill="#f7f6f6"/><rect x="365.35" y="372.66" width="7.58" height="6.72" fill="#f9f0eb"/><rect x="372.93" y="372.66" width="7.58" height="6.72" fill="#fae9df"/><rect x="380.51" y="372.66" width="7.58" height="6.72" fill="#fae9df"/><rect x="388.09" y="372.66" width="7.58" height="6.72" fill="#f7f6f6"/><rect x="395.67" y="372.66" width="7.58" height="6.72" fill="#f3a481"/><rect x="403.25" y="372.66" width="7.58" height="6.72" fill="#67001f"/><rect x="410.83" y="372.66" width="7.58" height="6.72" fill="#fae9df"/><rect x="418.41" y="372.66" width="7.58" height="6.72" fill="#fbccb4"/><rect x="69.70" y="379.37" width="7.58" height="6.72" fill="#f7f6f6"/><rect x="77.28" y="379.37" width="7.58" height="6.72" fill="#d6604d"/><rect x="84.86" y="379.37" width="7.58" height="6.72" fill="#f7f6f6"/><rect x="92.44" y="379.37" width="7.58" height="6.72" fill="#fddbc7"/><rect x="100.02" y="379.37" width="7.58" height="6.72" fill="#f7f6f6"/><rect x="107.60" y="379.37" width="7.58" height="6.72" fill="#f7f6f6"/><rect x="115.18" y="379.37" width="7.58" height="6.72" fill="#e4eef4"/><rect x="122.76" y="379.37" width="7.58" height="6.72" fill="#e4eef4"/><rect x="130.35" y="379.37" width="7.58" height="6.72" fill="#f9f0eb"/><rect x="137.93" y="379.37" width="7.58" height="6.72" fill="#f3a481"/><rect x="145.51" y="379.37" width="7.58" height="6.72" fill="#fae9df"/><rect x="153.09" y="379.37" width="7.58" height="6.72" fill="#d1e5f0"/><rect x="160.67" y="379.37" width="7.58" height="6.72" fill="#f7f6f6"/><rect x="168.25" y="379.37" width="7.58" height="6.72" fill="#f7f6f6"/><rect x="175.83" y="379.37" width="7.58" height="6.72" fill="#fae9df"/><rect x="183.41" y="379.37" width="7.58" height="6.72" fill="#fbccb4"/><rect x="190.99" y="379.37" width="7.58" height="6.72" fill="#f9f0eb"/><rect x="198.57" y="379.37" width="7.58" height="6.72" fill="#f7f6f6"/><rect x="206.15" y="379.37" width="7.58" height="6.72" fill="#e4eef4"/><rect x="213.73" y="379.37" width="7.58" height="6.72" fill="#f7f6f6"/><rect x="221.31" y="379.37" width="7.58" height="6.72" fill="#e4eef4"/><rect x="228.89" y="379.37" width="7.58" height="6.72" fill="#fddbc7"/><rect x="236.47" y="379.37" width="7.58" height="6.72" fill="#fddbc7"/><rect x="244.05" y="379.37" width="7.58" height="6.72" fill="#ec9374"/><rect x="251.64" y="379.37" width="7.58" height="6.72" fill="#d6604d"/><rect x="259.22" y="379.37" width="7.58" height="6.72" fill="#fae9df"/><rect x="266.80" y="379.37" width="7.58" height="6.72" fill="#fae9df"/><rect x="274.38" y="379.37" width="7.58" height="6.72" fill="#fce2d2"/><rect x="281.96" y="379.37" width="7.58" height="6.72" fill="#b1d5e7"/><rect x="289.54" y="379.37" width="7.58" height="6.72" fill="#fddbc7"/><rect x="297.12" y="379.37" width="7.58" height="6.72" fill="#edf2f5"/><rect x="304.70" y="379.37" width="7.58" height="6.72" fill="#f7f6f6"/><rect x="312.28" y="379.37" width="7.58" height="6.72" fill="#d1e5f0"/><rect x="319.86" y="379.37" width="7.58" height="6.72" fill="#f7f6f6"/><rect x="327.44" y="379.37" width="7.58" height="6.72" fill="#f7f6f6"/><rect x="335.02" y="379.37" width="7.58" height="6.72" fill="#fbccb4"/><rect x="342.60" y="379.37" width="7.58" height="6.72" fill="#f7f6f6"/><rect x="350.18" y="379.37" width="7.58" height="6.72" fill="#fbccb4"/><rect x="357.76" y="379.37" width="7.58" height="6.72" fill="#fbccb4"/><rect x="365.35" y="379.37" width="7.58" height="6.72" fill="#f9f0eb"/><rect x="372.93" y="379.37" width="7.58" height="6.72" fill="#f7f6f6"/><rect x="380.51" y="379.37" width="7.58" height="6.72" fill="#edf2f5"/><rect x="388.09" y="379.37" width="7.58" height="6.72" fill="#fce2d2"/><rect x="395.67" y="379.37" width="7.58" height="6.72" fill="#f9f0eb"/><rect x="403.25" y="379.37" width="7.58" height="6.72" fill="#f7f6f6"/><rect x="410.83" y="379.37" width="7.58" height="6.72" fill="#f9f0eb"/><rect x="418.41" y="379.37" width="7.58" height="6.72" fill="#f9f0eb"/><rect x="425.99" y="379.37" width="7.58" height="6.72" fill="#f7f6f6"/><rect x="69.70" y="386.09" width="7.58" height="6.72" fill="#f8bfa4"/><rect x="77.28" y="386.09" width="7.58" height="6.72" fill="#f8bfa4"/><rect x="84.86" y="386.09" width="7.58" height="6.72" fill="#e4eef4"/><rect x="92.44" y="386.09" width="7.58" height="6.72" fill="#f7f6f6"/><rect x="100.02" y="386.09" width="7.58" height="6.72" fill="#f7f6f6"/><rect x="107.60" y="386.09" width="7.58" height="6.72" fill="#f7f6f6"/><rect x="115.18" y="386.09" width="7.58" height="6.72" fill="#edf2f5"/><rect x="122.76" y="386.09" width="7.58" height="6.72" fill="#edf2f5"/><rect x="130.35" y="386.09" width="7.58" height="6.72" fill="#dd7059"/><rect x="137.93" y="386.09" width="7.58" height="6.72" fill="#ec9374"/><rect x="145.51" y="386.09" width="7.58" height="6.72" fill="#f6b394"/><rect x="153.09" y="386.09" width="7.58" height="6.72" fill="#f7f6f6"/><rect x="160.67" y="386.09" width="7.58" height="6.72" fill="#f7f6f6"/><rect x="168.25" y="386.09" width="7.58" height="6.72" fill="#f7f6f6"/><rect x="175.83" y="386.09" width="7.58" height="6.72" fill="#dae9f2"/><rect x="183.41" y="386.09" width="7.58" height="6.72" fill="#f7f6f6"/><rect x="190.99" y="386.09" width="7.58" height="6.72" fill="#f7f6f6"/><rect x="198.57" y="386.09" width="7.58" height="6.72" fill="#9f1228"/><rect x="206.15" y="386.09" width="7.58" height="6.72" fill="#f9f0eb"/><rect x="213.73" y="386.09" width="7.58" height="6.72" fill="#f7f6f6"/><rect x="221.31" y="386.09" width="7.58" height="6.72" fill="#f7f6f6"/><rect x="228.89" y="386.09" width="7.58" height="6.72" fill="#f7f6f6"/><rect x="236.47" y="386.09" width="7.58" height="6.72" fill="#f7f6f6"/><rect x="244.05" y="386.09" width="7.58" height="6.72" fill="#f7f6f6"/><rect x="251.64" y="386.09" width="7.58" height="6.72" fill="#f9f0eb"/><rect x="259.22" y="386.09" width="7.58" height="6.72" fill="#f9f0eb"/><rect x="266.80" y="386.09" width="7.58" height="6.72" fill="#f7f6f6"/><rect x="274.38" y="386.09" width="7.58" height="6.72" fill="#f7f6f6"/><rect x="281.96" y="386.09" width="7.58" height="6.72" fill="#f7f6f6"/><rect x="289.54" y="386.09" width="7.58" height="6.72" fill="#dae9f2"/><rect x="297.12" y="386.09" width="7.58" height="6.72" fill="#b1d5e7"/><rect x="304.70" y="386.09" width="7.58" height="6.72" fill="#f7f6f6"/><rect x="312.28" y="386.09" width="7.58" height="6.72" fill="#edf2f5"/><rect x="319.86" y="386.09" width="7.58" height="6.72" fill="#f7f6f6"/><rect x="327.44" y="386.09" width="7.58" height="6.72" fill="#f7f6f6"/><rect x="335.02" y="386.09" width="7.58" height="6.72" fill="#f9f0eb"/><rect x="342.60" y="386.09" width="7.58" height="6.72" fill="#f7f6f6"/><rect x="350.18" y="386.09" width="7.58" height="6.72" fill="#edf2f5"/><rect x="357.76" y="386.09" width="7.58" height="6.72" fill="#f7f6f6"/><rect x="365.35" y="386.09" width="7.58" height="6.72" fill="#f7f6f6"/><rect x="372.93" y="386.09" width="7.58" height="6.72" fill="#f8bfa4"/><rect x="380.51" y="386.09" width="7.58" height="6.72" fill="#f7f6f6"/><rect x="388.09" y="386.09" width="7.58" height="6.72" fill="#f7f6f6"/><rect x="395.67" y="386.09" width="7.58" height="6.72" fill="#f8bfa4"/><rect x="403.25" y="386.09" width="7.58" height="6.72" fill="#f7f6f6"/><rect x="410.83" y="386.09" width="7.58" height="6.72" fill="#edf2f5"/><rect x="418.41" y="386.09" width="7.58" height="6.72" fill="#f7f6f6"/><rect x="425.99" y="386.09" width="7.58" height="6.72" fill="#f9f0eb"/><rect x="433.57" y="386.09" width="7.58" height="6.72" fill="#f9f0eb"/><rect x="69.70" y="392.81" width="7.58" height="6.72" fill="#f7f6f6"/><rect x="77.28" y="392.81" width="7.58" height="6.72" fill="#f7f6f6"/><rect x="84.86" y="392.81" width="7.58" height="6.72" fill="#f7f6f6"/><rect x="92.44" y="392.81" width="7.58" height="6.72" fill="#dae9f2"/><rect x="100.02" y="392.81" width="7.58" height="6.72" fill="#f7f6f6"/><rect x="107.60" y="392.81" width="7.58" height="6.72" fill="#f7f6f6"/><rect x="115.18" y="392.81" width="7.58" height="6.72" fill="#f7f6f6"/><rect x="122.76" y="392.81" width="7.58" height="6.72" fill="#f7f6f6"/><rect x="130.35" y="392.81" width="7.58" height="6.72" fill="#f7f6f6"/><rect x="137.93" y="392.81" width="7.58" height="6.72" fill="#f7f6f6"/><rect x="145.51" y="392.81" width="7.58" height="6.72" fill="#f7f6f6"/><rect x="153.09" y="392.81" width="7.58" height="6.72" fill="#f7f6f6"/><rect x="160.67" y="392.81" width="7.58" height="6.72" fill="#fddbc7"/><rect x="168.25" y="392.81" width="7.58" height="6.72" fill="#f7f6f6"/><rect x="175.83" y="392.81" width="7.58" height="6.72" fill="#e4eef4"/><rect x="183.41" y="392.81" width="7.58" height="6.72" fill="#e4eef4"/><rect x="190.99" y="392.81" width="7.58" height="6.72" fill="#edf2f5"/><rect x="198.57" y="392.81" width="7.58" height="6.72" fill="#f7f6f6"/><rect x="206.15" y="392.81" width="7.58" height="6.72" fill="#f9f0eb"/><rect x="213.73" y="392.81" width="7.58" height="6.72" fill="#f7f6f6"/><rect x="221.31" y="392.81" width="7.58" height="6.72" fill="#f7f6f6"/><rect x="228.89" y="392.81" width="7.58" height="6.72" fill="#f7f6f6"/><rect x="236.47" y="392.81" width="7.58" height="6.72" fill="#f7f6f6"/><rect x="244.05" y="392.81" width="7.58" height="6.72" fill="#f7f6f6"/><rect x="251.64" y="392.81" width="7.58" height="6.72" fill="#f7f6f6"/><rect x="259.22" y="392.81" width="7.58" height="6.72" fill="#f7f6f6"/><rect x="266.80" y="392.81" width="7.58" height="6.72" fill="#f7f6f6"/><rect x="274.38" y="392.81" width="7.58" height="6.72" fill="#f7f6f6"/><rect x="281.96" y="392.81" width="7.58" height="6.72" fill="#f7f6f6"/><rect x="289.54" y="392.81" width="7.58" height="6.72" fill="#e4eef4"/><rect x="297.12" y="392.81" width="7.58" height="6.72" fill="#f7f6f6"/><rect x="304.70" y="392.81" width="7.58" height="6.72" fill="#d1e5f0"/><rect x="312.28" y="392.81" width="7.58" height="6.72" fill="#f7f6f6"/><rect x="319.86" y="392.81" width="7.58" height="6.72" fill="#f7f6f6"/><rect x="327.44" y="392.81" width="7.58" height="6.72" fill="#f7f6f6"/><rect x="335.02" y="392.81" width="7.58" height="6.72" fill="#f7f6f6"/><rect x="342.60" y="392.81" width="7.58" height="6.72" fill="#f7f6f6"/><rect x="350.18" y="392.81" width="7.58" height="6.72" fill="#e4eef4"/><rect x="357.76" y="392.81" width="7.58" height="6.72" fill="#e4eef4"/><rect x="365.35" y="392.81" width="7.58" height="6.72" fill="#edf2f5"/><rect x="372.93" y="392.81" width="7.58" height="6.72" fill="#f7f6f6"/><rect x="380.51" y="392.81" width="7.58" height="6.72" fill="#f7f6f6"/><rect x="388.09" y="392.81" width="7.58" height="6.72" fill="#f7f6f6"/><rect x="395.67" y="392.81" width="7.58" height="6.72" fill="#f7f6f6"/><rect x="403.25" y="392.81" width="7.58" height="6.72" fill="#f7f6f6"/><rect x="410.83" y="392.81" width="7.58" height="6.72" fill="#f7f6f6"/><rect x="418.41" y="392.81" width="7.58" height="6.72" fill="#d1e5f0"/><rect x="425.99" y="392.81" width="7.58" height="6.72" fill="#f9f0eb"/><rect x="433.57" y="392.81" width="7.58" height="6.72" fill="#f7f6f6"/><rect x="441.15" y="392.81" width="7.58" height="6.72" fill="#f7f6f6"/><rect x="69.70" y="399.52" width="7.58" height="6.72" fill="#f7f6f6"/><rect x="77.28" y="399.52" width="7.58" height="6.72" fill="#f7f6f6"/><rect x="84.86" y="399.52" width="7.58" height="6.72" fill="#f7f6f6"/><rect x="92.44" y="399.52" width="7.58" height="6.72" fill="#f7f6f6"/><rect x="100.02" y="399.52" width="7.58" height="6.72" fill="#fddbc7"/><rect x="107.60" y="399.52" width="7.58" height="6.72" fill="#fddbc7"/><rect x="115.18" y="399.52" width="7.58" height="6.72" fill="#f9f0eb"/><rect x="122.76" y="399.52" width="7.58" height="6.72" fill="#f7f6f6"/><rect x="130.35" y="399.52" width="7.58" height="6.72" fill="#edf2f5"/><rect x="137.93" y="399.52" width="7.58" height="6.72" fill="#edf2f5"/><rect x="145.51" y="399.52" width="7.58" height="6.72" fill="#f7f6f6"/><rect x="153.09" y="399.52" width="7.58" height="6.72" fill="#f7f6f6"/><rect x="160.67" y="399.52" width="7.58" height="6.72" fill="#f7f6f6"/><rect x="168.25" y="399.52" width="7.58" height="6.72" fill="#f7f6f6"/><rect x="175.83" y="399.52" width="7.58" height="6.72" fill="#fae9df"/><rect x="183.41" y="399.52" width="7.58" height="6.72" fill="#f7f6f6"/><rect x="190.99" y="399.52" width="7.58" height="6.72" fill="#f7f6f6"/><rect x="198.57" y="399.52" width="7.58" height="6.72" fill="#fce2d2"/><rect x="206.15" y="399.52" width="7.58" height="6.72" fill="#fce2d2"/><rect x="213.73" y="399.52" width="7.58" height="6.72" fill="#f7f6f6"/><rect x="221.31" y="399.52" width="7.58" height="6.72" fill="#f7f6f6"/><rect x="228.89" y="399.52" width="7.58" height="6.72" fill="#f9f0eb"/><rect x="236.47" y="399.52" width="7.58" height="6.72" fill="#edf2f5"/><rect x="244.05" y="399.52" width="7.58" height="6.72" fill="#f7f6f6"/><rect x="251.64" y="399.52" width="7.58" height="6.72" fill="#f7f6f6"/><rect x="259.22" y="399.52" width="7.58" height="6.72" fill="#fddbc7"/><rect x="266.80" y="399.52" width="7.58" height="6.72" fill="#f7f6f6"/><rect x="274.38" y="399.52" width="7.58" height="6.72" fill="#f7f6f6"/><rect x="281.96" y="399.52" width="7.58" height="6.72" fill="#fae9df"/><rect x="289.54" y="399.52" width="7.58" height="6.72" fill="#edf2f5"/><rect x="297.12" y="399.52" width="7.58" height="6.72" fill="#e4eef4"/><rect x="304.70" y="399.52" width="7.58" height="6.72" fill="#f7f6f6"/><rect x="312.28" y="399.52" width="7.58" height="6.72" fill="#f9f0eb"/><rect x="319.86" y="399.52" width="7.58" height="6.72" fill="#f7f6f6"/><rect x="327.44" y="399.52" width="7.58" height="6.72" fill="#f7f6f6"/><rect x="335.02" y="399.52" width="7.58" height="6.72" fill="#e4eef4"/><rect x="342.60" y="399.52" width="7.58" height="6.72" fill="#f7f6f6"/><rect x="350.18" y="399.52" width="7.58" height="6.72" fill="#edf2f5"/><rect x="357.76" y="399.52" width="7.58" height="6.72" fill="#edf2f5"/><rect x="365.35" y="399.52" width="7.58" height="6.72" fill="#f7f6f6"/><rect x="372.93" y="399.52" width="7.58" height="6.72" fill="#f7f6f6"/><rect x="380.51" y="399.52" width="7.58" height="6.72" fill="#f7f6f6"/><rect x="388.09" y="399.52" width="7.58" height="6.72" fill="#f7f6f6"/><rect x="395.67" y="399.52" width="7.58" height="6.72" fill="#f7f6f6"/><rect x="403.25" y="399.52" width="7.58" height="6.72" fill="#f7f6f6"/><rect x="410.83" y="399.52" width="7.58" height="6.72" fill="#f7f6f6"/><rect x="418.41" y="399.52" width="7.58" height="6.72" fill="#edf2f5"/><rect x="425.99" y="399.52" width="7.58" height="6.72" fill="#f9f0eb"/><rect x="433.57" y="399.52" width="7.58" height="6.72" fill="#edf2f5"/><rect x="441.15" y="399.52" width="7.58" height="6.72" fill="#f9f0eb"/><rect x="448.73" y="399.52" width="7.58" height="6.72" fill="#fae9df"/><rect x="69.70" y="406.24" width="7.58" height="6.72" fill="#fddbc7"/><rect x="77.28" y="406.24" width="7.58" height="6.72" fill="#f9f0eb"/><rect x="84.86" y="406.24" width="7.58" height="6.72" fill="#f7f6f6"/><rect x="92.44" y="406.24" width="7.58" height="6.72" fill="#f9f0eb"/><rect x="100.02" y="406.24" width="7.58" height="6.72" fill="#fbccb4"/><rect x="107.60" y="406.24" width="7.58" height="6.72" fill="#fbccb4"/><rect x="115.18" y="406.24" width="7.58" height="6.72" fill="#dae9f2"/><rect x="122.76" y="406.24" width="7.58" height="6.72" fill="#e4eef4"/><rect x="130.35" y="406.24" width="7.58" height="6.72" fill="#f7f6f6"/><rect x="137.93" y="406.24" width="7.58" height="6.72" fill="#f9f0eb"/><rect x="145.51" y="406.24" width="7.58" height="6.72" fill="#fddbc7"/><rect x="153.09" y="406.24" width="7.58" height="6.72" fill="#f7f6f6"/><rect x="160.67" y="406.24" width="7.58" height="6.72" fill="#f7f6f6"/><rect x="168.25" y="406.24" width="7.58" height="6.72" fill="#f7f6f6"/><rect x="175.83" y="406.24" width="7.58" height="6.72" fill="#fddbc7"/><rect x="183.41" y="406.24" width="7.58" height="6.72" fill="#f7f6f6"/><rect x="190.99" y="406.24" width="7.58" height="6.72" fill="#f9f0eb"/><rect x="198.57" y="406.24" width="7.58" height="6.72" fill="#fddbc7"/><rect x="206.15" y="406.24" width="7.58" height="6.72" fill="#f8bfa4"/><rect x="213.73" y="406.24" width="7.58" height="6.72" fill="#f7f6f6"/><rect x="221.31" y="406.24" width="7.58" height="6.72" fill="#f7f6f6"/><rect x="228.89" y="406.24" width="7.58" height="6.72" fill="#fbccb4"/><rect x="236.47" y="406.24" width="7.58" height="6.72" fill="#d1e5f0"/><rect x="244.05" y="406.24" width="7.58" height="6.72" fill="#fae9df"/><rect x="251.64" y="406.24" width="7.58" height="6.72" fill="#dae9f2"/><rect x="259.22" y="406.24" width="7.58" height="6.72" fill="#fbccb4"/><rect x="266.80" y="406.24" width="7.58" height="6.72" fill="#f7f6f6"/><rect x="274.38" y="406.24" width="7.58" height="6.72" fill="#f9f0eb"/><rect x="281.96" y="406.24" width="7.58" height="6.72" fill="#fae9df"/><rect x="289.54" y="406.24" width="7.58" height="6.72" fill="#f7f6f6"/><rect x="297.12" y="406.24" width="7.58" height="6.72" fill="#c2ddec"/><rect x="304.70" y="406.24" width="7.58" height="6.72" fill="#f7f6f6"/><rect x="312.28" y="406.24" width="7.58" height="6.72" fill="#f9f0eb"/><rect x="319.86" y="406.24" width="7.58" height="6.72" fill="#f7f6f6"/><rect x="327.44" y="406.24" width="7.58" height="6.72" fill="#f7f6f6"/><rect x="335.02" y="406.24" width="7.58" height="6.72" fill="#f7f6f6"/><rect x="342.60" y="406.24" width="7.58" height="6.72" fill="#f7f6f6"/><rect x="350.18" y="406.24" width="7.58" height="6.72" fill="#f7f6f6"/><rect x="357.76" y="406.24" width="7.58" height="6.72" fill="#f9f0eb"/><rect x="365.35" y="406.24" width="7.58" height="6.72" fill="#f7f6f6"/><rect x="372.93" y="406.24" width="7.58" height="6.72" fill="#f7f6f6"/><rect x="380.51" y="406.24" width="7.58" height="6.72" fill="#f7f6f6"/><rect x="388.09" y="406.24" width="7.58" height="6.72" fill="#f7f6f6"/><rect x="395.67" y="406.24" width="7.58" height="6.72" fill="#f7f6f6"/><rect x="403.25" y="406.24" width="7.58" height="6.72" fill="#f7f6f6"/><rect x="410.83" y="406.24" width="7.58" height="6.72" fill="#f7f6f6"/><rect x="418.41" y="406.24" width="7.58" height="6.72" fill="#edf2f5"/><rect x="425.99" y="406.24" width="7.58" height="6.72" fill="#f7f6f6"/><rect x="433.57" y="406.24" width="7.58" height="6.72" fill="#edf2f5"/><rect x="441.15" y="406.24" width="7.58" height="6.72" fill="#fddbc7"/><rect x="448.73" y="406.24" width="7.58" height="6.72" fill="#f9f0eb"/><rect x="456.31" y="406.24" width="7.58" height="6.72" fill="#9f1228"/><rect x="69.70" y="412.95" width="7.58" height="6.72" fill="#f7f6f6"/><rect x="77.28" y="412.95" width="7.58" height="6.72" fill="#d1e5f0"/><rect x="84.86" y="412.95" width="7.58" height="6.72" fill="#d1e5f0"/><rect x="92.44" y="412.95" width="7.58" height="6.72" fill="#e4eef4"/><rect x="100.02" y="412.95" width="7.58" height="6.72" fill="#f8bfa4"/><rect x="107.60" y="412.95" width="7.58" height="6.72" fill="#f8bfa4"/><rect x="115.18" y="412.95" width="7.58" height="6.72" fill="#fae9df"/><rect x="122.76" y="412.95" width="7.58" height="6.72" fill="#fae9df"/><rect x="130.35" y="412.95" width="7.58" height="6.72" fill="#f7f6f6"/><rect x="137.93" y="412.95" width="7.58" height="6.72" fill="#d1e5f0"/><rect x="145.51" y="412.95" width="7.58" height="6.72" fill="#f7f6f6"/><rect x="153.09" y="412.95" width="7.58" height="6.72" fill="#f7f6f6"/><rect x="160.67" y="412.95" width="7.58" height="6.72" fill="#f7f6f6"/><rect x="168.25" y="412.95" width="7.58" height="6.72" fill="#f7f6f6"/><rect x="175.83" y="412.95" width="7.58" height="6.72" fill="#f7f6f6"/><rect x="183.41" y="412.95" width="7.58" height="6.72" fill="#edf2f5"/><rect x="190.99" y="412.95" width="7.58" height="6.72" fill="#edf2f5"/><rect x="198.57" y="412.95" width="7.58" height="6.72" fill="#f9f0eb"/><rect x="206.15" y="412.95" width="7.58" height="6.72" fill="#f8bfa4"/><rect x="213.73" y="412.95" width="7.58" height="6.72" fill="#f9f0eb"/><rect x="221.31" y="412.95" width="7.58" height="6.72" fill="#f9f0eb"/><rect x="228.89" y="412.95" width="7.58" height="6.72" fill="#7eb8d7"/><rect x="236.47" y="412.95" width="7.58" height="6.72" fill="#7eb8d7"/><rect x="244.05" y="412.95" width="7.58" height="6.72" fill="#e4eef4"/><rect x="251.64" y="412.95" width="7.58" height="6.72" fill="#b1d5e7"/><rect x="259.22" y="412.95" width="7.58" height="6.72" fill="#f7f6f6"/><rect x="266.80" y="412.95" width="7.58" height="6.72" fill="#f9f0eb"/><rect x="274.38" y="412.95" width="7.58" height="6.72" fill="#f7f6f6"/><rect x="281.96" y="412.95" width="7.58" height="6.72" fill="#cc4c44"/><rect x="289.54" y="412.95" width="7.58" height="6.72" fill="#e4eef4"/><rect x="297.12" y="412.95" width="7.58" height="6.72" fill="#f7f6f6"/><rect x="304.70" y="412.95" width="7.58" height="6.72" fill="#f7f6f6"/><rect x="312.28" y="412.95" width="7.58" height="6.72" fill="#790622"/><rect x="319.86" y="412.95" width="7.58" height="6.72" fill="#f7f6f6"/><rect x="327.44" y="412.95" width="7.58" height="6.72" fill="#fbccb4"/><rect x="335.02" y="412.95" width="7.58" height="6.72" fill="#dae9f2"/><rect x="342.60" y="412.95" width="7.58" height="6.72" fill="#f7f6f6"/><rect x="350.18" y="412.95" width="7.58" height="6.72" fill="#90c4dd"/><rect x="357.76" y="412.95" width="7.58" height="6.72" fill="#90c4dd"/><rect x="365.35" y="412.95" width="7.58" height="6.72" fill="#f7f6f6"/><rect x="372.93" y="412.95" width="7.58" height="6.72" fill="#f7f6f6"/><rect x="380.51" y="412.95" width="7.58" height="6.72" fill="#f7f6f6"/><rect x="388.09" y="412.95" width="7.58" height="6.72" fill="#f7f6f6"/><rect x="395.67" y="412.95" width="7.58" height="6.72" fill="#f7f6f6"/><rect x="403.25" y="412.95" width="7.58" height="6.72" fill="#f7f6f6"/><rect x="410.83" y="412.95" width="7.58" height="6.72" fill="#f7f6f6"/><rect x="418.41" y="412.95" width="7.58" height="6.72" fill="#f7f6f6"/><rect x="425.99" y="412.95" width="7.58" height="6.72" fill="#f9f0eb"/><rect x="433.57" y="412.95" width="7.58" height="6.72" fill="#b1d5e7"/><rect x="441.15" y="412.95" width="7.58" height="6.72" fill="#edf2f5"/><rect x="448.73" y="412.95" width="7.58" height="6.72" fill="#f9f0eb"/><rect x="456.31" y="412.95" width="7.58" height="6.72" fill="#fce2d2"/><rect x="463.89" y="412.95" width="7.58" height="6.72" fill="#fae9df"/><rect x="69.70" y="419.67" width="7.58" height="6.72" fill="#d6604d"/><rect x="77.28" y="419.67" width="7.58" height="6.72" fill="#ba2832"/><rect x="84.86" y="419.67" width="7.58" height="6.72" fill="#f7f6f6"/><rect x="92.44" y="419.67" width="7.58" height="6.72" fill="#f3a481"/><rect x="100.02" y="419.67" width="7.58" height="6.72" fill="#f9f0eb"/><rect x="107.60" y="419.67" width="7.58" height="6.72" fill="#f9f0eb"/><rect x="115.18" y="419.67" width="7.58" height="6.72" fill="#a2cde3"/><rect x="122.76" y="419.67" width="7.58" height="6.72" fill="#a2cde3"/><rect x="130.35" y="419.67" width="7.58" height="6.72" fill="#f6b394"/><rect x="137.93" y="419.67" width="7.58" height="6.72" fill="#ba2832"/><rect x="145.51" y="419.67" width="7.58" height="6.72" fill="#f6b394"/><rect x="153.09" y="419.67" width="7.58" height="6.72" fill="#f7f6f6"/><rect x="160.67" y="419.67" width="7.58" height="6.72" fill="#f9f0eb"/><rect x="168.25" y="419.67" width="7.58" height="6.72" fill="#f7f6f6"/><rect x="175.83" y="419.67" width="7.58" height="6.72" fill="#fbccb4"/><rect x="183.41" y="419.67" width="7.58" height="6.72" fill="#fbccb4"/><rect x="190.99" y="419.67" width="7.58" height="6.72" fill="#fbccb4"/><rect x="198.57" y="419.67" width="7.58" height="6.72" fill="#f8bfa4"/><rect x="206.15" y="419.67" width="7.58" height="6.72" fill="#f9f0eb"/><rect x="213.73" y="419.67" width="7.58" height="6.72" fill="#f9f0eb"/><rect x="221.31" y="419.67" width="7.58" height="6.72" fill="#edf2f5"/><rect x="228.89" y="419.67" width="7.58" height="6.72" fill="#f8bfa4"/><rect x="236.47" y="419.67" width="7.58" height="6.72" fill="#f7f6f6"/><rect x="244.05" y="419.67" width="7.58" height="6.72" fill="#dd7059"/><rect x="251.64" y="419.67" width="7.58" height="6.72" fill="#ec9374"/><rect x="259.22" y="419.67" width="7.58" height="6.72" fill="#dd7059"/><rect x="266.80" y="419.67" width="7.58" height="6.72" fill="#fce2d2"/><rect x="274.38" y="419.67" width="7.58" height="6.72" fill="#fddbc7"/><rect x="281.96" y="419.67" width="7.58" height="6.72" fill="#d1e5f0"/><rect x="289.54" y="419.67" width="7.58" height="6.72" fill="#f8bfa4"/><rect x="297.12" y="419.67" width="7.58" height="6.72" fill="#7eb8d7"/><rect x="304.70" y="419.67" width="7.58" height="6.72" fill="#fae9df"/><rect x="312.28" y="419.67" width="7.58" height="6.72" fill="#dae9f2"/><rect x="319.86" y="419.67" width="7.58" height="6.72" fill="#f9f0eb"/><rect x="327.44" y="419.67" width="7.58" height="6.72" fill="#f7f6f6"/><rect x="335.02" y="419.67" width="7.58" height="6.72" fill="#ec9374"/><rect x="342.60" y="419.67" width="7.58" height="6.72" fill="#f7f6f6"/><rect x="350.18" y="419.67" width="7.58" height="6.72" fill="#fbccb4"/><rect x="357.76" y="419.67" width="7.58" height="6.72" fill="#fbccb4"/><rect x="365.35" y="419.67" width="7.58" height="6.72" fill="#fae9df"/><rect x="372.93" y="419.67" width="7.58" height="6.72" fill="#fae9df"/><rect x="380.51" y="419.67" width="7.58" height="6.72" fill="#edf2f5"/><rect x="388.09" y="419.67" width="7.58" height="6.72" fill="#f8bfa4"/><rect x="395.67" y="419.67" width="7.58" height="6.72" fill="#f9f0eb"/><rect x="403.25" y="419.67" width="7.58" height="6.72" fill="#f9f0eb"/><rect x="410.83" y="419.67" width="7.58" height="6.72" fill="#f7f6f6"/><rect x="418.41" y="419.67" width="7.58" height="6.72" fill="#fddbc7"/><rect x="425.99" y="419.67" width="7.58" height="6.72" fill="#f7f6f6"/><rect x="433.57" y="419.67" width="7.58" height="6.72" fill="#ec9374"/><rect x="441.15" y="419.67" width="7.58" height="6.72" fill="#f8bfa4"/><rect x="448.73" y="419.67" width="7.58" height="6.72" fill="#f7f6f6"/><rect x="456.31" y="419.67" width="7.58" height="6.72" fill="#edf2f5"/><rect x="463.89" y="419.67" width="7.58" height="6.72" fill="#f7f6f6"/><rect x="471.47" y="419.67" width="7.58" height="6.72" fill="#b1d5e7"/><rect x="69.70" y="426.39" width="7.58" height="6.72" fill="#e4eef4"/><rect x="77.28" y="426.39" width="7.58" height="6.72" fill="#e4eef4"/><rect x="84.86" y="426.39" width="7.58" height="6.72" fill="#f7f6f6"/><rect x="92.44" y="426.39" width="7.58" height="6.72" fill="#f7f6f6"/><rect x="100.02" y="426.39" width="7.58" height="6.72" fill="#edf2f5"/><rect x="107.60" y="426.39" width="7.58" height="6.72" fill="#edf2f5"/><rect x="115.18" y="426.39" width="7.58" height="6.72" fill="#fae9df"/><rect x="122.76" y="426.39" width="7.58" height="6.72" fill="#f9f0eb"/><rect x="130.35" y="426.39" width="7.58" height="6.72" fill="#3a87bd"/><rect x="137.93" y="426.39" width="7.58" height="6.72" fill="#e4eef4"/><rect x="145.51" y="426.39" width="7.58" height="6.72" fill="#3a87bd"/><rect x="153.09" y="426.39" width="7.58" height="6.72" fill="#f7f6f6"/><rect x="160.67" y="426.39" width="7.58" height="6.72" fill="#f9f0eb"/><rect x="168.25" y="426.39" width="7.58" height="6.72" fill="#f7f6f6"/><rect x="175.83" y="426.39" width="7.58" height="6.72" fill="#fae9df"/><rect x="183.41" y="426.39" width="7.58" height="6.72" fill="#edf2f5"/><rect x="190.99" y="426.39" width="7.58" height="6.72" fill="#edf2f5"/><rect x="198.57" y="426.39" width="7.58" height="6.72" fill="#dae9f2"/><rect x="206.15" y="426.39" width="7.58" height="6.72" fill="#f7f6f6"/><rect x="213.73" y="426.39" width="7.58" height="6.72" fill="#f7f6f6"/><rect x="221.31" y="426.39" width="7.58" height="6.72" fill="#f7f6f6"/><rect x="228.89" y="426.39" width="7.58" height="6.72" fill="#e4eef4"/><rect x="236.47" y="426.39" width="7.58" height="6.72" fill="#f7f6f6"/><rect x="244.05" y="426.39" width="7.58" height="6.72" fill="#e4eef4"/><rect x="251.64" y="426.39" width="7.58" height="6.72" fill="#f7f6f6"/><rect x="259.22" y="426.39" width="7.58" height="6.72" fill="#fce2d2"/><rect x="266.80" y="426.39" width="7.58" height="6.72" fill="#f7f6f6"/><rect x="274.38" y="426.39" width="7.58" height="6.72" fill="#f7f6f6"/><rect x="281.96" y="426.39" width="7.58" height="6.72" fill="#f9f0eb"/><rect x="289.54" y="426.39" width="7.58" height="6.72" fill="#f7f6f6"/><rect x="297.12" y="426.39" width="7.58" height="6.72" fill="#edf2f5"/><rect x="304.70" y="426.39" width="7.58" height="6.72" fill="#f7f6f6"/><rect x="312.28" y="426.39" width="7.58" height="6.72" fill="#f7f6f6"/><rect x="319.86" y="426.39" width="7.58" height="6.72" fill="#f7f6f6"/><rect x="327.44" y="426.39" width="7.58" height="6.72" fill="#f7f6f6"/><rect x="335.02" y="426.39" width="7.58" height="6.72" fill="#edf2f5"/><rect x="342.60" y="426.39" width="7.58" height="6.72" fill="#f7f6f6"/><rect x="350.18" y="426.39" width="7.58" height="6.72" fill="#d1e5f0"/><rect x="357.76" y="426.39" width="7.58" height="6.72" fill="#d1e5f0"/><rect x="365.35" y="426.39" width="7.58" height="6.72" fill="#f7f6f6"/><rect x="372.93" y="426.39" width="7.58" height="6.72" fill="#edf2f5"/><rect x="380.51" y="426.39" width="7.58" height="6.72" fill="#f7f6f6"/><rect x="388.09" y="426.39" width="7.58" height="6.72" fill="#edf2f5"/><rect x="395.67" y="426.39" width="7.58" height="6.72" fill="#dae9f2"/><rect x="403.25" y="426.39" width="7.58" height="6.72" fill="#f7f6f6"/><rect x="410.83" y="426.39" width="7.58" height="6.72" fill="#f7f6f6"/><rect x="418.41" y="426.39" width="7.58" height="6.72" fill="#edf2f5"/><rect x="425.99" y="426.39" width="7.58" height="6.72" fill="#f7f6f6"/><rect x="433.57" y="426.39" width="7.58" height="6.72" fill="#edf2f5"/><rect x="441.15" y="426.39" width="7.58" height="6.72" fill="#90c4dd"/><rect x="448.73" y="426.39" width="7.58" height="6.72" fill="#f7f6f6"/><rect x="456.31" y="426.39" width="7.58" height="6.72" fill="#fae9df"/><rect x="463.89" y="426.39" width="7.58" height="6.72" fill="#f7f6f6"/><rect x="471.47" y="426.39" width="7.58" height="6.72" fill="#f9f0eb"/><rect x="479.05" y="426.39" width="7.58" height="6.72" fill="#e4eef4"/><rect x="69.70" y="433.10" width="7.58" height="6.72" fill="#edf2f5"/><rect x="77.28" y="433.10" width="7.58" height="6.72" fill="#f7f6f6"/><rect x="84.86" y="433.10" width="7.58" height="6.72" fill="#e4eef4"/><rect x="92.44" y="433.10" width="7.58" height="6.72" fill="#f7f6f6"/><rect x="100.02" y="433.10" width="7.58" height="6.72" fill="#edf2f5"/><rect x="107.60" y="433.10" width="7.58" height="6.72" fill="#edf2f5"/><rect x="115.18" y="433.10" width="7.58" height="6.72" fill="#f7f6f6"/><rect x="122.76" y="433.10" width="7.58" height="6.72" fill="#f7f6f6"/><rect x="130.35" y="433.10" width="7.58" height="6.72" fill="#fce2d2"/><rect x="137.93" y="433.10" width="7.58" height="6.72" fill="#edf2f5"/><rect x="145.51" y="433.10" width="7.58" height="6.72" fill="#f7f6f6"/><rect x="153.09" y="433.10" width="7.58" height="6.72" fill="#f7f6f6"/><rect x="160.67" y="433.10" width="7.58" height="6.72" fill="#f7f6f6"/><rect x="168.25" y="433.10" width="7.58" height="6.72" fill="#f7f6f6"/><rect x="175.83" y="433.10" width="7.58" height="6.72" fill="#b1d5e7"/><rect x="183.41" y="433.10" width="7.58" height="6.72" fill="#f7f6f6"/><rect x="190.99" y="433.10" width="7.58" height="6.72" fill="#f7f6f6"/><rect x="198.57" y="433.10" width="7.58" height="6.72" fill="#90c4dd"/><rect x="206.15" y="433.10" width="7.58" height="6.72" fill="#f7f6f6"/><rect x="213.73" y="433.10" width="7.58" height="6.72" fill="#f7f6f6"/><rect x="221.31" y="433.10" width="7.58" height="6.72" fill="#f7f6f6"/><rect x="228.89" y="433.10" width="7.58" height="6.72" fill="#f7f6f6"/><rect x="236.47" y="433.10" width="7.58" height="6.72" fill="#f7f6f6"/><rect x="244.05" y="433.10" width="7.58" height="6.72" fill="#f7f6f6"/><rect x="251.64" y="433.10" width="7.58" height="6.72" fill="#f7f6f6"/><rect x="259.22" y="433.10" width="7.58" height="6.72" fill="#c2ddec"/><rect x="266.80" y="433.10" width="7.58" height="6.72" fill="#f7f6f6"/><rect x="274.38" y="433.10" width="7.58" height="6.72" fill="#f7f6f6"/><rect x="281.96" y="433.10" width="7.58" height="6.72" fill="#edf2f5"/><rect x="289.54" y="433.10" width="7.58" height="6.72" fill="#f7f6f6"/><rect x="297.12" y="433.10" width="7.58" height="6.72" fill="#fbccb4"/><rect x="304.70" y="433.10" width="7.58" height="6.72" fill="#f7f6f6"/><rect x="312.28" y="433.10" width="7.58" height="6.72" fill="#f7f6f6"/><rect x="319.86" y="433.10" width="7.58" height="6.72" fill="#f7f6f6"/><rect x="327.44" y="433.10" width="7.58" height="6.72" fill="#f7f6f6"/><rect x="335.02" y="433.10" width="7.58" height="6.72" fill="#f7f6f6"/><rect x="342.60" y="433.10" width="7.58" height="6.72" fill="#f7f6f6"/><rect x="350.18" y="433.10" width="7.58" height="6.72" fill="#f9f0eb"/><rect x="357.76" y="433.10" width="7.58" height="6.72" fill="#f9f0eb"/><rect x="365.35" y="433.10" width="7.58" height="6.72" fill="#f7f6f6"/><rect x="372.93" y="433.10" width="7.58" height="6.72" fill="#f7f6f6"/><rect x="380.51" y="433.10" width="7.58" height="6.72" fill="#f7f6f6"/><rect x="388.09" y="433.10" width="7.58" height="6.72" fill="#edf2f5"/><rect x="395.67" y="433.10" width="7.58" height="6.72" fill="#f7f6f6"/><rect x="403.25" y="433.10" width="7.58" height="6.72" fill="#fce2d2"/><rect x="410.83" y="433.10" width="7.58" height="6.72" fill="#f7f6f6"/><rect x="418.41" y="433.10" width="7.58" height="6.72" fill="#f7f6f6"/><rect x="425.99" y="433.10" width="7.58" height="6.72" fill="#fce2d2"/><rect x="433.57" y="433.10" width="7.58" height="6.72" fill="#f9f0eb"/><rect x="441.15" y="433.10" width="7.58" height="6.72" fill="#f7f6f6"/><rect x="448.73" y="433.10" width="7.58" height="6.72" fill="#f7f6f6"/><rect x="456.31" y="433.10" width="7.58" height="6.72" fill="#c2ddec"/><rect x="463.89" y="433.10" width="7.58" height="6.72" fill="#c2ddec"/><rect x="471.47" y="433.10" width="7.58" height="6.72" fill="#edf2f5"/><rect x="479.05" y="433.10" width="7.58" height="6.72" fill="#f9f0eb"/><rect x="486.64" y="433.10" width="7.58" height="6.72" fill="#e4eef4"/><rect x="69.70" y="439.82" width="7.58" height="6.72" fill="#f7f6f6"/><rect x="77.28" y="439.82" width="7.58" height="6.72" fill="#f7f6f6"/><rect x="84.86" y="439.82" width="7.58" height="6.72" fill="#f7f6f6"/><rect x="92.44" y="439.82" width="7.58" height="6.72" fill="#f7f6f6"/><rect x="100.02" y="439.82" width="7.58" height="6.72" fill="#f7f6f6"/><rect x="107.60" y="439.82" width="7.58" height="6.72" fill="#f7f6f6"/><rect x="115.18" y="439.82" width="7.58" height="6.72" fill="#f7f6f6"/><rect x="122.76" y="439.82" width="7.58" height="6.72" fill="#f7f6f6"/><rect x="130.35" y="439.82" width="7.58" height="6.72" fill="#f9f0eb"/><rect x="137.93" y="439.82" width="7.58" height="6.72" fill="#f9f0eb"/><rect x="145.51" y="439.82" width="7.58" height="6.72" fill="#f7f6f6"/><rect x="153.09" y="439.82" width="7.58" height="6.72" fill="#f7f6f6"/><rect x="160.67" y="439.82" width="7.58" height="6.72" fill="#f7f6f6"/><rect x="168.25" y="439.82" width="7.58" height="6.72" fill="#f7f6f6"/><rect x="175.83" y="439.82" width="7.58" height="6.72" fill="#fae9df"/><rect x="183.41" y="439.82" width="7.58" height="6.72" fill="#f7f6f6"/><rect x="190.99" y="439.82" width="7.58" height="6.72" fill="#f7f6f6"/><rect x="198.57" y="439.82" width="7.58" height="6.72" fill="#e4eef4"/><rect x="206.15" y="439.82" width="7.58" height="6.72" fill="#f7f6f6"/><rect x="213.73" y="439.82" width="7.58" height="6.72" fill="#f7f6f6"/><rect x="221.31" y="439.82" width="7.58" height="6.72" fill="#f7f6f6"/><rect x="228.89" y="439.82" width="7.58" height="6.72" fill="#edf2f5"/><rect x="236.47" y="439.82" width="7.58" height="6.72" fill="#edf2f5"/><rect x="244.05" y="439.82" width="7.58" height="6.72" fill="#f7f6f6"/><rect x="251.64" y="439.82" width="7.58" height="6.72" fill="#f7f6f6"/><rect x="259.22" y="439.82" width="7.58" height="6.72" fill="#f3a481"/><rect x="266.80" y="439.82" width="7.58" height="6.72" fill="#f7f6f6"/><rect x="274.38" y="439.82" width="7.58" height="6.72" fill="#f7f6f6"/><rect x="281.96" y="439.82" width="7.58" height="6.72" fill="#f9f0eb"/><rect x="289.54" y="439.82" width="7.58" height="6.72" fill="#fce2d2"/><rect x="297.12" y="439.82" width="7.58" height="6.72" fill="#dae9f2"/><rect x="304.70" y="439.82" width="7.58" height="6.72" fill="#f7f6f6"/><rect x="312.28" y="439.82" width="7.58" height="6.72" fill="#f7f6f6"/><rect x="319.86" y="439.82" width="7.58" height="6.72" fill="#f7f6f6"/><rect x="327.44" y="439.82" width="7.58" height="6.72" fill="#f7f6f6"/><rect x="335.02" y="439.82" width="7.58" height="6.72" fill="#f7f6f6"/><rect x="342.60" y="439.82" width="7.58" height="6.72" fill="#f7f6f6"/><rect x="350.18" y="439.82" width="7.58" height="6.72" fill="#edf2f5"/><rect x="357.76" y="439.82" width="7.58" height="6.72" fill="#edf2f5"/><rect x="365.35" y="439.82" width="7.58" height="6.72" fill="#f7f6f6"/><rect x="372.93" y="439.82" width="7.58" height="6.72" fill="#f7f6f6"/><rect x="380.51" y="439.82" width="7.58" height="6.72" fill="#f7f6f6"/><rect x="388.09" y="439.82" width="7.58" height="6.72" fill="#f7f6f6"/><rect x="395.67" y="439.82" width="7.58" height="6.72" fill="#f7f6f6"/><rect x="403.25" y="439.82" width="7.58" height="6.72" fill="#f7f6f6"/><rect x="410.83" y="439.82" width="7.58" height="6.72" fill="#fce2d2"/><rect x="418.41" y="439.82" width="7.58" height="6.72" fill="#f7f6f6"/><rect x="425.99" y="439.82" width="7.58" height="6.72" fill="#f7f6f6"/><rect x="433.57" y="439.82" width="7.58" height="6.72" fill="#f7f6f6"/><rect x="441.15" y="439.82" width="7.58" height="6.72" fill="#b1d5e7"/><rect x="448.73" y="439.82" width="7.58" height="6.72" fill="#f7f6f6"/><rect x="456.31" y="439.82" width="7.58" height="6.72" fill="#c2ddec"/><rect x="463.89" y="439.82" width="7.58" height="6.72" fill="#c2ddec"/><rect x="471.47" y="439.82" width="7.58" height="6.72" fill="#f7f6f6"/><rect x="479.05" y="439.82" width="7.58" height="6.72" fill="#fae9df"/><rect x="486.64" y="439.82" width="7.58" height="6.72" fill="#fce2d2"/><rect x="494.22" y="439.82" width="7.58" height="6.72" fill="#fce2d2"/><rect x="69.70" y="446.54" width="7.58" height="6.72" fill="#fce2d2"/><rect x="77.28" y="446.54" width="7.58" height="6.72" fill="#fbccb4"/><rect x="84.86" y="446.54" width="7.58" height="6.72" fill="#e4eef4"/><rect x="92.44" y="446.54" width="7.58" height="6.72" fill="#d6604d"/><rect x="100.02" y="446.54" width="7.58" height="6.72" fill="#fae9df"/><rect x="107.60" y="446.54" width="7.58" height="6.72" fill="#fae9df"/><rect x="115.18" y="446.54" width="7.58" height="6.72" fill="#b1d5e7"/><rect x="122.76" y="446.54" width="7.58" height="6.72" fill="#c2ddec"/><rect x="130.35" y="446.54" width="7.58" height="6.72" fill="#f9f0eb"/><rect x="137.93" y="446.54" width="7.58" height="6.72" fill="#fddbc7"/><rect x="145.51" y="446.54" width="7.58" height="6.72" fill="#fce2d2"/><rect x="153.09" y="446.54" width="7.58" height="6.72" fill="#f7f6f6"/><rect x="160.67" y="446.54" width="7.58" height="6.72" fill="#ec9374"/><rect x="168.25" y="446.54" width="7.58" height="6.72" fill="#f7f6f6"/><rect x="175.83" y="446.54" width="7.58" height="6.72" fill="#f3a481"/><rect x="183.41" y="446.54" width="7.58" height="6.72" fill="#fddbc7"/><rect x="190.99" y="446.54" width="7.58" height="6.72" fill="#fddbc7"/><rect x="198.57" y="446.54" width="7.58" height="6.72" fill="#e4eef4"/><rect x="206.15" y="446.54" width="7.58" height="6.72" fill="#f9f0eb"/><rect x="213.73" y="446.54" width="7.58" height="6.72" fill="#f7f6f6"/><rect x="221.31" y="446.54" width="7.58" height="6.72" fill="#edf2f5"/><rect x="228.89" y="446.54" width="7.58" height="6.72" fill="#fbccb4"/><rect x="236.47" y="446.54" width="7.58" height="6.72" fill="#e4eef4"/><rect x="244.05" y="446.54" width="7.58" height="6.72" fill="#e48066"/><rect x="251.64" y="446.54" width="7.58" height="6.72" fill="#fddbc7"/><rect x="259.22" y="446.54" width="7.58" height="6.72" fill="#fddbc7"/><rect x="266.80" y="446.54" width="7.58" height="6.72" fill="#f8bfa4"/><rect x="274.38" y="446.54" width="7.58" height="6.72" fill="#dd7059"/><rect x="281.96" y="446.54" width="7.58" height="6.72" fill="#f7f6f6"/><rect x="289.54" y="446.54" width="7.58" height="6.72" fill="#e48066"/><rect x="297.12" y="446.54" width="7.58" height="6.72" fill="#e4eef4"/><rect x="304.70" y="446.54" width="7.58" height="6.72" fill="#e48066"/><rect x="312.28" y="446.54" width="7.58" height="6.72" fill="#f7f6f6"/><rect x="319.86" y="446.54" width="7.58" height="6.72" fill="#f9f0eb"/><rect x="327.44" y="446.54" width="7.58" height="6.72" fill="#f7f6f6"/><rect x="335.02" y="446.54" width="7.58" height="6.72" fill="#f6b394"/><rect x="342.60" y="446.54" width="7.58" height="6.72" fill="#f7f6f6"/><rect x="350.18" y="446.54" width="7.58" height="6.72" fill="#fddbc7"/><rect x="357.76" y="446.54" width="7.58" height="6.72" fill="#fddbc7"/><rect x="365.35" y="446.54" width="7.58" height="6.72" fill="#fddbc7"/><rect x="372.93" y="446.54" width="7.58" height="6.72" fill="#e4eef4"/><rect x="380.51" y="446.54" width="7.58" height="6.72" fill="#fae9df"/><rect x="388.09" y="446.54" width="7.58" height="6.72" fill="#f7f6f6"/><rect x="395.67" y="446.54" width="7.58" height="6.72" fill="#e4eef4"/><rect x="403.25" y="446.54" width="7.58" height="6.72" fill="#fbccb4"/><rect x="410.83" y="446.54" width="7.58" height="6.72" fill="#fbccb4"/><rect x="418.41" y="446.54" width="7.58" height="6.72" fill="#dd7059"/><rect x="425.99" y="446.54" width="7.58" height="6.72" fill="#fbccb4"/><rect x="433.57" y="446.54" width="7.58" height="6.72" fill="#fddbc7"/><rect x="441.15" y="446.54" width="7.58" height="6.72" fill="#f7f6f6"/><rect x="448.73" y="446.54" width="7.58" height="6.72" fill="#f7f6f6"/><rect x="456.31" y="446.54" width="7.58" height="6.72" fill="#f7f6f6"/><rect x="463.89" y="446.54" width="7.58" height="6.72" fill="#fae9df"/><rect x="471.47" y="446.54" width="7.58" height="6.72" fill="#edf2f5"/><rect x="479.05" y="446.54" width="7.58" height="6.72" fill="#f3a481"/><rect x="486.64" y="446.54" width="7.58" height="6.72" fill="#f7f6f6"/><rect x="494.22" y="446.54" width="7.58" height="6.72" fill="#f9f0eb"/><rect x="501.80" y="446.54" width="7.58" height="6.72" fill="#f7f6f6"/><rect x="69.70" y="453.25" width="7.58" height="6.72" fill="#b1d5e7"/><rect x="77.28" y="453.25" width="7.58" height="6.72" fill="#b1d5e7"/><rect x="84.86" y="453.25" width="7.58" height="6.72" fill="#f7f6f6"/><rect x="92.44" y="453.25" width="7.58" height="6.72" fill="#c2ddec"/><rect x="100.02" y="453.25" width="7.58" height="6.72" fill="#e4eef4"/><rect x="107.60" y="453.25" width="7.58" height="6.72" fill="#e4eef4"/><rect x="115.18" y="453.25" width="7.58" height="6.72" fill="#d6604d"/><rect x="122.76" y="453.25" width="7.58" height="6.72" fill="#ec9374"/><rect x="130.35" y="453.25" width="7.58" height="6.72" fill="#d1e5f0"/><rect x="137.93" y="453.25" width="7.58" height="6.72" fill="#b1d5e7"/><rect x="145.51" y="453.25" width="7.58" height="6.72" fill="#b1d5e7"/><rect x="153.09" y="453.25" width="7.58" height="6.72" fill="#f7f6f6"/><rect x="160.67" y="453.25" width="7.58" height="6.72" fill="#fae9df"/><rect x="168.25" y="453.25" width="7.58" height="6.72" fill="#f7f6f6"/><rect x="175.83" y="453.25" width="7.58" height="6.72" fill="#edf2f5"/><rect x="183.41" y="453.25" width="7.58" height="6.72" fill="#edf2f5"/><rect x="190.99" y="453.25" width="7.58" height="6.72" fill="#e4eef4"/><rect x="198.57" y="453.25" width="7.58" height="6.72" fill="#dae9f2"/><rect x="206.15" y="453.25" width="7.58" height="6.72" fill="#f7f6f6"/><rect x="213.73" y="453.25" width="7.58" height="6.72" fill="#f9f0eb"/><rect x="221.31" y="453.25" width="7.58" height="6.72" fill="#f9f0eb"/><rect x="228.89" y="453.25" width="7.58" height="6.72" fill="#6bacd1"/><rect x="236.47" y="453.25" width="7.58" height="6.72" fill="#f7f6f6"/><rect x="244.05" y="453.25" width="7.58" height="6.72" fill="#b1d5e7"/><rect x="251.64" y="453.25" width="7.58" height="6.72" fill="#f9f0eb"/><rect x="259.22" y="453.25" width="7.58" height="6.72" fill="#f9f0eb"/><rect x="266.80" y="453.25" width="7.58" height="6.72" fill="#e4eef4"/><rect x="274.38" y="453.25" width="7.58" height="6.72" fill="#dae9f2"/><rect x="281.96" y="453.25" width="7.58" height="6.72" fill="#fbccb4"/><rect x="289.54" y="453.25" width="7.58" height="6.72" fill="#d1e5f0"/><rect x="297.12" y="453.25" width="7.58" height="6.72" fill="#f6b394"/><rect x="304.70" y="453.25" width="7.58" height="6.72" fill="#dae9f2"/><rect x="312.28" y="453.25" width="7.58" height="6.72" fill="#fddbc7"/><rect x="319.86" y="453.25" width="7.58" height="6.72" fill="#f7f6f6"/><rect x="327.44" y="453.25" width="7.58" height="6.72" fill="#f7f6f6"/><rect x="335.02" y="453.25" width="7.58" height="6.72" fill="#c2ddec"/><rect x="342.60" y="453.25" width="7.58" height="6.72" fill="#f7f6f6"/><rect x="350.18" y="453.25" width="7.58" height="6.72" fill="#7eb8d7"/><rect x="357.76" y="453.25" width="7.58" height="6.72" fill="#7eb8d7"/><rect x="365.35" y="453.25" width="7.58" height="6.72" fill="#edf2f5"/><rect x="372.93" y="453.25" width="7.58" height="6.72" fill="#f7f6f6"/><rect x="380.51" y="453.25" width="7.58" height="6.72" fill="#f7f6f6"/><rect x="388.09" y="453.25" width="7.58" height="6.72" fill="#edf2f5"/><rect x="395.67" y="453.25" width="7.58" height="6.72" fill="#f7f6f6"/><rect x="403.25" y="453.25" width="7.58" height="6.72" fill="#f9f0eb"/><rect x="410.83" y="453.25" width="7.58" height="6.72" fill="#f7f6f6"/><rect x="418.41" y="453.25" width="7.58" height="6.72" fill="#f7f6f6"/><rect x="425.99" y="453.25" width="7.58" height="6.72" fill="#f7f6f6"/><rect x="433.57" y="453.25" width="7.58" height="6.72" fill="#dae9f2"/><rect x="441.15" y="453.25" width="7.58" height="6.72" fill="#a2cde3"/><rect x="448.73" y="453.25" width="7.58" height="6.72" fill="#f9f0eb"/><rect x="456.31" y="453.25" width="7.58" height="6.72" fill="#f7f6f6"/><rect x="463.89" y="453.25" width="7.58" height="6.72" fill="#c2ddec"/><rect x="471.47" y="453.25" width="7.58" height="6.72" fill="#fddbc7"/><rect x="479.05" y="453.25" width="7.58" height="6.72" fill="#a2cde3"/><rect x="486.64" y="453.25" width="7.58" height="6.72" fill="#e48066"/><rect x="494.22" y="453.25" width="7.58" height="6.72" fill="#f7f6f6"/><rect x="501.80" y="453.25" width="7.58" height="6.72" fill="#f3a481"/><rect x="509.38" y="453.25" width="7.58" height="6.72" fill="#dae9f2"/><rect x="69.70" y="459.97" width="7.58" height="6.72" fill="#fce2d2"/><rect x="77.28" y="459.97" width="7.58" height="6.72" fill="#fce2d2"/><rect x="84.86" y="459.97" width="7.58" height="6.72" fill="#fce2d2"/><rect x="92.44" y="459.97" width="7.58" height="6.72" fill="#edf2f5"/><rect x="100.02" y="459.97" width="7.58" height="6.72" fill="#edf2f5"/><rect x="107.60" y="459.97" width="7.58" height="6.72" fill="#edf2f5"/><rect x="115.18" y="459.97" width="7.58" height="6.72" fill="#f7f6f6"/><rect x="122.76" y="459.97" width="7.58" height="6.72" fill="#f7f6f6"/><rect x="130.35" y="459.97" width="7.58" height="6.72" fill="#f6b394"/><rect x="137.93" y="459.97" width="7.58" height="6.72" fill="#f9f0eb"/><rect x="145.51" y="459.97" width="7.58" height="6.72" fill="#f7f6f6"/><rect x="153.09" y="459.97" width="7.58" height="6.72" fill="#f7f6f6"/><rect x="160.67" y="459.97" width="7.58" height="6.72" fill="#f9f0eb"/><rect x="168.25" y="459.97" width="7.58" height="6.72" fill="#f7f6f6"/><rect x="175.83" y="459.97" width="7.58" height="6.72" fill="#edf2f5"/><rect x="183.41" y="459.97" width="7.58" height="6.72" fill="#f7f6f6"/><rect x="190.99" y="459.97" width="7.58" height="6.72" fill="#f7f6f6"/><rect x="198.57" y="459.97" width="7.58" height="6.72" fill="#fce2d2"/><rect x="206.15" y="459.97" width="7.58" height="6.72" fill="#f7f6f6"/><rect x="213.73" y="459.97" width="7.58" height="6.72" fill="#f7f6f6"/><rect x="221.31" y="459.97" width="7.58" height="6.72" fill="#f7f6f6"/><rect x="228.89" y="459.97" width="7.58" height="6.72" fill="#f9f0eb"/><rect x="236.47" y="459.97" width="7.58" height="6.72" fill="#fce2d2"/><rect x="244.05" y="459.97" width="7.58" height="6.72" fill="#f7f6f6"/><rect x="251.64" y="459.97" width="7.58" height="6.72" fill="#f7f6f6"/><rect x="259.22" y="459.97" width="7.58" height="6.72" fill="#f9f0eb"/><rect x="266.80" y="459.97" width="7.58" height="6.72" fill="#f7f6f6"/><rect x="274.38" y="459.97" width="7.58" height="6.72" fill="#e4eef4"/><rect x="281.96" y="459.97" width="7.58" height="6.72" fill="#fce2d2"/><rect x="289.54" y="459.97" width="7.58" height="6.72" fill="#edf2f5"/><rect x="297.12" y="459.97" width="7.58" height="6.72" fill="#d1e5f0"/><rect x="304.70" y="459.97" width="7.58" height="6.72" fill="#e4eef4"/><rect x="312.28" y="459.97" width="7.58" height="6.72" fill="#f7f6f6"/><rect x="319.86" y="459.97" width="7.58" height="6.72" fill="#f7f6f6"/><rect x="327.44" y="459.97" width="7.58" height="6.72" fill="#f7f6f6"/><rect x="335.02" y="459.97" width="7.58" height="6.72" fill="#f9f0eb"/><rect x="342.60" y="459.97" width="7.58" height="6.72" fill="#f9f0eb"/><rect x="350.18" y="459.97" width="7.58" height="6.72" fill="#f7f6f6"/><rect x="357.76" y="459.97" width="7.58" height="6.72" fill="#f7f6f6"/><rect x="365.35" y="459.97" width="7.58" height="6.72" fill="#f7f6f6"/><rect x="372.93" y="459.97" width="7.58" height="6.72" fill="#e4eef4"/><rect x="380.51" y="459.97" width="7.58" height="6.72" fill="#f7f6f6"/><rect x="388.09" y="459.97" width="7.58" height="6.72" fill="#f9f0eb"/><rect x="395.67" y="459.97" width="7.58" height="6.72" fill="#f7f6f6"/><rect x="403.25" y="459.97" width="7.58" height="6.72" fill="#f7f6f6"/><rect x="410.83" y="459.97" width="7.58" height="6.72" fill="#f7f6f6"/><rect x="418.41" y="459.97" width="7.58" height="6.72" fill="#f9f0eb"/><rect x="425.99" y="459.97" width="7.58" height="6.72" fill="#f7f6f6"/><rect x="433.57" y="459.97" width="7.58" height="6.72" fill="#f9f0eb"/><rect x="441.15" y="459.97" width="7.58" height="6.72" fill="#f6b394"/><rect x="448.73" y="459.97" width="7.58" height="6.72" fill="#f7f6f6"/><rect x="456.31" y="459.97" width="7.58" height="6.72" fill="#f9f0eb"/><rect x="463.89" y="459.97" width="7.58" height="6.72" fill="#f9f0eb"/><rect x="471.47" y="459.97" width="7.58" height="6.72" fill="#e4eef4"/><rect x="479.05" y="459.97" width="7.58" height="6.72" fill="#fce2d2"/><rect x="486.64" y="459.97" width="7.58" height="6.72" fill="#edf2f5"/><rect x="494.22" y="459.97" width="7.58" height="6.72" fill="#f9f0eb"/><rect x="501.80" y="459.97" width="7.58" height="6.72" fill="#f7f6f6"/><rect x="509.38" y="459.97" width="7.58" height="6.72" fill="#edf2f5"/><rect x="516.96" y="459.97" width="7.58" height="6.72" fill="#f7f6f6"/><rect x="69.70" y="466.68" width="7.58" height="6.72" fill="#f9f0eb"/><rect x="77.28" y="466.68" width="7.58" height="6.72" fill="#f9f0eb"/><rect x="84.86" y="466.68" width="7.58" height="6.72" fill="#f7f6f6"/><rect x="92.44" y="466.68" width="7.58" height="6.72" fill="#fce2d2"/><rect x="100.02" y="466.68" width="7.58" height="6.72" fill="#e48066"/><rect x="107.60" y="466.68" width="7.58" height="6.72" fill="#e48066"/><rect x="115.18" y="466.68" width="7.58" height="6.72" fill="#edf2f5"/><rect x="122.76" y="466.68" width="7.58" height="6.72" fill="#edf2f5"/><rect x="130.35" y="466.68" width="7.58" height="6.72" fill="#f7f6f6"/><rect x="137.93" y="466.68" width="7.58" height="6.72" fill="#f7f6f6"/><rect x="145.51" y="466.68" width="7.58" height="6.72" fill="#f7f6f6"/><rect x="153.09" y="466.68" width="7.58" height="6.72" fill="#f7f6f6"/><rect x="160.67" y="466.68" width="7.58" height="6.72" fill="#f7f6f6"/><rect x="168.25" y="466.68" width="7.58" height="6.72" fill="#fae9df"/><rect x="175.83" y="466.68" width="7.58" height="6.72" fill="#f9f0eb"/><rect x="183.41" y="466.68" width="7.58" height="6.72" fill="#f9f0eb"/><rect x="190.99" y="466.68" width="7.58" height="6.72" fill="#f7f6f6"/><rect x="198.57" y="466.68" width="7.58" height="6.72" fill="#f7f6f6"/><rect x="206.15" y="466.68" width="7.58" height="6.72" fill="#fae9df"/><rect x="213.73" y="466.68" width="7.58" height="6.72" fill="#f9f0eb"/><rect x="221.31" y="466.68" width="7.58" height="6.72" fill="#f7f6f6"/><rect x="228.89" y="466.68" width="7.58" height="6.72" fill="#dd7059"/><rect x="236.47" y="466.68" width="7.58" height="6.72" fill="#d1e5f0"/><rect x="244.05" y="466.68" width="7.58" height="6.72" fill="#fce2d2"/><rect x="251.64" y="466.68" width="7.58" height="6.72" fill="#f7f6f6"/><rect x="259.22" y="466.68" width="7.58" height="6.72" fill="#f9f0eb"/><rect x="266.80" y="466.68" width="7.58" height="6.72" fill="#f9f0eb"/><rect x="274.38" y="466.68" width="7.58" height="6.72" fill="#f7f6f6"/><rect x="281.96" y="466.68" width="7.58" height="6.72" fill="#fae9df"/><rect x="289.54" y="466.68" width="7.58" height="6.72" fill="#fae9df"/><rect x="297.12" y="466.68" width="7.58" height="6.72" fill="#f7f6f6"/><rect x="304.70" y="466.68" width="7.58" height="6.72" fill="#f7f6f6"/><rect x="312.28" y="466.68" width="7.58" height="6.72" fill="#fce2d2"/><rect x="319.86" y="466.68" width="7.58" height="6.72" fill="#f6b394"/><rect x="327.44" y="466.68" width="7.58" height="6.72" fill="#fae9df"/><rect x="335.02" y="466.68" width="7.58" height="6.72" fill="#f9f0eb"/><rect x="342.60" y="466.68" width="7.58" height="6.72" fill="#f8bfa4"/><rect x="350.18" y="466.68" width="7.58" height="6.72" fill="#fae9df"/><rect x="357.76" y="466.68" width="7.58" height="6.72" fill="#fae9df"/><rect x="365.35" y="466.68" width="7.58" height="6.72" fill="#f7f6f6"/><rect x="372.93" y="466.68" width="7.58" height="6.72" fill="#f7f6f6"/><rect x="380.51" y="466.68" width="7.58" height="6.72" fill="#f7f6f6"/><rect x="388.09" y="466.68" width="7.58" height="6.72" fill="#fae9df"/><rect x="395.67" y="466.68" width="7.58" height="6.72" fill="#f7f6f6"/><rect x="403.25" y="466.68" width="7.58" height="6.72" fill="#f7f6f6"/><rect x="410.83" y="466.68" width="7.58" height="6.72" fill="#f7f6f6"/><rect x="418.41" y="466.68" width="7.58" height="6.72" fill="#f7f6f6"/><rect x="425.99" y="466.68" width="7.58" height="6.72" fill="#f7f6f6"/><rect x="433.57" y="466.68" width="7.58" height="6.72" fill="#f7f6f6"/><rect x="441.15" y="466.68" width="7.58" height="6.72" fill="#f9f0eb"/><rect x="448.73" y="466.68" width="7.58" height="6.72" fill="#f7f6f6"/><rect x="456.31" y="466.68" width="7.58" height="6.72" fill="#fce2d2"/><rect x="463.89" y="466.68" width="7.58" height="6.72" fill="#fddbc7"/><rect x="471.47" y="466.68" width="7.58" height="6.72" fill="#fddbc7"/><rect x="479.05" y="466.68" width="7.58" height="6.72" fill="#f7f6f6"/><rect x="486.64" y="466.68" width="7.58" height="6.72" fill="#edf2f5"/><rect x="494.22" y="466.68" width="7.58" height="6.72" fill="#f7f6f6"/><rect x="501.80" y="466.68" width="7.58" height="6.72" fill="#edf2f5"/><rect x="509.38" y="466.68" width="7.58" height="6.72" fill="#fddbc7"/><rect x="516.96" y="466.68" width="7.58" height="6.72" fill="#edf2f5"/><rect x="524.54" y="466.68" width="7.58" height="6.72" fill="#edf2f5"/></g>
<line x1="67.25" x2="69.7" y1="60.36" y2="60.36" stroke="#000" stroke-width="0.85"/>
<text x="64.80" y="62.95" text-anchor="end">absacc</text>
<line x1="67.25" x2="69.7" y1="67.07" y2="67.07" stroke="#000" stroke-width="0.85"/>
<text x="64.80" y="69.67" text-anchor="end">acc</text>
<line x1="67.25" x2="69.7" y1="73.79" y2="73.79" stroke="#000" stroke-width="0.85"/>
<text x="64.80" y="76.38" text-anchor="end">age</text>
<line x1="67.25" x2="69.7" y1="80.51" y2="80.51" stroke="#000" stroke-width="0.85"/>
<text x="64.80" y="83.10" text-anchor="end">agr</text>
<line x1="67.25" x2="69.7" y1="87.22" y2="87.22" stroke="#000" stroke-width="0.85"/>
<text x="64.80" y="89.81" text-anchor="end">beta</text>
<line x1="67.25" x2="69.7" y1="93.94" y2="93.94" stroke="#000" stroke-width="0.85"/>
<text x="64.80" y="96.53" text-anchor="end">beta_sq</text>
<line x1="67.25" x2="69.7" y1="100.65" y2="100.65" stroke="#000" stroke-width="0.85"/>
<text x="64.80" y="103.25" text-anchor="end">bm</text>
<line x1="67.25" x2="69.7" y1="107.37" y2="107.37" stroke="#000" stroke-width="0.85"/>
<text x="64.80" y="109.96" text-anchor="end">bm_ia</text>
<line x1="67.25" x2="69.7" y1="114.09" y2="114.09" stroke="#000" stroke-width="0.85"/>
<text x="64.80" y="116.68" text-anchor="end">cash</text>
<line x1="67.25" x2="69.7" y1="120.80" y2="120.80" stroke="#000" stroke-width="0.85"/>
<text x="64.80" y="123.40" text-anchor="end">cashdebt</text>
<line x1="67.25" x2="69.7" y1="127.52" y2="127.52" stroke="#000" stroke-width="0.85"/>
<text x="64.80" y="130.11" text-anchor="end">cashpr</text>
<line x1="67.25" x2="69.7" y1="134.24" y2="134.24" stroke="#000" stroke-width="0.85"/>
<text x="64.80" y="136.83" text-anchor="end">cfp_ia</text>
<line x1="67.25" x2="69.7" y1="140.95" y2="140.95" stroke="#000" stroke-width="0.85"/>
<text x="64.80" y="143.54" text-anchor="end">chato_ia</text>
<line x1="67.25" x2="69.7" y1="147.67" y2="147.67" stroke="#000" stroke-width="0.85"/>
<text x="64.80" y="150.26" text-anchor="end">chg_mom6m</text>
<line x1="67.25" x2="69.7" y1="154.38" y2="154.38" stroke="#000" stroke-width="0.85"/>
<text x="64.80" y="156.98" text-anchor="end">chinv</text>
<line x1="67.25" x2="69.7" y1="161.10" y2="161.10" stroke="#000" stroke-width="0.85"/>
<text x="64.80" y="163.69" text-anchor="end">chpm_ia</text>
<line x1="67.25" x2="69.7" y1="167.82" y2="167.82" stroke="#000" stroke-width="0.85"/>
<text x="64.80" y="170.41" text-anchor="end">chshrout</text>
<line x1="67.25" x2="69.7" y1="174.53" y2="174.53" stroke="#000" stroke-width="0.85"/>
<text x="64.80" y="177.12" text-anchor="end">currat</text>
<line x1="67.25" x2="69.7" y1="181.25" y2="181.25" stroke="#000" stroke-width="0.85"/>
<text x="64.80" y="183.84" text-anchor="end">depr</text>
<line x1="67.25" x2="69.7" y1="187.96" y2="187.96" stroke="#000" stroke-width="0.85"/>
<text x="64.80" y="190.56" text-anchor="end">divi</text>
<line x1="67.25" x2="69.7" y1="194.68" y2="194.68" stroke="#000" stroke-width="0.85"/>
<text x="64.80" y="197.27" text-anchor="end">divo</text>
<line x1="67.25" x2="69.7" y1="201.40" y2="201.40" stroke="#000" stroke-width="0.85"/>
<text x="64.80" y="203.99" text-anchor="end">dolvol</text>
<line x1="67.25" x2="69.7" y1="208.11" y2="208.11" stroke="#000" stroke-width="0.85"/>
<text x="64.80" y="210.70" text-anchor="end">dy</text>
<line x1="67.25" x2="69.7" y1="214.83" y2="214.83" stroke="#000" stroke-width="0.85"/>
<text x="64.80" y="217.42" text-anchor="end">egr</text>
<line x1="67.25" x2="69.7" y1="221.55" y2="221.55" stroke="#000" stroke-width="0.85"/>
<text x="64.80" y="224.14" text-anchor="end">ep</text>
<line x1="67.25" x2="69.7" y1="228.26" y2="228.26" stroke="#000" stroke-width="0.85"/>
<text x="64.80" y="230.85" text-anchor="end">gma</text>
<line x1="67.25" x2="69.7" y1="234.98" y2="234.98" stroke="#000" stroke-width="0.85"/>
<text x="64.80" y="237.57" text-anchor="end">grcapex</text>
<line x1="67.25" x2="69.7" y1="241.69" y2="241.69" stroke="#000" stroke-width="0.85"/>
<text x="64.80" y="244.29" text-anchor="end">hire</text>
<line x1="67.25" x2="69.7" y1="248.41" y2="248.41" stroke="#000" stroke-width="0.85"/>
<text x="64.80" y="251.00" text-anchor="end">idiovol</text>
<line x1="67.25" x2="69.7" y1="255.13" y2="255.13" stroke="#000" stroke-width="0.85"/>
<text x="64.80" y="257.72" text-anchor="end">invest</text>
<line x1="67.25" x2="69.7" y1="261.84" y2="261.84" stroke="#000" stroke-width="0.85"/>
<text x="64.80" y="264.43" text-anchor="end">lev</text>
<line x1="67.25" x2="69.7" y1="268.56" y2="268.56" stroke="#000" stroke-width="0.85"/>
<text x="64.80" y="271.15" text-anchor="end">lgr</text>
<line x1="67.25" x2="69.7" y1="275.27" y2="275.27" stroke="#000" stroke-width="0.85"/>
<text x="64.80" y="277.87" text-anchor="end">maxret</text>
<line x1="67.25" x2="69.7" y1="281.99" y2="281.99" stroke="#000" stroke-width="0.85"/>
<text x="64.80" y="284.58" text-anchor="end">mom12m</text>
<line x1="67.25" x2="69.7" y1="288.71" y2="288.71" stroke="#000" stroke-width="0.85"/>
<text x="64.80" y="291.30" text-anchor="end">mom1m</text>
<line x1="67.25" x2="69.7" y1="295.42" y2="295.42" stroke="#000" stroke-width="0.85"/>
<text x="64.80" y="298.01" text-anchor="end">mom36m</text>
<line x1="67.25" x2="69.7" y1="302.14" y2="302.14" stroke="#000" stroke-width="0.85"/>
<text x="64.80" y="304.73" text-anchor="end">mom6m</text>
<line x1="67.25" x2="69.7" y1="308.85" y2="308.85" stroke="#000" stroke-width="0.85"/>
<text x="64.80" y="311.45" text-anchor="end">mve</text>
<line x1="67.25" x2="69.7" y1="315.57" y2="315.57" stroke="#000" stroke-width="0.85"/>
<text x="64.80" y="318.16" text-anchor="end">mve_ia</text>
<line x1="67.25" x2="69.7" y1="322.29" y2="322.29" stroke="#000" stroke-width="0.85"/>
<text x="64.80" y="324.88" text-anchor="end">pchcapx_ia</text>
<line x1="67.25" x2="69.7" y1="329.00" y2="329.00" stroke="#000" stroke-width="0.85"/>
<text x="64.80" y="331.60" text-anchor="end">pchcurrat</text>
<line x1="67.25" x2="69.7" y1="335.72" y2="335.72" stroke="#000" stroke-width="0.85"/>
<text x="64.80" y="338.31" text-anchor="end">pchdepr</text>
<line x1="67.25" x2="69.7" y1="342.44" y2="342.44" stroke="#000" stroke-width="0.85"/>
<text x="64.80" y="345.03" text-anchor="end">pchgm_pchsale</text>
<line x1="67.25" x2="69.7" y1="349.15" y2="349.15" stroke="#000" stroke-width="0.85"/>
<text x="64.80" y="351.74" text-anchor="end">pchquick</text>
<line x1="67.25" x2="69.7" y1="355.87" y2="355.87" stroke="#000" stroke-width="0.85"/>
<text x="64.80" y="358.46" text-anchor="end">pchsale_pchinvt</text>
<line x1="67.25" x2="69.7" y1="362.58" y2="362.58" stroke="#000" stroke-width="0.85"/>
<text x="64.80" y="365.18" text-anchor="end">pchsale_pchrect</text>
<line x1="67.25" x2="69.7" y1="369.30" y2="369.30" stroke="#000" stroke-width="0.85"/>
<text x="64.80" y="371.89" text-anchor="end">pchsale_pchxsga</text>
<line x1="67.25" x2="69.7" y1="376.02" y2="376.02" stroke="#000" stroke-width="0.85"/>
<text x="64.80" y="378.61" text-anchor="end">pchsaleinv</text>
<line x1="67.25" x2="69.7" y1="382.73" y2="382.73" stroke="#000" stroke-width="0.85"/>
<text x="64.80" y="385.32" text-anchor="end">pctacc</text>
<line x1="67.25" x2="69.7" y1="389.45" y2="389.45" stroke="#000" stroke-width="0.85"/>
<text x="64.80" y="392.04" text-anchor="end">quick</text>
<line x1="67.25" x2="69.7" y1="396.16" y2="396.16" stroke="#000" stroke-width="0.85"/>
<text x="64.80" y="398.76" text-anchor="end">rd</text>
<line x1="67.25" x2="69.7" y1="402.88" y2="402.88" stroke="#000" stroke-width="0.85"/>
<text x="64.80" y="405.47" text-anchor="end">rd_mve</text>
<line x1="67.25" x2="69.7" y1="409.60" y2="409.60" stroke="#000" stroke-width="0.85"/>
<text x="64.80" y="412.19" text-anchor="end">rd_sale</text>
<line x1="67.25" x2="69.7" y1="416.31" y2="416.31" stroke="#000" stroke-width="0.85"/>
<text x="64.80" y="418.90" text-anchor="end">retvol</text>
<line x1="67.25" x2="69.7" y1="423.03" y2="423.03" stroke="#000" stroke-width="0.85"/>
<text x="64.80" y="425.62" text-anchor="end">roic</text>
<line x1="67.25" x2="69.7" y1="429.75" y2="429.75" stroke="#000" stroke-width="0.85"/>
<text x="64.80" y="432.34" text-anchor="end">salecash</text>
<line x1="67.25" x2="69.7" y1="436.46" y2="436.46" stroke="#000" stroke-width="0.85"/>
<text x="64.80" y="439.05" text-anchor="end">saleinv</text>
<line x1="67.25" x2="69.7" y1="443.18" y2="443.18" stroke="#000" stroke-width="0.85"/>
<text x="64.80" y="445.77" text-anchor="end">salerec</text>
<line x1="67.25" x2="69.7" y1="449.89" y2="449.89" stroke="#000" stroke-width="0.85"/>
<text x="64.80" y="452.49" text-anchor="end">sgr</text>
<line x1="67.25" x2="69.7" y1="456.61" y2="456.61" stroke="#000" stroke-width="0.85"/>
<text x="64.80" y="459.20" text-anchor="end">sp</text>
<line x1="67.25" x2="69.7" y1="463.33" y2="463.33" stroke="#000" stroke-width="0.85"/>
<text x="64.80" y="465.92" text-anchor="end">tang</text>
<line x1="67.25" x2="69.7" y1="470.04" y2="470.04" stroke="#000" stroke-width="0.85"/>
<text x="64.80" y="472.63" text-anchor="end">turn</text>
<line x1="73.49" x2="73.49" y1="473.4" y2="475.85" stroke="#000" stroke-width="0.85"/>
<text transform="translate(76.08,478.30) rotate(-90)" text-anchor="end">absacc</text>
<line x1="81.07" x2="81.07" y1="473.4" y2="475.85" stroke="#000" stroke-width="0.85"/>
<text transform="translate(83.66,478.30) rotate(-90)" text-anchor="end">acc</text>
<line x1="88.65" x2="88.65" y1="473.4" y2="475.85" stroke="#000" stroke-width="0.85"/>
<text transform="translate(91.24,478.30) rotate(-90)" text-anchor="end">age</text>
<line x1="96.23" x2="96.23" y1="473.4" y2="475.85" stroke="#000" stroke-width="0.85"/>
<text transform="translate(98.82,478.30) rotate(-90)" text-anchor="end">agr</text>
<line x1="103.81" x2="103.81" y1="473.4" y2="475.85" stroke="#000" stroke-width="0.85"/>
<text transform="translate(106.40,478.30) rotate(-90)" text-anchor="end">beta</text>
<line x1="111.39" x2="111.39" y1="473.4" y2="475.85" stroke="#000" stroke-width="0.85"/>
<text transform="translate(113.99,478.30) rotate(-90)" text-anchor="end">beta_sq</text>
<line x1="118.97" x2="118.97" y1="473.4" y2="475.85" stroke="#000" stroke-width="0.85"/>
<text transform="translate(121.57,478.30) rotate(-90)" text-anchor="end">bm</text>
<line x1="126.55" x2="126.55" y1="473.4" y2="475.85" stroke="#000" stroke-width="0.85"/>
<text transform="translate(129.15,478.30) rotate(-90)" text-anchor="end">bm_ia</text>
<line x1="134.14" x2="134.14" y1="473.4" y2="475.85" stroke="#000" stroke-width="0.85"/>
<text transform="translate(136.73,478.30) rotate(-90)" text-anchor="end">cash</text>
<line x1="141.72" x2="141.72" y1="473.4" y2="475.85" stroke="#000" stroke-width="0.85"/>
<text transform="translate(144.31,478.30) rotate(-90)" text-anchor="end">cashdebt</text>
<line x1="149.30" x2="149.30" y1="473.4" y2="475.85" stroke="#000" stroke-width="0.85"/>
<text transform="translate(151.89,478.30) rotate(-90)" text-anchor="end">cashpr</text>
<line x1="156.88" x2="156.88" y1="473.4" y2="475.85" stroke="#000" stroke-width="0.85"/>
<text transform="translate(159.47,478.30) rotate(-90)" text-anchor="end">cfp_ia</text>
<line x1="164.46" x2="164.46" y1="473.4" y2="475.85" stroke="#000" stroke-width="0.85"/>
<text transform="translate(167.05,478.30) rotate(-90)" text-anchor="end">chato_ia</text>
<line x1="172.04" x2="172.04" y1="473.4" y2="475.85" stroke="#000" stroke-width="0.85"/>
<text transform="translate(174.63,478.30) rotate(-90)" text-anchor="end">chg_mom6m</text>
<line x1="179.62" x2="179.62" y1="473.4" y2="475.85" stroke="#000" stroke-width="0.85"/>
<text transform="translate(182.21,478.30) rotate(-90)" text-anchor="end">chinv</text>
<line x1="187.20" x2="187.20" y1="473.4" y2="475.85" stroke="#000" stroke-width="0.85"/>
<text transform="translate(189.79,478.30) rotate(-90)" text-anchor="end">chpm_ia</text>
<line x1="194.78" x2="194.78" y1="473.4" y2="475.85" stroke="#000" stroke-width="0.85"/>
<text transform="translate(197.37,478.30) rotate(-90)" text-anchor="end">chshrout</text>
<line x1="202.36" x2="202.36" y1="473.4" y2="475.85" stroke="#000" stroke-width="0.85"/>
<text transform="translate(204.95,478.30) rotate(-90)" text-anchor="end">currat</text>
<line x1="209.94" x2="209.94" y1="473.4" y2="475.85" stroke="#000" stroke-width="0.85"/>
<text transform="translate(212.53,478.30) rotate(-90)" text-anchor="end">depr</text>
<line x1="217.52" x2="217.52" y1="473.4" y2="475.85" stroke="#000" stroke-width="0.85"/>
<text transform="translate(220.11,478.30) rotate(-90)" text-anchor="end">divi</text>
<line x1="225.10" x2="225.10" y1="473.4" y2="475.85" stroke="#000" stroke-width="0.85"/>
<text transform="translate(227.70,478.30) rotate(-90)" text-anchor="end">divo</text>
<line x1="232.68" x2="232.68" y1="473.4" y2="475.85" stroke="#000" stroke-width="0.85"/>
<text transform="translate(235.28,478.30) rotate(-90)" text-anchor="end">dolvol</text>
<line x1="240.26" x2="240.26" y1="473.4" y2="475.85" stroke="#000" stroke-width="0.85"/>
<text transform="translate(242.86,478.30) rotate(-90)" text-anchor="end">dy</text>
<line x1="247.85" x2="247.85" y1="473.4" y2="475.85" stroke="#000" stroke-width="0.85"/>
<text transform="translate(250.44,478.30) rotate(-90)" text-anchor="end">egr</text>
<line x1="255.43" x2="255.43" y1="473.4" y2="475.85" stroke="#000" stroke-width="0.85"/>
<text transform="translate(258.02,478.30) rotate(-90)" text-anchor="end">ep</text>
<line x1="263.01" x2="263.01" y1="473.4" y2="475.85" stroke="#000" stroke-width="0.85"/>
<text transform="translate(265.60,478.30) rotate(-90)" text-anchor="end">gma</text>
<line x1="270.59" x2="270.59" y1="473.4" y2="475.85" stroke="#000" stroke-width="0.85"/>
<text transform="translate(273.18,478.30) rotate(-90)" text-anchor="end">grcapex</text>
<line x1="278.17" x2="278.17" y1="473.4" y2="475.85" stroke="#000" stroke-width="0.85"/>
<text transform="translate(280.76,478.30) rotate(-90)" text-anchor="end">hire</text>
<line x1="285.75" x2="285.75" y1="473.4" y2="475.85" stroke="#000" stroke-width="0.85"/>
<text transform="translate(288.34,478.30) rotate(-90)" text-anchor="end">idiovol</text>
<line x1="293.33" x2="293.33" y1="473.4" y2="475.85" stroke="#000" stroke-width="0.85"/>
<text transform="translate(295.92,478.30) rotate(-90)" text-anchor="end">invest</text>
<line x1="300.91" x2="300.91" y1="473.4" y2="475.85" stroke="#000" stroke-width="0.85"/>
<text transform="translate(303.50,478.30) rotate(-90)" text-anchor="end">lev</text>
<line x1="308.49" x2="308.49" y1="473.4" y2="475.85" stroke="#000" stroke-width="0.85"/>
<text transform="translate(311.08,478.30) rotate(-90)" text-anchor="end">lgr</text>
<line x1="316.07" x2="316.07" y1="473.4" y2="475.85" stroke="#000" stroke-width="0.85"/>
<text transform="translate(318.66,478.30) rotate(-90)" text-anchor="end">maxret</text>
<line x1="323.65" x2="323.65" y1="473.4" y2="475.85" stroke="#000" stroke-width="0.85"/>
<text transform="translate(326.24,478.30) rotate(-90)" text-anchor="end">mom12m</text>
<line x1="331.23" x2="331.23" y1="473.4" y2="475.85" stroke="#000" stroke-width="0.85"/>
<text transform="translate(333.82,478.30) rotate(-90)" text-anchor="end">mom1m</text>
<line x1="338.81" x2="338.81" y1="473.4" y2="475.85" stroke="#000" stroke-width="0.85"/>
<text transform="translate(341.40,478.30) rotate(-90)" text-anchor="end">mom36m</text>
<line x1="346.39" x2="346.39" y1="473.4" y2="475.85" stroke="#000" stroke-width="0.85"/>
<text transform="translate(348.99,478.30) rotate(-90)" text-anchor="end">mom6m</text>
<line x1="353.97" x2="353.97" y1="473.4" y2="475.85" stroke="#000" stroke-width="0.85"/>
<text transform="translate(356.57,478.30) rotate(-90)" text-anchor="end">mve</text>
<line x1="361.55" x2="361.55" y1="473.4" y2="475.85" stroke="#000" stroke-width="0.85"/>
<text transform="translate(364.15,478.30) rotate(-90)" text-anchor="end">mve_ia</text>
<line x1="369.14" x2="369.14" y1="473.4" y2="475.85" stroke="#000" stroke-width="0.85"/>
<text transform="translate(371.73,478.30) rotate(-90)" text-anchor="end">pchcapx_ia</text>
<line x1="376.72" x2="376.72" y1="473.4" y2="475.85" stroke="#000" stroke-width="0.85"/>
<text transform="translate(379.31,478.30) rotate(-90)" text-anchor="end">pchcurrat</text>
<line x1="384.30" x2="384.30" y1="473.4" y2="475.85" stroke="#000" stroke-width="0.85"/>
<text transform="translate(386.89,478.30) rotate(-90)" text-anchor="end">pchdepr</text>
<line x1="391.88" x2="391.88" y1="473.4" y2="475.85" stroke="#000" stroke-width="0.85"/>
<text transform="translate(394.47,478.30) rotate(-90)" text-anchor="end">pchgm_pchsale</text>
<line x1="399.46" x2="399.46" y1="473.4" y2="475.85" stroke="#000" stroke-width="0.85"/>
<text transform="translate(402.05,478.30) rotate(-90)" text-anchor="end">pchquick</text>
<line x1="407.04" x2="407.04" y1="473.4" y2="475.85" stroke="#000" stroke-width="0.85"/>
<text transform="translate(409.63,478.30) rotate(-90)" text-anchor="end">pchsale_pchinvt</text>
<line x1="414.62" x2="414.62" y1="473.4" y2="475.85" stroke="#000" stroke-width="0.85"/>
<text transform="translate(417.21,478.30) rotate(-90)" text-anchor="end">pchsale_pchrect</text>
<line x1="422.20" x2="422.20" y1="473.4" y2="475.85" stroke="#000" stroke-width="0.85"/>
<text transform="translate(424.79,478.30) rotate(-90)" text-anchor="end">pchsale_pchxsga</text>
<line x1="429.78" x2="429.78" y1="473.4" y2="475.85" stroke="#000" stroke-width="0.85"/>
<text transform="translate(432.37,478.30) rotate(-90)" text-anchor="end">pchsaleinv</text>
<line x1="437.36" x2="437.36" y1="473.4" y2="475.85" stroke="#000" stroke-width="0.85"/>
<text transform="translate(439.95,478.30) rotate(-90)" text-anchor="end">pctacc</text>
<line x1="444.94" x2="444.94" y1="473.4" y2="475.85" stroke="#000" stroke-width="0.85"/>
<text transform="translate(447.53,478.30) rotate(-90)" text-anchor="end">quick</text>
<line x1="452.52" x2="452.52" y1="473.4" y2="475.85" stroke="#000" stroke-width="0.85"/>
<text transform="translate(455.11,478.30) rotate(-90)" text-anchor="end">rd</text>
<line x1="460.10" x2="460.10" y1="473.4" y2="475.85" stroke="#000" stroke-width="0.85"/>
<text transform="translate(462.70,478.30) rotate(-90)" text-anchor="end">rd_mve</text>
<line x1="467.68" x2="467.68" y1="473.4" y2="475.85" stroke="#000" stroke-width="0.85"/>
<text transform="translate(470.28,478.30) rotate(-90)" text-anchor="end">rd_sale</text>
<line x1="475.26" x2="475.26" y1="473.4" y2="475.85" stroke="#000" stroke-width="0.85"/>
<text transform="translate(477.86,478.30) rotate(-90)" text-anchor="end">retvol</text>
<line x1="482.85" x2="482.85" y1="473.4" y2="475.85" stroke="#000" stroke-width="0.85"/>
<text transform="translate(485.44,478.30) rotate(-90)" text-anchor="end">roic</text>
<line x1="490.43" x2="490.43" y1="473.4" y2="475.85" stroke="#000" stroke-width="0.85"/>
<text transform="translate(493.02,478.30) rotate(-90)" text-anchor="end">salecash</text>
<line x1="498.01" x2="498.01" y1="473.4" y2="475.85" stroke="#000" stroke-width="0.85"/>
<text transform="translate(500.60,478.30) rotate(-90)" text-anchor="end">saleinv</text>
<line x1="505.59" x2="505.59" y1="473.4" y2="475.85" stroke="#000" stroke-width="0.85"/>
<text transform="translate(508.18,478.30) rotate(-90)" text-anchor="end">salerec</text>
<line x1="513.17" x2="513.17" y1="473.4" y2="475.85" stroke="#000" stroke-width="0.85"/>
<text transform="translate(515.76,478.30) rotate(-90)" text-anchor="end">sgr</text>
<line x1="520.75" x2="520.75" y1="473.4" y2="475.85" stroke="#000" stroke-width="0.85"/>
<text transform="translate(523.34,478.30) rotate(-90)" text-anchor="end">sp</text>
<line x1="528.33" x2="528.33" y1="473.4" y2="475.85" stroke="#000" stroke-width="0.85"/>
<text transform="translate(530.92,478.30) rotate(-90)" text-anchor="end">tang</text>
<line x1="535.91" x2="535.91" y1="473.4" y2="475.85" stroke="#000" stroke-width="0.85"/>
<text transform="translate(538.50,478.30) rotate(-90)" text-anchor="end">turn</text>
</g></svg>
</body></html>
